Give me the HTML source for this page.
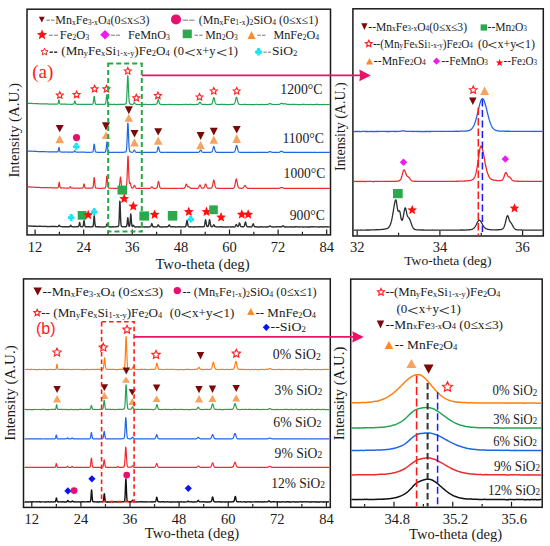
<!DOCTYPE html>
<html><head><meta charset="utf-8"><style>
html,body{margin:0;padding:0;background:#fff;width:550px;height:546px;overflow:hidden}
svg{display:block}
</style></head><body>
<svg width="550" height="546" viewBox="0 0 550 546">
<rect width="550" height="546" fill="#fff"/>
<rect x="27.00" y="9.20" width="303.50" height="225.70" fill="none" stroke="#1a1a1a" stroke-width="1.5"/>
<line x1="35.10" y1="229.50" x2="35.10" y2="234.30" stroke="#1a1a1a" stroke-width="1.2"/>
<line x1="83.70" y1="229.50" x2="83.70" y2="234.30" stroke="#1a1a1a" stroke-width="1.2"/>
<line x1="132.30" y1="229.50" x2="132.30" y2="234.30" stroke="#1a1a1a" stroke-width="1.2"/>
<line x1="180.90" y1="229.50" x2="180.90" y2="234.30" stroke="#1a1a1a" stroke-width="1.2"/>
<line x1="229.50" y1="229.50" x2="229.50" y2="234.30" stroke="#1a1a1a" stroke-width="1.2"/>
<line x1="278.10" y1="229.50" x2="278.10" y2="234.30" stroke="#1a1a1a" stroke-width="1.2"/>
<line x1="326.70" y1="229.50" x2="326.70" y2="234.30" stroke="#1a1a1a" stroke-width="1.2"/>
<line x1="59.40" y1="231.70" x2="59.40" y2="234.30" stroke="#1a1a1a" stroke-width="1.2"/>
<line x1="108.00" y1="231.70" x2="108.00" y2="234.30" stroke="#1a1a1a" stroke-width="1.2"/>
<line x1="156.60" y1="231.70" x2="156.60" y2="234.30" stroke="#1a1a1a" stroke-width="1.2"/>
<line x1="205.20" y1="231.70" x2="205.20" y2="234.30" stroke="#1a1a1a" stroke-width="1.2"/>
<line x1="253.80" y1="231.70" x2="253.80" y2="234.30" stroke="#1a1a1a" stroke-width="1.2"/>
<line x1="302.40" y1="231.70" x2="302.40" y2="234.30" stroke="#1a1a1a" stroke-width="1.2"/>
<text x="35.10" y="251.50" font-size="14.5" fill="#1a1a1a" font-family='"Liberation Serif", serif' text-anchor="middle">12</text>
<text x="83.70" y="251.50" font-size="14.5" fill="#1a1a1a" font-family='"Liberation Serif", serif' text-anchor="middle">24</text>
<text x="132.30" y="251.50" font-size="14.5" fill="#1a1a1a" font-family='"Liberation Serif", serif' text-anchor="middle">36</text>
<text x="180.90" y="251.50" font-size="14.5" fill="#1a1a1a" font-family='"Liberation Serif", serif' text-anchor="middle">48</text>
<text x="229.50" y="251.50" font-size="14.5" fill="#1a1a1a" font-family='"Liberation Serif", serif' text-anchor="middle">60</text>
<text x="278.10" y="251.50" font-size="14.5" fill="#1a1a1a" font-family='"Liberation Serif", serif' text-anchor="middle">72</text>
<text x="326.70" y="251.50" font-size="14.5" fill="#1a1a1a" font-family='"Liberation Serif", serif' text-anchor="middle">84</text>
<text x="155.40" y="269.00" font-size="15" fill="#1a1a1a" font-family='"Liberation Serif", serif' textLength="94.20" lengthAdjust="spacingAndGlyphs">Two-theta (deg)</text>
<text x="18.90" y="177.60" font-size="15" fill="#1a1a1a" font-family='"Liberation Serif", serif' textLength="94.50" lengthAdjust="spacingAndGlyphs" transform="rotate(-90 18.90 177.60)">Intensity (A.U.)</text>
<polygon points="38.90,16.70 44.70,16.70 41.80,22.60" fill="#7a0a0a"/>
<line x1="46.40" y1="20.20" x2="49.85" y2="20.20" stroke="#666" stroke-width="0.9"/>
<line x1="51.05" y1="20.20" x2="54.50" y2="20.20" stroke="#666" stroke-width="0.9"/>
<text x="55.30" y="24.10" font-size="12" fill="#1a1a1a" font-family='"Liberation Serif", serif' textLength="94.20" lengthAdjust="spacingAndGlyphs">Mn<tspan font-size="7.68" dy="0.48">x</tspan><tspan dy="-0.48">Fe</tspan><tspan font-size="7.68" dy="0.48">3-x</tspan><tspan dy="-0.48">O</tspan><tspan font-size="7.68" dy="0.48">4</tspan><tspan dy="-0.48">(0≤x≤3)</tspan></text>
<circle cx="176.00" cy="19.40" r="5.00" fill="#e8106e"/>
<line x1="182.70" y1="20.20" x2="188.00" y2="20.20" stroke="#666" stroke-width="0.9"/>
<line x1="189.20" y1="20.20" x2="194.50" y2="20.20" stroke="#666" stroke-width="0.9"/>
<text x="198.80" y="24.10" font-size="12" fill="#1a1a1a" font-family='"Liberation Serif", serif' textLength="119.40" lengthAdjust="spacingAndGlyphs">(Mn<tspan font-size="7.68" dy="0.48">x</tspan><tspan dy="-0.48">Fe</tspan><tspan font-size="7.68" dy="0.48">1-x</tspan><tspan dy="-0.48">)</tspan><tspan font-size="7.68" dy="0.48">2</tspan><tspan dy="-0.48">SiO</tspan><tspan font-size="7.68" dy="0.48">4</tspan><tspan dy="-0.48"> (0≤x≤1)</tspan></text>
<polygon points="42.00,29.40 43.43,32.83 47.14,33.13 44.31,35.55 45.17,39.17 42.00,37.23 38.83,39.17 39.69,35.55 36.86,33.13 40.57,32.83" fill="#ff1010"/>
<line x1="49.00" y1="35.20" x2="52.90" y2="35.20" stroke="#666" stroke-width="0.9"/>
<line x1="54.10" y1="35.20" x2="58.00" y2="35.20" stroke="#666" stroke-width="0.9"/>
<text x="59.80" y="39.10" font-size="12.5" fill="#1a1a1a" font-family='"Liberation Serif", serif'>Fe<tspan font-size="8.00" dy="0.50">2</tspan><tspan dy="-0.50">O</tspan><tspan font-size="8.00" dy="0.50">3</tspan></text>
<polygon points="105.00,29.90 109.80,34.70 105.00,39.50 100.20,34.70" fill="#f01af0"/>
<line x1="111.00" y1="35.20" x2="114.90" y2="35.20" stroke="#666" stroke-width="0.9"/>
<line x1="116.10" y1="35.20" x2="120.00" y2="35.20" stroke="#666" stroke-width="0.9"/>
<text x="128.00" y="39.10" font-size="12" fill="#1a1a1a" font-family='"Liberation Serif", serif' textLength="42.00" lengthAdjust="spacingAndGlyphs">FeMnO<tspan font-size="7.68" dy="0.48">3</tspan></text>
<rect x="182.70" y="29.60" width="9.10" height="8.60" fill="#2ca84f"/>
<line x1="194.50" y1="35.20" x2="198.00" y2="35.20" stroke="#666" stroke-width="0.9"/>
<line x1="199.20" y1="35.20" x2="202.70" y2="35.20" stroke="#666" stroke-width="0.9"/>
<text x="205.30" y="39.10" font-size="12" fill="#1a1a1a" font-family='"Liberation Serif", serif' textLength="32.50" lengthAdjust="spacingAndGlyphs">Mn<tspan font-size="7.68" dy="0.48">2</tspan><tspan dy="-0.48">O</tspan><tspan font-size="7.68" dy="0.48">3</tspan></text>
<polygon points="251.50,31.00 255.50,39.00 247.50,39.00" fill="#ff8a2a"/>
<line x1="257.30" y1="35.20" x2="260.80" y2="35.20" stroke="#666" stroke-width="0.9"/>
<line x1="262.00" y1="35.20" x2="265.50" y2="35.20" stroke="#666" stroke-width="0.9"/>
<text x="273.40" y="39.10" font-size="12" fill="#1a1a1a" font-family='"Liberation Serif", serif' textLength="45.70" lengthAdjust="spacingAndGlyphs">MnFe<tspan font-size="7.68" dy="0.48">2</tspan><tspan dy="-0.48">O</tspan><tspan font-size="7.68" dy="0.48">4</tspan></text>
<polygon points="44.50,48.20 45.54,50.46 48.02,50.76 46.19,52.45 46.67,54.89 44.50,53.68 42.33,54.89 42.81,52.45 40.98,50.76 43.46,50.46" fill="none" stroke="#ff2020" stroke-width="1.0" stroke-linejoin="miter"/>
<line x1="49.60" y1="52.20" x2="52.85" y2="52.20" stroke="#222" stroke-width="1.4"/>
<line x1="54.05" y1="52.20" x2="57.30" y2="52.20" stroke="#222" stroke-width="1.4"/>
<text x="61.30" y="55.40" font-size="13" fill="#1a1a1a" font-family='"Liberation Serif", serif' textLength="108.30" lengthAdjust="spacingAndGlyphs">(Mn<tspan font-size="8.32" dy="0.52">y</tspan><tspan dy="-0.52">Fe</tspan><tspan font-size="8.32" dy="0.52">x</tspan><tspan dy="-0.52">Si</tspan><tspan font-size="8.32" dy="0.52">1-x-y</tspan><tspan dy="-0.52">)Fe</tspan><tspan font-size="8.32" dy="0.52">2</tspan><tspan dy="-0.52">O</tspan><tspan font-size="8.32" dy="0.52">4</tspan></text>
<text x="173.60" y="55.40" font-size="12.5" fill="#1a1a1a" font-family='"Liberation Serif", serif'>(0</text>
<polyline points="194.79,49.65 185.66,52.77 194.79,55.90" fill="none" stroke="#1a1a1a" stroke-width="0.88" stroke-linejoin="miter"/>
<text x="195.94" y="55.40" font-size="12.5" fill="#1a1a1a" font-family='"Liberation Serif", serif'>x+y</text>
<polyline points="226.44,49.65 217.31,52.77 226.44,55.90" fill="none" stroke="#1a1a1a" stroke-width="0.88" stroke-linejoin="miter"/>
<text x="227.59" y="55.40" font-size="12.5" fill="#1a1a1a" font-family='"Liberation Serif", serif'>1)</text>
<g fill="#19e6f5"><circle cx="258.60" cy="49.53" r="1.85"/><circle cx="256.75" cy="52.08" r="1.85"/><circle cx="260.45" cy="52.08" r="1.85"/><polygon points="258.10,51.20 259.10,51.20 260.14,55.38 257.06,55.38"/></g>
<line x1="263.40" y1="52.20" x2="266.60" y2="52.20" stroke="#666" stroke-width="0.9"/>
<line x1="267.80" y1="52.20" x2="271.00" y2="52.20" stroke="#666" stroke-width="0.9"/>
<text x="272.00" y="55.40" font-size="12.5" fill="#1a1a1a" font-family='"Liberation Serif", serif' textLength="25.30" lengthAdjust="spacingAndGlyphs">SiO<tspan font-size="8.00" dy="0.50">2</tspan></text>
<text x="32.30" y="77.80" font-size="19" fill="#ff1a1a" font-family='"Liberation Serif", serif'>(a)</text>
<polyline points="27.80,103.25 28.05,103.33 28.30,103.37 28.55,103.33 28.80,103.34 29.05,103.35 29.30,103.39 29.55,103.43 29.80,103.36 30.05,103.32 30.30,103.41 30.55,103.41 30.80,103.47 31.05,103.39 31.30,103.42 31.55,103.47 31.80,103.44 32.05,103.53 32.30,103.58 32.55,103.49 32.80,103.44 33.05,103.49 33.30,103.57 33.55,103.55 33.80,103.52 34.05,103.53 34.30,103.49 34.55,103.49 34.80,103.53 35.05,103.56 35.30,103.55 35.55,103.54 35.80,103.54 36.05,103.58 36.30,103.58 36.55,103.55 36.80,103.65 37.05,103.67 37.30,103.70 37.55,103.65 37.80,103.75 38.05,103.78 38.30,103.71 38.55,103.69 38.80,103.74 39.05,103.77 39.30,103.83 39.55,103.79 39.80,103.83 40.05,103.83 40.30,103.78 40.55,103.80 40.80,103.85 41.05,103.88 41.30,103.85 41.55,103.85 41.80,103.77 42.05,103.76 42.30,103.83 42.55,103.82 42.80,103.79 43.05,103.82 43.30,103.87 43.55,103.89 43.80,103.87 44.05,103.86 44.30,103.87 44.55,103.92 44.80,103.92 45.05,103.90 45.30,103.90 45.55,103.84 45.80,103.81 46.05,103.88 46.30,103.97 46.55,103.97 46.80,103.95 47.05,103.90 47.30,103.92 47.55,104.01 47.80,104.03 48.05,104.01 48.30,104.05 48.55,103.98 48.80,103.99 49.05,104.05 49.30,104.04 49.55,104.02 49.80,103.98 50.05,104.00 50.30,104.07 50.55,103.98 50.80,104.04 51.05,104.08 51.30,104.12 51.55,104.12 51.80,104.13 52.05,104.10 52.30,104.09 52.55,104.07 52.80,104.00 53.05,104.08 53.30,104.08 53.55,104.03 53.80,104.05 54.05,104.06 54.30,104.05 54.55,104.04 54.80,104.06 55.05,104.09 55.30,104.11 55.55,104.10 55.80,104.03 56.05,104.01 56.30,104.00 56.55,104.05 56.80,104.11 57.05,104.14 57.30,104.14 57.55,104.12 57.80,103.91 58.05,103.52 58.30,102.59 58.55,101.12 58.80,99.90 59.05,100.03 59.30,101.41 59.55,102.73 59.80,103.52 60.05,103.92 60.30,104.03 60.55,104.03 60.80,104.03 61.05,104.09 61.30,104.07 61.55,104.08 61.80,104.15 62.05,104.16 62.30,104.15 62.55,104.16 62.80,104.11 63.05,104.13 63.30,104.15 63.55,104.13 63.80,104.10 64.05,104.21 64.30,104.21 64.55,104.17 64.80,104.21 65.05,104.26 65.30,104.18 65.55,104.13 65.80,104.12 66.05,104.20 66.30,104.17 66.55,104.23 66.80,104.26 67.05,104.26 67.30,104.22 67.55,104.30 67.80,104.32 68.05,104.30 68.30,104.24 68.55,104.27 68.80,104.25 69.05,104.27 69.30,104.24 69.55,104.27 69.80,104.21 70.05,104.20 70.30,104.30 70.55,104.34 70.80,104.29 71.05,104.33 71.30,104.28 71.55,104.34 71.80,104.35 72.05,104.31 72.30,104.25 72.55,104.19 72.80,104.27 73.05,104.19 73.30,104.23 73.55,104.20 73.80,103.92 74.05,103.28 74.30,102.40 74.55,101.42 74.80,100.90 75.05,101.38 75.30,102.38 75.55,103.29 75.80,103.83 76.05,104.14 76.30,104.23 76.55,104.22 76.80,104.20 77.05,104.27 77.30,104.26 77.55,104.28 77.80,104.27 78.05,104.35 78.30,104.40 78.55,104.30 78.80,104.27 79.05,104.27 79.30,104.37 79.55,104.40 79.80,104.35 80.05,104.31 80.30,104.35 80.55,104.40 80.80,104.44 81.05,104.38 81.30,104.42 81.55,104.42 81.80,104.39 82.05,104.45 82.30,104.37 82.55,104.40 82.80,104.32 83.05,104.29 83.30,104.38 83.55,104.33 83.80,104.38 84.05,104.39 84.30,104.43 84.55,104.39 84.80,104.36 85.05,104.33 85.30,104.40 85.55,104.40 85.80,104.46 86.05,104.48 86.30,104.38 86.55,104.39 86.80,104.33 87.05,104.28 87.30,104.26 87.55,104.36 87.80,104.41 88.05,104.44 88.30,104.39 88.55,104.40 88.80,104.43 89.05,104.39 89.30,104.39 89.55,104.34 89.80,104.29 90.05,104.29 90.30,104.37 90.55,104.38 90.80,104.43 91.05,104.39 91.30,104.34 91.55,104.37 91.80,104.39 92.05,104.28 92.30,104.28 92.55,104.14 92.80,103.90 93.05,103.49 93.30,102.35 93.55,100.57 93.80,98.44 94.05,96.59 94.30,96.33 94.55,97.90 94.80,100.13 95.05,102.11 95.30,103.26 95.55,103.95 95.80,104.17 96.05,104.34 96.30,104.41 96.55,104.36 96.80,104.33 97.05,104.35 97.30,104.30 97.55,104.36 97.80,104.30 98.05,104.27 98.30,104.39 98.55,104.36 98.80,104.39 99.05,104.39 99.30,104.37 99.55,104.32 99.80,104.41 100.05,104.48 100.30,104.52 100.55,104.41 100.80,104.37 101.05,104.40 101.30,104.47 101.55,104.45 101.80,104.46 102.05,104.46 102.30,104.40 102.55,104.40 102.80,104.37 103.05,104.34 103.30,104.29 103.55,104.29 103.80,104.39 104.05,104.36 104.30,104.36 104.55,104.35 104.80,104.36 105.05,104.23 105.30,103.96 105.55,103.41 105.80,102.33 106.05,100.60 106.30,98.29 106.55,95.97 106.80,94.92 107.05,95.95 107.30,98.23 107.55,100.60 107.80,102.35 108.05,103.36 108.30,103.89 108.55,104.08 108.80,104.23 109.05,104.23 109.30,104.23 109.55,104.31 109.80,104.32 110.05,104.39 110.30,104.40 110.55,104.46 110.80,104.39 111.05,104.40 111.30,104.45 111.55,104.38 111.80,104.46 112.05,104.40 112.30,104.45 112.55,104.51 112.80,104.53 113.05,104.46 113.30,104.40 113.55,104.41 113.80,104.48 114.05,104.44 114.30,104.49 114.55,104.42 114.80,104.49 115.05,104.40 115.30,104.39 115.55,104.47 115.80,104.50 116.05,104.53 116.30,104.55 116.55,104.54 116.80,104.53 117.05,104.44 117.30,104.43 117.55,104.38 117.80,104.44 118.05,104.46 118.30,104.41 118.55,104.36 118.80,104.46 119.05,104.49 119.30,104.47 119.55,104.46 119.80,104.50 120.05,104.46 120.30,104.43 120.55,104.40 120.80,104.37 121.05,104.32 121.30,104.38 121.55,104.38 121.80,104.39 122.05,104.33 122.30,104.33 122.55,104.30 122.80,104.27 123.05,104.27 123.30,104.35 123.55,104.32 123.80,104.30 124.05,104.31 124.30,104.25 124.55,104.17 124.80,104.18 125.05,104.15 125.30,104.12 125.55,104.01 125.80,103.84 126.05,103.40 126.30,102.29 126.55,100.15 126.80,96.36 127.05,90.73 127.30,84.03 127.55,78.03 127.80,75.52 128.05,78.14 128.30,84.09 128.55,90.81 128.80,96.32 129.05,100.06 129.30,102.25 129.55,103.37 129.80,103.78 130.05,104.03 130.30,104.18 130.55,104.19 130.80,104.26 131.05,104.33 131.30,104.31 131.55,104.35 131.80,104.38 132.05,104.38 132.30,104.41 132.55,104.42 132.80,104.40 133.05,104.26 133.30,103.98 133.55,103.65 133.80,103.23 134.05,102.88 134.30,102.67 134.55,102.64 134.80,102.98 135.05,103.42 135.30,103.77 135.55,104.06 135.80,104.20 136.05,104.35 136.30,104.33 136.55,104.45 136.80,104.49 137.05,104.49 137.30,104.44 137.55,104.50 137.80,104.55 138.05,104.46 138.30,104.50 138.55,104.53 138.80,104.53 139.05,104.53 139.30,104.49 139.55,104.54 139.80,104.58 140.05,104.52 140.30,104.54 140.55,104.50 140.80,104.44 141.05,104.43 141.30,104.39 141.55,104.48 141.80,104.54 142.05,104.46 142.30,104.48 142.55,104.46 142.80,104.41 143.05,104.41 143.30,104.40 143.55,104.46 143.80,104.40 144.05,104.38 144.30,104.41 144.55,104.37 144.80,104.43 145.05,104.46 145.30,104.52 145.55,104.46 145.80,104.44 146.05,104.46 146.30,104.43 146.55,104.46 146.80,104.43 147.05,104.48 147.30,104.52 147.55,104.55 147.80,104.59 148.05,104.55 148.30,104.52 148.55,104.55 148.80,104.56 149.05,104.54 149.30,104.50 149.55,104.46 149.80,104.41 150.05,104.48 150.30,104.42 150.55,104.48 150.80,104.49 151.05,104.55 151.30,104.56 151.55,104.59 151.80,104.49 152.05,104.48 152.30,104.49 152.55,104.45 152.80,104.46 153.05,104.44 153.30,104.46 153.55,104.39 153.80,104.41 154.05,104.42 154.30,104.40 154.55,104.41 154.80,104.46 155.05,104.48 155.30,104.45 155.55,104.46 155.80,104.41 156.05,104.33 156.30,104.20 156.55,104.06 156.80,103.83 157.05,103.42 157.30,102.73 157.55,101.76 157.80,100.79 158.05,99.89 158.30,99.57 158.55,99.87 158.80,100.75 159.05,101.83 159.30,102.70 159.55,103.36 159.80,103.88 160.05,104.16 160.30,104.28 160.55,104.29 160.80,104.34 161.05,104.38 161.30,104.39 161.55,104.47 161.80,104.48 162.05,104.51 162.30,104.55 162.55,104.55 162.80,104.52 163.05,104.54 163.30,104.53 163.55,104.53 163.80,104.53 164.05,104.50 164.30,104.51 164.55,104.52 164.80,104.57 165.05,104.57 165.30,104.59 165.55,104.58 165.80,104.59 166.05,104.56 166.30,104.51 166.55,104.47 166.80,104.50 167.05,104.55 167.30,104.53 167.55,104.46 167.80,104.52 168.05,104.51 168.30,104.49 168.55,104.43 168.80,104.45 169.05,104.50 169.30,104.49 169.55,104.47 169.80,104.50 170.05,104.43 170.30,104.45 170.55,104.53 170.80,104.54 171.05,104.51 171.30,104.53 171.55,104.53 171.80,104.47 172.05,104.44 172.30,104.51 172.55,104.47 172.80,104.42 173.05,104.50 173.30,104.50 173.55,104.48 173.80,104.48 174.05,104.52 174.30,104.46 174.55,104.50 174.80,104.53 175.05,104.56 175.30,104.50 175.55,104.51 175.80,104.47 176.05,104.48 176.30,104.44 176.55,104.50 176.80,104.55 177.05,104.50 177.30,104.46 177.55,104.54 177.80,104.55 178.05,104.58 178.30,104.48 178.55,104.54 178.80,104.54 179.05,104.49 179.30,104.48 179.55,104.53 179.80,104.55 180.05,104.48 180.30,104.51 180.55,104.45 180.80,104.54 181.05,104.51 181.30,104.56 181.55,104.57 181.80,104.55 182.05,104.50 182.30,104.50 182.55,104.44 182.80,104.41 183.05,104.48 183.30,104.46 183.55,104.51 183.80,104.47 184.05,104.51 184.30,104.53 184.55,104.49 184.80,104.43 185.05,104.44 185.30,104.46 185.55,104.42 185.80,104.40 186.05,104.37 186.30,104.44 186.55,104.51 186.80,104.46 187.05,104.41 187.30,104.47 187.55,104.53 187.80,104.58 188.05,104.56 188.30,104.51 188.55,104.55 188.80,104.47 189.05,104.51 189.30,104.44 189.55,104.45 189.80,104.46 190.05,104.46 190.30,104.42 190.55,104.41 190.80,104.49 191.05,104.48 191.30,104.50 191.55,104.45 191.80,104.50 192.05,104.47 192.30,104.49 192.55,104.55 192.80,104.60 193.05,104.49 193.30,104.53 193.55,104.56 193.80,104.51 194.05,104.48 194.30,104.49 194.55,104.55 194.80,104.51 195.05,104.55 195.30,104.56 195.55,104.48 195.80,104.53 196.05,104.44 196.30,104.40 196.55,104.45 196.80,104.39 197.05,104.39 197.30,104.35 197.55,104.36 197.80,104.39 198.05,104.37 198.30,104.15 198.55,103.90 198.80,103.70 199.05,103.28 199.30,102.86 199.55,102.45 199.80,102.15 200.05,102.06 200.30,102.30 200.55,102.69 200.80,103.12 201.05,103.56 201.30,103.88 201.55,104.09 201.80,104.27 202.05,104.43 202.30,104.47 202.55,104.44 202.80,104.39 203.05,104.48 203.30,104.49 203.55,104.46 203.80,104.48 204.05,104.48 204.30,104.48 204.55,104.41 204.80,104.42 205.05,104.43 205.30,104.40 205.55,104.48 205.80,104.47 206.05,104.49 206.30,104.51 206.55,104.53 206.80,104.54 207.05,104.55 207.30,104.48 207.55,104.54 207.80,104.46 208.05,104.52 208.30,104.54 208.55,104.56 208.80,104.45 209.05,104.39 209.30,104.45 209.55,104.44 209.80,104.41 210.05,104.48 210.30,104.38 210.55,104.38 210.80,104.36 211.05,104.27 211.30,104.21 211.55,104.12 211.80,103.94 212.05,103.47 212.30,102.90 212.55,102.03 212.80,101.07 213.05,99.85 213.30,98.68 213.55,97.85 213.80,97.58 214.05,97.89 214.30,98.71 214.55,99.91 214.80,101.11 215.05,102.17 215.30,102.93 215.55,103.50 215.80,103.85 216.05,104.11 216.30,104.23 216.55,104.29 216.80,104.39 217.05,104.47 217.30,104.47 217.55,104.40 217.80,104.44 218.05,104.44 218.30,104.51 218.55,104.52 218.80,104.55 219.05,104.54 219.30,104.52 219.55,104.55 219.80,104.57 220.05,104.50 220.30,104.44 220.55,104.43 220.80,104.45 221.05,104.40 221.30,104.41 221.55,104.45 221.80,104.39 222.05,104.47 222.30,104.50 222.55,104.46 222.80,104.44 223.05,104.44 223.30,104.43 223.55,104.48 223.80,104.48 224.05,104.49 224.30,104.43 224.55,104.51 224.80,104.47 225.05,104.45 225.30,104.40 225.55,104.50 225.80,104.49 226.05,104.55 226.30,104.58 226.55,104.61 226.80,104.60 227.05,104.61 227.30,104.62 227.55,104.61 227.80,104.50 228.05,104.49 228.30,104.50 228.55,104.56 228.80,104.56 229.05,104.56 229.30,104.56 229.55,104.50 229.80,104.55 230.05,104.54 230.30,104.49 230.55,104.47 230.80,104.53 231.05,104.50 231.30,104.43 231.55,104.39 231.80,104.43 232.05,104.44 232.30,104.49 232.55,104.41 232.80,104.39 233.05,104.41 233.30,104.32 233.55,104.24 233.80,104.21 234.05,104.07 234.30,103.83 234.55,103.50 234.80,103.04 235.05,102.35 235.30,101.38 235.55,100.27 235.80,99.23 236.05,98.22 236.30,97.45 236.55,97.34 236.80,97.67 237.05,98.54 237.30,99.71 237.55,100.86 237.80,101.83 238.05,102.73 238.30,103.35 238.55,103.82 238.80,104.13 239.05,104.25 239.30,104.35 239.55,104.39 239.80,104.47 240.05,104.50 240.30,104.50 240.55,104.52 240.80,104.56 241.05,104.48 241.30,104.43 241.55,104.48 241.80,104.51 242.05,104.49 242.30,104.48 242.55,104.46 242.80,104.52 243.05,104.54 243.30,104.53 243.55,104.44 243.80,104.51 244.05,104.49 244.30,104.44 244.55,104.43 244.80,104.48 245.05,104.41 245.30,104.38 245.55,104.40 245.80,104.49 246.05,104.52 246.30,104.58 246.55,104.55 246.80,104.53 247.05,104.52 247.30,104.51 247.55,104.51 247.80,104.55 248.05,104.59 248.30,104.54 248.55,104.54 248.80,104.49 249.05,104.46 249.30,104.47 249.55,104.49 249.80,104.50 250.05,104.56 250.30,104.49 250.55,104.51 250.80,104.57 251.05,104.57 251.30,104.55 251.55,104.51 251.80,104.49 252.05,104.55 252.30,104.59 252.55,104.57 252.80,104.60 253.05,104.62 253.30,104.62 253.55,104.55 253.80,104.52 254.05,104.55 254.30,104.51 254.55,104.54 254.80,104.52 255.05,104.49 255.30,104.48 255.55,104.43 255.80,104.44 256.05,104.45 256.30,104.40 256.55,104.39 256.80,104.40 257.05,104.49 257.30,104.50 257.55,104.47 257.80,104.55 258.05,104.49 258.30,104.50 258.55,104.53 258.80,104.54 259.05,104.51 259.30,104.55 259.55,104.52 259.80,104.54 260.05,104.52 260.30,104.58 260.55,104.58 260.80,104.48 261.05,104.43 261.30,104.53 261.55,104.47 261.80,104.41 262.05,104.41 262.30,104.44 262.55,104.53 262.80,104.50 263.05,104.53 263.30,104.56 263.55,104.47 263.80,104.50 264.05,104.57 264.30,104.54 264.55,104.53 264.80,104.49 265.05,104.55 265.30,104.59 265.55,104.49 265.80,104.50 266.05,104.48 266.30,104.50 266.55,104.44 266.80,104.42 267.05,104.40 267.30,104.41 267.55,104.44 267.80,104.45 268.05,104.42 268.30,104.34 268.55,104.16 268.80,104.03 269.05,103.94 269.30,103.78 269.55,103.68 269.80,103.67 270.05,103.57 270.30,103.68 270.55,103.70 270.80,103.82 271.05,104.02 271.30,104.08 271.55,104.20 271.80,104.28 272.05,104.41 272.30,104.50 272.55,104.46 272.80,104.47 273.05,104.53 273.30,104.52 273.55,104.46 273.80,104.51 274.05,104.48 274.30,104.48 274.55,104.41 274.80,104.51 275.05,104.52 275.30,104.57 275.55,104.60 275.80,104.52 276.05,104.51 276.30,104.49 276.55,104.52 276.80,104.56 277.05,104.49 277.30,104.45 277.55,104.49 277.80,104.47 278.05,104.41 278.30,104.38 278.55,104.41 278.80,104.42 279.05,104.47 279.30,104.40 279.55,104.33 279.80,104.18 280.05,104.06 280.30,103.89 280.55,103.78 280.80,103.58 281.05,103.40 281.30,103.28 281.55,103.24 281.80,103.25 282.05,103.37 282.30,103.46 282.55,103.68 282.80,103.82 283.05,103.91 283.30,103.90 283.55,103.91 283.80,103.93 284.05,103.89 284.30,103.86 284.55,103.82 284.80,103.71 285.05,103.69 285.30,103.70 285.55,103.73 285.80,103.81 286.05,103.92 286.30,104.01 286.55,104.15 286.80,104.29 287.05,104.36 287.30,104.43 287.55,104.41 287.80,104.39 288.05,104.44 288.30,104.51 288.55,104.49 288.80,104.42 289.05,104.38 289.30,104.39 289.55,104.45 289.80,104.40 290.05,104.40 290.30,104.46 290.55,104.54 290.80,104.50 291.05,104.51 291.30,104.51 291.55,104.43 291.80,104.43 292.05,104.40 292.30,104.40 292.55,104.48 292.80,104.51 293.05,104.44 293.30,104.40 293.55,104.47 293.80,104.42 294.05,104.43 294.30,104.42 294.55,104.39 294.80,104.36 295.05,104.36 295.30,104.40 295.55,104.50 295.80,104.52 296.05,104.47 296.30,104.51 296.55,104.47 296.80,104.48 297.05,104.46 297.30,104.54 297.55,104.50 297.80,104.54 298.05,104.55 298.30,104.58 298.55,104.56 298.80,104.59 299.05,104.54 299.30,104.55 299.55,104.54 299.80,104.53 300.05,104.53 300.30,104.52 300.55,104.50 300.80,104.55 301.05,104.55 301.30,104.54 301.55,104.46 301.80,104.47 302.05,104.44 302.30,104.42 302.55,104.44 302.80,104.47 303.05,104.45 303.30,104.43 303.55,104.46 303.80,104.47 304.05,104.47 304.30,104.42 304.55,104.44 304.80,104.48 305.05,104.50 305.30,104.50 305.55,104.55 305.80,104.56 306.05,104.56 306.30,104.47 306.55,104.45 306.80,104.50 307.05,104.45 307.30,104.53 307.55,104.46 307.80,104.53 308.05,104.48 308.30,104.54 308.55,104.57 308.80,104.52 309.05,104.57 309.30,104.49 309.55,104.54 309.80,104.51 310.05,104.50 310.30,104.44 310.55,104.48 310.80,104.45 311.05,104.50 311.30,104.54 311.55,104.54 311.80,104.45 312.05,104.54 312.30,104.58 312.55,104.57 312.80,104.52 313.05,104.52 313.30,104.57 313.55,104.53 313.80,104.56 314.05,104.55 314.30,104.52 314.55,104.57 314.80,104.53 315.05,104.53 315.30,104.46 315.55,104.47 315.80,104.41 316.05,104.48 316.30,104.41 316.55,104.38 316.80,104.37 317.05,104.37 317.30,104.42 317.55,104.43 317.80,104.43 318.05,104.53 318.30,104.57 318.55,104.57 318.80,104.58 319.05,104.60 319.30,104.52 319.55,104.56 319.80,104.50 320.05,104.51 320.30,104.48 320.55,104.44 320.80,104.50 321.05,104.56 321.30,104.51 321.55,104.56 321.80,104.51 322.05,104.53 322.30,104.59 322.55,104.59 322.80,104.49 323.05,104.49 323.30,104.47 323.55,104.45 323.80,104.52 324.05,104.50 324.30,104.53 324.55,104.54 324.80,104.52 325.05,104.45 325.30,104.49 325.55,104.55 325.80,104.48 326.05,104.51 326.30,104.50 326.55,104.48 326.80,104.52 327.05,104.58 327.30,104.48 327.55,104.54 327.80,104.51 328.05,104.55 328.30,104.48 328.55,104.52 328.80,104.46 329.05,104.45 329.30,104.54 329.55,104.54 329.80,104.57" fill="none" stroke="#23a455" stroke-width="1.2" stroke-linejoin="round"/>
<polyline points="27.80,151.06 28.05,151.12 28.30,151.03 28.55,150.98 28.80,151.07 29.05,151.11 29.30,151.13 29.55,151.10 29.80,151.12 30.05,151.14 30.30,151.16 30.55,151.11 30.80,151.13 31.05,151.14 31.30,151.19 31.55,151.27 31.80,151.32 32.05,151.29 32.30,151.27 32.55,151.23 32.80,151.18 33.05,151.15 33.30,151.20 33.55,151.22 33.80,151.24 34.05,151.33 34.30,151.34 34.55,151.35 34.80,151.31 35.05,151.27 35.30,151.29 35.55,151.27 35.80,151.33 36.05,151.43 36.30,151.45 36.55,151.40 36.80,151.47 37.05,151.50 37.30,151.52 37.55,151.56 37.80,151.56 38.05,151.57 38.30,151.52 38.55,151.58 38.80,151.62 39.05,151.53 39.30,151.57 39.55,151.59 39.80,151.56 40.05,151.56 40.30,151.56 40.55,151.63 40.80,151.61 41.05,151.65 41.30,151.61 41.55,151.66 41.80,151.70 42.05,151.66 42.30,151.66 42.55,151.71 42.80,151.71 43.05,151.69 43.30,151.63 43.55,151.62 43.80,151.67 44.05,151.63 44.30,151.71 44.55,151.67 44.80,151.74 45.05,151.70 45.30,151.77 45.55,151.78 45.80,151.76 46.05,151.75 46.30,151.77 46.55,151.77 46.80,151.74 47.05,151.70 47.30,151.73 47.55,151.81 47.80,151.81 48.05,151.74 48.30,151.81 48.55,151.84 48.80,151.88 49.05,151.81 49.30,151.84 49.55,151.77 49.80,151.81 50.05,151.79 50.30,151.77 50.55,151.85 50.80,151.79 51.05,151.82 51.30,151.89 51.55,151.84 51.80,151.81 52.05,151.89 52.30,151.87 52.55,151.91 52.80,151.83 53.05,151.84 53.30,151.81 53.55,151.87 53.80,151.82 54.05,151.92 54.30,151.85 54.55,151.91 54.80,151.84 55.05,151.84 55.30,151.92 55.55,151.87 55.80,151.85 56.05,151.91 56.30,151.90 56.55,151.85 56.80,151.95 57.05,151.88 57.30,151.82 57.55,151.81 57.80,151.76 58.05,151.51 58.30,150.69 58.55,149.35 58.80,147.83 59.05,147.37 59.30,148.48 59.55,150.04 59.80,151.21 60.05,151.77 60.30,151.99 60.55,152.04 60.80,152.02 61.05,151.98 61.30,152.02 61.55,151.99 61.80,151.95 62.05,151.98 62.30,152.06 62.55,152.00 62.80,152.03 63.05,152.02 63.30,152.04 63.55,152.00 63.80,152.09 64.05,152.05 64.30,152.07 64.55,152.06 64.80,152.00 65.05,152.04 65.30,152.01 65.55,151.98 65.80,151.96 66.05,151.96 66.30,151.96 66.55,152.04 66.80,152.06 67.05,152.15 67.30,152.20 67.55,152.23 67.80,152.15 68.05,152.13 68.30,152.09 68.55,152.12 68.80,152.14 69.05,152.18 69.30,152.19 69.55,152.13 69.80,152.12 70.05,152.13 70.30,152.06 70.55,152.03 70.80,152.06 71.05,152.04 71.30,152.12 71.55,152.09 71.80,152.06 72.05,152.05 72.30,152.05 72.55,152.05 72.80,152.09 73.05,152.11 73.30,152.08 73.55,152.08 73.80,151.94 74.05,151.77 74.30,151.43 74.55,150.98 74.80,150.72 75.05,150.93 75.30,151.38 75.55,151.70 75.80,151.96 76.05,152.09 76.30,152.10 76.55,152.08 76.80,152.17 77.05,152.16 77.30,152.18 77.55,152.25 77.80,152.25 78.05,152.20 78.30,152.27 78.55,152.23 78.80,152.15 79.05,152.20 79.30,152.15 79.55,152.15 79.80,152.23 80.05,152.25 80.30,152.17 80.55,152.19 80.80,152.19 81.05,152.20 81.30,152.17 81.55,152.21 81.80,152.16 82.05,152.16 82.30,152.17 82.55,152.26 82.80,152.19 83.05,152.25 83.30,152.20 83.55,152.23 83.80,152.22 84.05,152.22 84.30,152.27 84.55,152.25 84.80,152.19 85.05,152.16 85.30,152.14 85.55,152.23 85.80,152.26 86.05,152.32 86.30,152.32 86.55,152.23 86.80,152.26 87.05,152.30 87.30,152.32 87.55,152.29 87.80,152.26 88.05,152.25 88.30,152.30 88.55,152.25 88.80,152.26 89.05,152.25 89.30,152.32 89.55,152.34 89.80,152.37 90.05,152.37 90.30,152.29 90.55,152.23 90.80,152.23 91.05,152.20 91.30,152.20 91.55,152.23 91.80,152.27 92.05,152.24 92.30,152.23 92.55,152.07 92.80,151.84 93.05,151.41 93.30,150.26 93.55,148.46 93.80,146.15 94.05,144.27 94.30,144.16 94.55,145.86 94.80,148.11 95.05,149.96 95.30,151.16 95.55,151.75 95.80,152.05 96.05,152.18 96.30,152.20 96.55,152.22 96.80,152.18 97.05,152.22 97.30,152.30 97.55,152.33 97.80,152.25 98.05,152.26 98.30,152.30 98.55,152.26 98.80,152.33 99.05,152.31 99.30,152.33 99.55,152.30 99.80,152.37 100.05,152.38 100.30,152.35 100.55,152.28 100.80,152.28 101.05,152.21 101.30,152.26 101.55,152.33 101.80,152.27 102.05,152.28 102.30,152.28 102.55,152.26 102.80,152.30 103.05,152.35 103.30,152.35 103.55,152.31 103.80,152.35 104.05,152.28 104.30,152.29 104.55,152.27 104.80,152.26 105.05,152.23 105.30,152.04 105.55,151.75 105.80,151.04 106.05,149.71 106.30,147.61 106.55,144.91 106.80,142.45 107.05,141.76 107.30,143.32 107.55,146.00 107.80,148.54 108.05,150.40 108.30,151.36 108.55,151.93 108.80,152.15 109.05,152.23 109.30,152.30 109.55,152.35 109.80,152.26 110.05,152.32 110.30,152.35 110.55,152.28 110.80,152.33 111.05,152.33 111.30,152.28 111.55,152.34 111.80,152.28 112.05,152.31 112.30,152.30 112.55,152.28 112.80,152.30 113.05,152.31 113.30,152.27 113.55,152.36 113.80,152.29 114.05,152.23 114.30,152.27 114.55,152.34 114.80,152.36 115.05,152.39 115.30,152.36 115.55,152.38 115.80,152.33 116.05,152.30 116.30,152.31 116.55,152.25 116.80,152.22 117.05,152.30 117.30,152.27 117.55,152.33 117.80,152.37 118.05,152.34 118.30,152.36 118.55,152.39 118.80,152.42 119.05,152.33 119.30,152.28 119.55,152.28 119.80,152.29 120.05,152.27 120.30,152.22 120.55,152.26 120.80,152.35 121.05,152.31 121.30,152.31 121.55,152.29 121.80,152.28 122.05,152.34 122.30,152.29 122.55,152.30 122.80,152.28 123.05,152.28 123.30,152.32 123.55,152.22 123.80,152.26 124.05,152.20 124.30,152.21 124.55,152.22 124.80,152.19 125.05,152.11 125.30,152.09 125.55,151.93 125.80,151.80 126.05,151.44 126.30,150.66 126.55,149.03 126.80,145.89 127.05,140.85 127.30,134.21 127.55,127.40 127.80,122.99 128.05,123.51 128.30,128.63 128.55,135.62 128.80,141.90 129.05,146.61 129.30,149.41 129.55,150.85 129.80,151.50 130.05,151.75 130.30,151.91 130.55,151.96 130.80,152.04 131.05,152.07 131.30,152.18 131.55,152.25 131.80,152.23 132.05,152.25 132.30,152.30 132.55,152.22 132.80,152.09 133.05,151.94 133.30,151.67 133.55,151.34 133.80,150.84 134.05,150.33 134.30,150.07 134.55,150.07 134.80,150.51 135.05,151.03 135.30,151.49 135.55,151.91 135.80,152.10 136.05,152.27 136.30,152.37 136.55,152.36 136.80,152.38 137.05,152.43 137.30,152.43 137.55,152.43 137.80,152.45 138.05,152.47 138.30,152.46 138.55,152.49 138.80,152.40 139.05,152.40 139.30,152.41 139.55,152.37 139.80,152.35 140.05,152.31 140.30,152.40 140.55,152.36 140.80,152.36 141.05,152.42 141.30,152.35 141.55,152.42 141.80,152.35 142.05,152.29 142.30,152.30 142.55,152.31 142.80,152.39 143.05,152.44 143.30,152.45 143.55,152.41 143.80,152.40 144.05,152.35 144.30,152.41 144.55,152.38 144.80,152.35 145.05,152.38 145.30,152.33 145.55,152.32 145.80,152.40 146.05,152.33 146.30,152.30 146.55,152.29 146.80,152.29 147.05,152.31 147.30,152.30 147.55,152.31 147.80,152.30 148.05,152.29 148.30,152.34 148.55,152.33 148.80,152.33 149.05,152.39 149.30,152.32 149.55,152.29 149.80,152.37 150.05,152.36 150.30,152.41 150.55,152.34 150.80,152.36 151.05,152.41 151.30,152.37 151.55,152.41 151.80,152.41 152.05,152.38 152.30,152.45 152.55,152.40 152.80,152.38 153.05,152.39 153.30,152.35 153.55,152.40 153.80,152.40 154.05,152.39 154.30,152.38 154.55,152.43 154.80,152.46 155.05,152.46 155.30,152.39 155.55,152.34 155.80,152.31 156.05,152.20 156.30,152.09 156.55,152.03 156.80,151.65 157.05,151.20 157.30,150.39 157.55,149.38 157.80,148.13 158.05,147.15 158.30,146.81 158.55,147.12 158.80,148.05 159.05,149.21 159.30,150.25 159.55,151.05 159.80,151.66 160.05,151.93 160.30,152.20 160.55,152.29 160.80,152.25 161.05,152.35 161.30,152.31 161.55,152.32 161.80,152.35 162.05,152.30 162.30,152.32 162.55,152.28 162.80,152.27 163.05,152.37 163.30,152.42 163.55,152.40 163.80,152.42 164.05,152.46 164.30,152.37 164.55,152.37 164.80,152.32 165.05,152.29 165.30,152.27 165.55,152.27 165.80,152.25 166.05,152.26 166.30,152.29 166.55,152.35 166.80,152.41 167.05,152.46 167.30,152.46 167.55,152.43 167.80,152.47 168.05,152.39 168.30,152.33 168.55,152.40 168.80,152.41 169.05,152.36 169.30,152.35 169.55,152.34 169.80,152.35 170.05,152.35 170.30,152.35 170.55,152.41 170.80,152.45 171.05,152.43 171.30,152.41 171.55,152.37 171.80,152.42 172.05,152.48 172.30,152.40 172.55,152.43 172.80,152.44 173.05,152.44 173.30,152.35 173.55,152.38 173.80,152.34 174.05,152.32 174.30,152.36 174.55,152.39 174.80,152.41 175.05,152.44 175.30,152.45 175.55,152.42 175.80,152.34 176.05,152.40 176.30,152.44 176.55,152.47 176.80,152.45 177.05,152.36 177.30,152.33 177.55,152.30 177.80,152.36 178.05,152.38 178.30,152.34 178.55,152.43 178.80,152.48 179.05,152.50 179.30,152.45 179.55,152.40 179.80,152.35 180.05,152.42 180.30,152.44 180.55,152.39 180.80,152.45 181.05,152.44 181.30,152.41 181.55,152.39 181.80,152.42 182.05,152.40 182.30,152.42 182.55,152.36 182.80,152.40 183.05,152.36 183.30,152.43 183.55,152.38 183.80,152.36 184.05,152.38 184.30,152.37 184.55,152.38 184.80,152.45 185.05,152.38 185.30,152.43 185.55,152.44 185.80,152.46 186.05,152.43 186.30,152.41 186.55,152.38 186.80,152.38 187.05,152.35 187.30,152.32 187.55,152.35 187.80,152.32 188.05,152.34 188.30,152.37 188.55,152.35 188.80,152.32 189.05,152.36 189.30,152.43 189.55,152.37 189.80,152.40 190.05,152.42 190.30,152.46 190.55,152.46 190.80,152.40 191.05,152.36 191.30,152.42 191.55,152.38 191.80,152.31 192.05,152.40 192.30,152.35 192.55,152.34 192.80,152.33 193.05,152.32 193.30,152.38 193.55,152.36 193.80,152.36 194.05,152.36 194.30,152.42 194.55,152.34 194.80,152.37 195.05,152.32 195.30,152.29 195.55,152.34 195.80,152.34 196.05,152.29 196.30,152.34 196.55,152.41 196.80,152.41 197.05,152.39 197.30,152.42 197.55,152.45 197.80,152.36 198.05,152.31 198.30,152.35 198.55,152.33 198.80,152.15 199.05,152.01 199.30,151.80 199.55,151.45 199.80,151.06 200.05,150.64 200.30,150.25 200.55,150.05 200.80,150.08 201.05,150.42 201.30,150.76 201.55,151.21 201.80,151.56 202.05,151.85 202.30,152.13 202.55,152.22 202.80,152.28 203.05,152.30 203.30,152.29 203.55,152.28 203.80,152.32 204.05,152.39 204.30,152.32 204.55,152.40 204.80,152.42 205.05,152.33 205.30,152.38 205.55,152.36 205.80,152.37 206.05,152.31 206.30,152.34 206.55,152.35 206.80,152.40 207.05,152.40 207.30,152.42 207.55,152.43 207.80,152.36 208.05,152.29 208.30,152.32 208.55,152.28 208.80,152.26 209.05,152.27 209.30,152.30 209.55,152.33 209.80,152.35 210.05,152.41 210.30,152.31 210.55,152.31 210.80,152.23 211.05,152.25 211.30,152.18 211.55,152.02 211.80,151.81 212.05,151.53 212.30,151.03 212.55,150.40 212.80,149.48 213.05,148.46 213.30,147.56 213.55,146.82 213.80,146.47 214.05,146.80 214.30,147.51 214.55,148.54 214.80,149.52 215.05,150.42 215.30,151.15 215.55,151.61 215.80,151.98 216.05,152.07 216.30,152.17 216.55,152.29 216.80,152.24 217.05,152.31 217.30,152.39 217.55,152.41 217.80,152.44 218.05,152.34 218.30,152.36 218.55,152.37 218.80,152.36 219.05,152.35 219.30,152.40 219.55,152.34 219.80,152.29 220.05,152.34 220.30,152.42 220.55,152.45 220.80,152.45 221.05,152.39 221.30,152.44 221.55,152.35 221.80,152.33 222.05,152.39 222.30,152.44 222.55,152.40 222.80,152.45 223.05,152.37 223.30,152.39 223.55,152.32 223.80,152.31 224.05,152.29 224.30,152.26 224.55,152.29 224.80,152.33 225.05,152.32 225.30,152.37 225.55,152.31 225.80,152.34 226.05,152.36 226.30,152.35 226.55,152.42 226.80,152.35 227.05,152.35 227.30,152.36 227.55,152.35 227.80,152.43 228.05,152.42 228.30,152.40 228.55,152.38 228.80,152.37 229.05,152.44 229.30,152.45 229.55,152.44 229.80,152.36 230.05,152.38 230.30,152.32 230.55,152.31 230.80,152.26 231.05,152.33 231.30,152.41 231.55,152.40 231.80,152.39 232.05,152.33 232.30,152.32 232.55,152.31 232.80,152.30 233.05,152.26 233.30,152.22 233.55,152.25 233.80,152.26 234.05,152.19 234.30,152.01 234.55,151.65 234.80,151.21 235.05,150.67 235.30,149.93 235.55,148.93 235.80,147.83 236.05,146.79 236.30,145.90 236.55,145.54 236.80,145.68 237.05,146.42 237.30,147.38 237.55,148.48 237.80,149.51 238.05,150.38 238.30,151.05 238.55,151.60 238.80,151.93 239.05,152.09 239.30,152.19 239.55,152.31 239.80,152.35 240.05,152.37 240.30,152.42 240.55,152.33 240.80,152.35 241.05,152.37 241.30,152.36 241.55,152.42 241.80,152.47 242.05,152.41 242.30,152.41 242.55,152.43 242.80,152.44 243.05,152.39 243.30,152.43 243.55,152.39 243.80,152.33 244.05,152.37 244.30,152.40 244.55,152.38 244.80,152.38 245.05,152.45 245.30,152.47 245.55,152.42 245.80,152.47 246.05,152.44 246.30,152.41 246.55,152.42 246.80,152.45 247.05,152.48 247.30,152.47 247.55,152.46 247.80,152.42 248.05,152.34 248.30,152.35 248.55,152.31 248.80,152.41 249.05,152.38 249.30,152.40 249.55,152.43 249.80,152.37 250.05,152.43 250.30,152.39 250.55,152.33 250.80,152.37 251.05,152.36 251.30,152.44 251.55,152.41 251.80,152.35 252.05,152.30 252.30,152.27 252.55,152.32 252.80,152.38 253.05,152.32 253.30,152.32 253.55,152.35 253.80,152.42 254.05,152.48 254.30,152.50 254.55,152.48 254.80,152.46 255.05,152.39 255.30,152.41 255.55,152.35 255.80,152.34 256.05,152.41 256.30,152.41 256.55,152.44 256.80,152.42 257.05,152.38 257.30,152.38 257.55,152.40 257.80,152.36 258.05,152.42 258.30,152.48 258.55,152.40 258.80,152.36 259.05,152.42 259.30,152.44 259.55,152.38 259.80,152.40 260.05,152.36 260.30,152.43 260.55,152.43 260.80,152.42 261.05,152.36 261.30,152.36 261.55,152.37 261.80,152.36 262.05,152.33 262.30,152.31 262.55,152.37 262.80,152.44 263.05,152.47 263.30,152.46 263.55,152.47 263.80,152.39 264.05,152.35 264.30,152.39 264.55,152.32 264.80,152.29 265.05,152.37 265.30,152.33 265.55,152.31 265.80,152.33 266.05,152.40 266.30,152.32 266.55,152.40 266.80,152.36 267.05,152.37 267.30,152.35 267.55,152.28 267.80,152.34 268.05,152.23 268.30,152.22 268.55,152.18 268.80,152.04 269.05,151.98 269.30,151.77 269.55,151.62 269.80,151.58 270.05,151.51 270.30,151.63 270.55,151.72 270.80,151.87 271.05,151.93 271.30,151.98 271.55,152.16 271.80,152.19 272.05,152.25 272.30,152.24 272.55,152.31 272.80,152.34 273.05,152.31 273.30,152.28 273.55,152.30 273.80,152.37 274.05,152.33 274.30,152.31 274.55,152.36 274.80,152.39 275.05,152.43 275.30,152.43 275.55,152.47 275.80,152.38 276.05,152.45 276.30,152.35 276.55,152.31 276.80,152.28 277.05,152.36 277.30,152.37 277.55,152.43 277.80,152.48 278.05,152.50 278.30,152.45 278.55,152.38 278.80,152.41 279.05,152.38 279.30,152.25 279.55,152.18 279.80,152.01 280.05,151.83 280.30,151.75 280.55,151.63 280.80,151.52 281.05,151.39 281.30,151.21 281.55,151.23 281.80,151.34 282.05,151.45 282.30,151.57 282.55,151.69 282.80,151.79 283.05,151.97 283.30,152.17 283.55,152.18 283.80,152.30 284.05,152.39 284.30,152.36 284.55,152.42 284.80,152.36 285.05,152.34 285.30,152.37 285.55,152.43 285.80,152.42 286.05,152.35 286.30,152.43 286.55,152.42 286.80,152.45 287.05,152.39 287.30,152.37 287.55,152.32 287.80,152.30 288.05,152.33 288.30,152.34 288.55,152.39 288.80,152.44 289.05,152.40 289.30,152.46 289.55,152.45 289.80,152.41 290.05,152.36 290.30,152.44 290.55,152.44 290.80,152.36 291.05,152.40 291.30,152.38 291.55,152.38 291.80,152.42 292.05,152.37 292.30,152.35 292.55,152.37 292.80,152.44 293.05,152.36 293.30,152.43 293.55,152.45 293.80,152.38 294.05,152.41 294.30,152.42 294.55,152.44 294.80,152.43 295.05,152.39 295.30,152.39 295.55,152.36 295.80,152.37 296.05,152.37 296.30,152.32 296.55,152.31 296.80,152.33 297.05,152.34 297.30,152.37 297.55,152.42 297.80,152.38 298.05,152.39 298.30,152.37 298.55,152.34 298.80,152.31 299.05,152.41 299.30,152.47 299.55,152.49 299.80,152.41 300.05,152.35 300.30,152.31 300.55,152.32 300.80,152.34 301.05,152.29 301.30,152.32 301.55,152.38 301.80,152.44 302.05,152.38 302.30,152.31 302.55,152.39 302.80,152.38 303.05,152.36 303.30,152.32 303.55,152.32 303.80,152.32 304.05,152.32 304.30,152.31 304.55,152.35 304.80,152.41 305.05,152.38 305.30,152.38 305.55,152.38 305.80,152.44 306.05,152.46 306.30,152.51 306.55,152.42 306.80,152.45 307.05,152.40 307.30,152.41 307.55,152.41 307.80,152.42 308.05,152.38 308.30,152.33 308.55,152.29 308.80,152.39 309.05,152.45 309.30,152.42 309.55,152.36 309.80,152.42 310.05,152.41 310.30,152.40 310.55,152.42 310.80,152.36 311.05,152.34 311.30,152.41 311.55,152.44 311.80,152.49 312.05,152.45 312.30,152.49 312.55,152.51 312.80,152.47 313.05,152.50 313.30,152.41 313.55,152.34 313.80,152.41 314.05,152.35 314.30,152.37 314.55,152.42 314.80,152.44 315.05,152.38 315.30,152.43 315.55,152.35 315.80,152.38 316.05,152.44 316.30,152.43 316.55,152.39 316.80,152.47 317.05,152.47 317.30,152.48 317.55,152.51 317.80,152.53 318.05,152.49 318.30,152.50 318.55,152.46 318.80,152.40 319.05,152.37 319.30,152.35 319.55,152.30 319.80,152.36 320.05,152.36 320.30,152.43 320.55,152.36 320.80,152.41 321.05,152.36 321.30,152.35 321.55,152.34 321.80,152.43 322.05,152.44 322.30,152.42 322.55,152.37 322.80,152.31 323.05,152.33 323.30,152.43 323.55,152.41 323.80,152.43 324.05,152.47 324.30,152.38 324.55,152.36 324.80,152.36 325.05,152.34 325.30,152.35 325.55,152.39 325.80,152.34 326.05,152.39 326.30,152.37 326.55,152.40 326.80,152.35 327.05,152.41 327.30,152.40 327.55,152.45 327.80,152.49 328.05,152.47 328.30,152.37 328.55,152.36 328.80,152.45 329.05,152.45 329.30,152.47 329.55,152.44 329.80,152.49" fill="none" stroke="#1f66e0" stroke-width="1.2" stroke-linejoin="round"/>
<polyline points="27.80,186.86 28.05,186.90 28.30,186.90 28.55,186.94 28.80,186.97 29.05,186.92 29.30,186.88 29.55,186.99 29.80,186.97 30.05,186.96 30.30,187.07 30.55,187.07 30.80,187.13 31.05,187.11 31.30,187.13 31.55,187.08 31.80,187.12 32.05,187.19 32.30,187.18 32.55,187.21 32.80,187.23 33.05,187.16 33.30,187.22 33.55,187.23 33.80,187.21 34.05,187.15 34.30,187.25 34.55,187.25 34.80,187.30 35.05,187.35 35.30,187.36 35.55,187.40 35.80,187.36 36.05,187.39 36.30,187.37 36.55,187.43 36.80,187.46 37.05,187.37 37.30,187.32 37.55,187.31 37.80,187.42 38.05,187.41 38.30,187.43 38.55,187.41 38.80,187.42 39.05,187.42 39.30,187.42 39.55,187.45 39.80,187.48 40.05,187.54 40.30,187.55 40.55,187.60 40.80,187.62 41.05,187.65 41.30,187.63 41.55,187.55 41.80,187.60 42.05,187.65 42.30,187.68 42.55,187.65 42.80,187.65 43.05,187.59 43.30,187.64 43.55,187.64 43.80,187.60 44.05,187.55 44.30,187.63 44.55,187.71 44.80,187.62 45.05,187.68 45.30,187.66 45.55,187.61 45.80,187.61 46.05,187.68 46.30,187.74 46.55,187.66 46.80,187.69 47.05,187.64 47.30,187.70 47.55,187.69 47.80,187.76 48.05,187.82 48.30,187.79 48.55,187.85 48.80,187.78 49.05,187.72 49.30,187.75 49.55,187.69 49.80,187.69 50.05,187.71 50.30,187.76 50.55,187.73 50.80,187.69 51.05,187.79 51.30,187.78 51.55,187.86 51.80,187.90 52.05,187.86 52.30,187.84 52.55,187.85 52.80,187.87 53.05,187.88 53.30,187.88 53.55,187.89 53.80,187.94 54.05,187.92 54.30,187.89 54.55,187.92 54.80,187.87 55.05,187.85 55.30,187.93 55.55,187.92 55.80,187.92 56.05,187.84 56.30,187.85 56.55,187.88 56.80,187.81 57.05,187.86 57.30,187.88 57.55,187.80 57.80,187.80 58.05,187.65 58.30,187.21 58.55,186.08 58.80,184.33 59.05,182.61 59.30,182.31 59.55,183.84 59.80,185.77 60.05,187.11 60.30,187.64 60.55,187.84 60.80,187.92 61.05,187.92 61.30,187.92 61.55,187.92 61.80,187.93 62.05,187.97 62.30,187.96 62.55,187.96 62.80,188.02 63.05,187.96 63.30,187.99 63.55,188.04 63.80,188.01 64.05,187.98 64.30,188.05 64.55,188.01 64.80,187.98 65.05,188.00 65.30,188.05 65.55,188.00 65.80,188.00 66.05,188.00 66.30,188.08 66.55,188.07 66.80,188.12 67.05,188.06 67.30,188.04 67.55,188.08 67.80,188.14 68.05,188.11 68.30,188.06 68.55,188.01 68.80,188.04 69.05,187.99 69.30,187.99 69.55,187.87 69.80,187.46 70.05,186.98 70.30,186.68 70.55,186.74 70.80,187.19 71.05,187.59 71.30,187.84 71.55,187.98 71.80,188.10 72.05,188.09 72.30,188.08 72.55,188.09 72.80,188.10 73.05,188.11 73.30,188.18 73.55,188.12 73.80,188.06 74.05,188.16 74.30,188.22 74.55,188.26 74.80,188.21 75.05,188.26 75.30,188.29 75.55,188.20 75.80,188.22 76.05,188.25 76.30,188.25 76.55,188.22 76.80,188.17 77.05,188.15 77.30,188.13 77.55,188.09 77.80,188.14 78.05,188.13 78.30,188.20 78.55,188.13 78.80,188.21 79.05,188.23 79.30,188.28 79.55,188.30 79.80,188.32 80.05,188.28 80.30,188.17 80.55,188.22 80.80,188.16 81.05,188.14 81.30,188.18 81.55,188.18 81.80,188.16 82.05,188.22 82.30,188.19 82.55,188.08 82.80,187.86 83.05,187.49 83.30,186.64 83.55,185.50 83.80,184.32 84.05,183.92 84.30,184.70 84.55,185.98 84.80,186.99 85.05,187.71 85.30,188.08 85.55,188.22 85.80,188.27 86.05,188.18 86.30,188.21 86.55,188.27 86.80,188.19 87.05,188.17 87.30,188.16 87.55,188.19 87.80,188.20 88.05,188.21 88.30,188.26 88.55,188.18 88.80,188.14 89.05,188.12 89.30,188.11 89.55,188.10 89.80,188.22 90.05,188.27 90.30,188.19 90.55,188.20 90.80,188.18 91.05,188.16 91.30,188.15 91.55,188.18 91.80,188.18 92.05,188.13 92.30,188.05 92.55,187.95 92.80,187.65 93.05,187.02 93.30,185.66 93.55,183.31 93.80,180.32 94.05,177.89 94.30,177.64 94.55,179.79 94.80,182.79 95.05,185.27 95.30,186.90 95.55,187.70 95.80,188.00 96.05,188.09 96.30,188.15 96.55,188.21 96.80,188.21 97.05,188.25 97.30,188.24 97.55,188.21 97.80,188.23 98.05,188.27 98.30,188.21 98.55,188.22 98.80,188.23 99.05,188.30 99.30,188.35 99.55,188.30 99.80,188.35 100.05,188.36 100.30,188.29 100.55,188.28 100.80,188.22 101.05,188.29 101.30,188.31 101.55,188.35 101.80,188.36 102.05,188.35 102.30,188.35 102.55,188.32 102.80,188.24 103.05,188.25 103.30,188.18 103.55,188.15 103.80,188.21 104.05,188.14 104.30,188.09 104.55,188.05 104.80,188.12 105.05,187.99 105.30,187.74 105.55,187.33 105.80,186.19 106.05,184.27 106.30,181.40 106.55,178.23 106.80,176.06 107.05,176.31 107.30,178.86 107.55,181.99 107.80,184.77 108.05,186.56 108.30,187.53 108.55,187.88 108.80,188.10 109.05,188.22 109.30,188.17 109.55,188.18 109.80,188.22 110.05,188.28 110.30,188.24 110.55,188.21 110.80,188.20 111.05,188.25 111.30,188.30 111.55,188.28 111.80,188.27 112.05,188.26 112.30,188.26 112.55,188.26 112.80,188.22 113.05,188.25 113.30,188.34 113.55,188.31 113.80,188.34 114.05,188.28 114.30,188.31 114.55,188.34 114.80,188.35 115.05,188.33 115.30,188.31 115.55,188.32 115.80,188.36 116.05,188.28 116.30,188.22 116.55,188.27 116.80,188.32 117.05,188.29 117.30,188.26 117.55,188.27 117.80,188.19 118.05,188.14 118.30,188.08 118.55,188.04 118.80,187.84 119.05,187.40 119.30,186.58 119.55,185.08 119.80,182.72 120.05,180.03 120.30,177.72 120.55,177.11 120.80,178.54 121.05,181.07 121.30,183.65 121.55,185.62 121.80,186.92 122.05,187.59 122.30,187.86 122.55,187.99 122.80,188.04 123.05,188.13 123.30,188.09 123.55,188.18 123.80,188.16 124.05,188.15 124.30,188.13 124.55,188.15 124.80,188.14 125.05,188.08 125.30,188.01 125.55,187.95 125.80,187.86 126.05,187.54 126.30,186.94 126.55,185.62 126.80,182.86 127.05,178.16 127.30,171.55 127.55,164.07 127.80,157.89 128.05,156.16 128.30,160.01 128.55,166.89 128.80,173.92 129.05,179.26 129.30,182.27 129.55,183.37 129.80,183.29 130.05,182.92 130.30,182.96 130.55,183.84 130.80,184.97 131.05,186.10 131.30,187.01 131.55,187.51 131.80,187.78 132.05,188.01 132.30,188.04 132.55,188.03 132.80,188.00 133.05,187.86 133.30,187.47 133.55,186.97 133.80,186.34 134.05,185.71 134.30,185.27 134.55,185.36 134.80,185.94 135.05,186.58 135.30,187.22 135.55,187.64 135.80,187.93 136.05,188.14 136.30,188.17 136.55,188.29 136.80,188.36 137.05,188.28 137.30,188.36 137.55,188.33 137.80,188.37 138.05,188.39 138.30,188.34 138.55,188.36 138.80,188.38 139.05,188.41 139.30,188.35 139.55,188.38 139.80,188.44 140.05,188.43 140.30,188.40 140.55,188.33 140.80,188.34 141.05,188.32 141.30,188.37 141.55,188.39 141.80,188.39 142.05,188.33 142.30,188.36 142.55,188.38 142.80,188.33 143.05,188.40 143.30,188.40 143.55,188.33 143.80,188.41 144.05,188.34 144.30,188.32 144.55,188.37 144.80,188.38 145.05,188.38 145.30,188.40 145.55,188.38 145.80,188.34 146.05,188.31 146.30,188.27 146.55,188.34 146.80,188.38 147.05,188.38 147.30,188.41 147.55,188.37 147.80,188.33 148.05,188.32 148.30,188.39 148.55,188.31 148.80,188.33 149.05,188.30 149.30,188.35 149.55,188.32 149.80,188.28 150.05,188.24 150.30,188.19 150.55,188.09 150.80,187.84 151.05,187.61 151.30,187.22 151.55,186.93 151.80,186.78 152.05,186.87 152.30,187.22 152.55,187.57 152.80,187.80 153.05,187.99 153.30,188.14 153.55,188.27 153.80,188.35 154.05,188.38 154.30,188.37 154.55,188.30 154.80,188.29 155.05,188.25 155.30,188.27 155.55,188.29 155.80,188.23 156.05,188.19 156.30,188.20 156.55,188.01 156.80,187.85 157.05,187.46 157.30,186.76 157.55,185.62 157.80,184.25 158.05,182.83 158.30,181.74 158.55,181.49 158.80,182.15 159.05,183.37 159.30,184.85 159.55,186.09 159.80,187.04 160.05,187.67 160.30,187.93 160.55,188.16 160.80,188.26 161.05,188.29 161.30,188.31 161.55,188.31 161.80,188.28 162.05,188.31 162.30,188.26 162.55,188.30 162.80,188.34 163.05,188.34 163.30,188.36 163.55,188.43 163.80,188.46 164.05,188.37 164.30,188.41 164.55,188.41 164.80,188.33 165.05,188.33 165.30,188.31 165.55,188.27 165.80,188.32 166.05,188.40 166.30,188.37 166.55,188.42 166.80,188.43 167.05,188.36 167.30,188.42 167.55,188.42 167.80,188.46 168.05,188.46 168.30,188.46 168.55,188.41 168.80,188.44 169.05,188.48 169.30,188.49 169.55,188.44 169.80,188.45 170.05,188.42 170.30,188.35 170.55,188.30 170.80,188.27 171.05,188.27 171.30,188.27 171.55,188.31 171.80,188.37 172.05,188.38 172.30,188.37 172.55,188.40 172.80,188.36 173.05,188.37 173.30,188.41 173.55,188.39 173.80,188.34 174.05,188.41 174.30,188.43 174.55,188.39 174.80,188.37 175.05,188.38 175.30,188.39 175.55,188.35 175.80,188.29 176.05,188.29 176.30,188.36 176.55,188.32 176.80,188.34 177.05,188.31 177.30,188.30 177.55,188.28 177.80,188.31 178.05,188.29 178.30,188.26 178.55,188.25 178.80,188.25 179.05,188.30 179.30,188.27 179.55,188.24 179.80,188.29 180.05,188.31 180.30,188.36 180.55,188.30 180.80,188.31 181.05,188.32 181.30,188.27 181.55,188.37 181.80,188.33 182.05,188.28 182.30,188.30 182.55,188.27 182.80,188.31 183.05,188.30 183.30,188.25 183.55,188.20 183.80,188.26 184.05,188.20 184.30,188.18 184.55,188.03 184.80,187.83 185.05,187.37 185.30,186.75 185.55,185.99 185.80,185.26 186.05,184.56 186.30,184.10 186.55,184.08 186.80,184.61 187.05,185.38 187.30,186.09 187.55,186.58 187.80,186.89 188.05,187.01 188.30,186.97 188.55,186.81 188.80,186.68 189.05,186.74 189.30,186.96 189.55,187.15 189.80,187.52 190.05,187.76 190.30,188.01 190.55,188.21 190.80,188.34 191.05,188.28 191.30,188.29 191.55,188.33 191.80,188.40 192.05,188.32 192.30,188.31 192.55,188.38 192.80,188.31 193.05,188.32 193.30,188.31 193.55,188.35 193.80,188.42 194.05,188.35 194.30,188.39 194.55,188.41 194.80,188.44 195.05,188.41 195.30,188.45 195.55,188.39 195.80,188.36 196.05,188.31 196.30,188.36 196.55,188.35 196.80,188.30 197.05,188.26 197.30,188.30 197.55,188.28 197.80,188.25 198.05,188.11 198.30,187.91 198.55,187.57 198.80,187.20 199.05,186.60 199.30,186.02 199.55,185.51 199.80,185.11 200.05,184.93 200.30,185.15 200.55,185.72 200.80,186.33 201.05,186.95 201.30,187.46 201.55,187.78 201.80,188.06 202.05,188.20 202.30,188.22 202.55,188.23 202.80,188.17 203.05,188.16 203.30,188.19 203.55,188.01 203.80,187.83 204.05,187.46 204.30,186.95 204.55,186.40 204.80,185.65 205.05,184.87 205.30,184.26 205.55,184.02 205.80,184.19 206.05,184.63 206.30,185.33 206.55,186.17 206.80,186.79 207.05,187.34 207.30,187.72 207.55,188.01 207.80,188.16 208.05,188.27 208.30,188.29 208.55,188.25 208.80,188.22 209.05,188.19 209.30,188.28 209.55,188.22 209.80,188.18 210.05,188.28 210.30,188.22 210.55,188.28 210.80,188.18 211.05,188.15 211.30,188.03 211.55,187.94 211.80,187.67 212.05,187.22 212.30,186.54 212.55,185.58 212.80,184.29 213.05,182.90 213.30,181.53 213.55,180.43 213.80,180.10 214.05,180.51 214.30,181.58 214.55,182.86 214.80,184.26 215.05,185.49 215.30,186.51 215.55,187.15 215.80,187.61 216.05,187.91 216.30,188.02 216.55,188.15 216.80,188.25 217.05,188.26 217.30,188.31 217.55,188.33 217.80,188.29 218.05,188.28 218.30,188.38 218.55,188.34 218.80,188.33 219.05,188.28 219.30,188.27 219.55,188.25 219.80,188.36 220.05,188.39 220.30,188.43 220.55,188.47 220.80,188.45 221.05,188.48 221.30,188.44 221.55,188.40 221.80,188.45 222.05,188.48 222.30,188.50 222.55,188.44 222.80,188.45 223.05,188.41 223.30,188.46 223.55,188.49 223.80,188.41 224.05,188.46 224.30,188.38 224.55,188.32 224.80,188.37 225.05,188.34 225.30,188.36 225.55,188.38 225.80,188.31 226.05,188.37 226.30,188.34 226.55,188.34 226.80,188.33 227.05,188.38 227.30,188.41 227.55,188.36 227.80,188.31 228.05,188.30 228.30,188.31 228.55,188.27 228.80,188.26 229.05,188.33 229.30,188.37 229.55,188.43 229.80,188.47 230.05,188.47 230.30,188.40 230.55,188.33 230.80,188.30 231.05,188.31 231.30,188.31 231.55,188.32 231.80,188.29 232.05,188.34 232.30,188.28 232.55,188.27 232.80,188.31 233.05,188.30 233.30,188.20 233.55,188.07 233.80,187.98 234.05,187.65 234.30,187.22 234.55,186.63 234.80,185.77 235.05,184.57 235.30,183.15 235.55,181.65 235.80,180.32 236.05,179.27 236.30,178.95 236.55,179.36 236.80,180.45 237.05,181.75 237.30,183.20 237.55,184.54 237.80,185.72 238.05,186.61 238.30,187.19 238.55,187.64 238.80,187.86 239.05,188.01 239.30,188.09 239.55,188.21 239.80,188.23 240.05,188.22 240.30,188.18 240.55,188.22 240.80,188.27 241.05,188.31 241.30,188.36 241.55,188.38 241.80,188.30 242.05,188.23 242.30,188.26 242.55,188.24 242.80,188.13 243.05,188.03 243.30,187.80 243.55,187.46 243.80,187.04 244.05,186.57 244.30,186.18 244.55,185.86 244.80,185.63 245.05,185.52 245.30,185.69 245.55,186.07 245.80,186.51 246.05,186.93 246.30,187.29 246.55,187.62 246.80,187.83 247.05,187.98 247.30,188.16 247.55,188.31 247.80,188.34 248.05,188.33 248.30,188.32 248.55,188.33 248.80,188.39 249.05,188.37 249.30,188.44 249.55,188.36 249.80,188.34 250.05,188.35 250.30,188.35 250.55,188.41 250.80,188.44 251.05,188.48 251.30,188.46 251.55,188.36 251.80,188.38 252.05,188.39 252.30,188.38 252.55,188.35 252.80,188.39 253.05,188.45 253.30,188.37 253.55,188.40 253.80,188.38 254.05,188.38 254.30,188.44 254.55,188.49 254.80,188.47 255.05,188.39 255.30,188.45 255.55,188.38 255.80,188.37 256.05,188.42 256.30,188.38 256.55,188.35 256.80,188.43 257.05,188.48 257.30,188.42 257.55,188.39 257.80,188.36 258.05,188.32 258.30,188.31 258.55,188.41 258.80,188.34 259.05,188.32 259.30,188.31 259.55,188.28 259.80,188.33 260.05,188.39 260.30,188.44 260.55,188.44 260.80,188.47 261.05,188.37 261.30,188.35 261.55,188.43 261.80,188.35 262.05,188.34 262.30,188.36 262.55,188.34 262.80,188.37 263.05,188.31 263.30,188.31 263.55,188.41 263.80,188.35 264.05,188.43 264.30,188.37 264.55,188.45 264.80,188.45 265.05,188.45 265.30,188.38 265.55,188.32 265.80,188.39 266.05,188.34 266.30,188.32 266.55,188.40 266.80,188.45 267.05,188.36 267.30,188.44 267.55,188.43 267.80,188.40 268.05,188.34 268.30,188.35 268.55,188.44 268.80,188.39 269.05,188.34 269.30,188.31 269.55,188.29 269.80,188.31 270.05,188.40 270.30,188.34 270.55,188.32 270.80,188.41 271.05,188.48 271.30,188.51 271.55,188.43 271.80,188.39 272.05,188.46 272.30,188.43 272.55,188.45 272.80,188.40 273.05,188.33 273.30,188.33 273.55,188.39 273.80,188.43 274.05,188.43 274.30,188.41 274.55,188.41 274.80,188.39 275.05,188.40 275.30,188.44 275.55,188.38 275.80,188.40 276.05,188.46 276.30,188.48 276.55,188.40 276.80,188.46 277.05,188.48 277.30,188.39 277.55,188.35 277.80,188.32 278.05,188.28 278.30,188.38 278.55,188.36 278.80,188.40 279.05,188.30 279.30,188.20 279.55,188.24 279.80,188.20 280.05,188.16 280.30,188.03 280.55,187.86 280.80,187.74 281.05,187.53 281.30,187.44 281.55,187.39 281.80,187.36 282.05,187.48 282.30,187.58 282.55,187.73 282.80,187.86 283.05,187.97 283.30,188.08 283.55,188.19 283.80,188.33 284.05,188.41 284.30,188.45 284.55,188.47 284.80,188.41 285.05,188.47 285.30,188.40 285.55,188.34 285.80,188.36 286.05,188.41 286.30,188.38 286.55,188.40 286.80,188.37 287.05,188.44 287.30,188.42 287.55,188.40 287.80,188.40 288.05,188.45 288.30,188.50 288.55,188.46 288.80,188.43 289.05,188.43 289.30,188.35 289.55,188.36 289.80,188.42 290.05,188.45 290.30,188.37 290.55,188.43 290.80,188.40 291.05,188.47 291.30,188.42 291.55,188.37 291.80,188.39 292.05,188.45 292.30,188.42 292.55,188.46 292.80,188.47 293.05,188.42 293.30,188.38 293.55,188.39 293.80,188.38 294.05,188.37 294.30,188.40 294.55,188.45 294.80,188.44 295.05,188.37 295.30,188.34 295.55,188.35 295.80,188.38 296.05,188.34 296.30,188.30 296.55,188.31 296.80,188.32 297.05,188.28 297.30,188.33 297.55,188.42 297.80,188.42 298.05,188.44 298.30,188.47 298.55,188.49 298.80,188.51 299.05,188.46 299.30,188.46 299.55,188.38 299.80,188.44 300.05,188.41 300.30,188.40 300.55,188.46 300.80,188.40 301.05,188.36 301.30,188.42 301.55,188.43 301.80,188.35 302.05,188.30 302.30,188.32 302.55,188.28 302.80,188.38 303.05,188.34 303.30,188.33 303.55,188.34 303.80,188.37 304.05,188.37 304.30,188.40 304.55,188.42 304.80,188.40 305.05,188.34 305.30,188.43 305.55,188.45 305.80,188.37 306.05,188.37 306.30,188.42 306.55,188.48 306.80,188.39 307.05,188.32 307.30,188.35 307.55,188.36 307.80,188.43 308.05,188.47 308.30,188.41 308.55,188.40 308.80,188.41 309.05,188.46 309.30,188.39 309.55,188.38 309.80,188.33 310.05,188.38 310.30,188.32 310.55,188.41 310.80,188.41 311.05,188.42 311.30,188.35 311.55,188.33 311.80,188.35 312.05,188.42 312.30,188.42 312.55,188.38 312.80,188.46 313.05,188.46 313.30,188.44 313.55,188.38 313.80,188.36 314.05,188.43 314.30,188.37 314.55,188.38 314.80,188.41 315.05,188.38 315.30,188.43 315.55,188.48 315.80,188.50 316.05,188.49 316.30,188.41 316.55,188.34 316.80,188.36 317.05,188.35 317.30,188.32 317.55,188.41 317.80,188.36 318.05,188.42 318.30,188.48 318.55,188.39 318.80,188.45 319.05,188.42 319.30,188.37 319.55,188.34 319.80,188.29 320.05,188.34 320.30,188.34 320.55,188.42 320.80,188.46 321.05,188.37 321.30,188.37 321.55,188.36 321.80,188.33 322.05,188.32 322.30,188.32 322.55,188.38 322.80,188.36 323.05,188.32 323.30,188.31 323.55,188.34 323.80,188.37 324.05,188.35 324.30,188.40 324.55,188.36 324.80,188.40 325.05,188.41 325.30,188.36 325.55,188.41 325.80,188.39 326.05,188.40 326.30,188.41 326.55,188.43 326.80,188.41 327.05,188.34 327.30,188.41 327.55,188.45 327.80,188.43 328.05,188.43 328.30,188.38 328.55,188.45 328.80,188.46 329.05,188.39 329.30,188.44 329.55,188.49 329.80,188.43" fill="none" stroke="#ee2b2b" stroke-width="1.2" stroke-linejoin="round"/>
<polyline points="27.80,225.94 28.05,225.88 28.30,225.91 28.55,225.88 28.80,225.84 29.05,225.90 29.30,226.07 29.55,226.14 29.80,226.18 30.05,226.08 30.30,226.09 30.55,226.05 30.80,225.99 31.05,225.95 31.30,225.95 31.55,226.13 31.80,226.21 32.05,226.26 32.30,226.29 32.55,226.17 32.80,226.12 33.05,226.18 33.30,226.24 33.55,226.31 33.80,226.36 34.05,226.20 34.30,226.23 34.55,226.27 34.80,226.25 35.05,226.17 35.30,226.19 35.55,226.12 35.80,226.28 36.05,226.36 36.30,226.33 36.55,226.26 36.80,226.37 37.05,226.35 37.30,226.42 37.55,226.46 37.80,226.40 38.05,226.34 38.30,226.36 38.55,226.33 38.80,226.25 39.05,226.23 39.30,226.35 39.55,226.24 39.80,226.17 40.05,226.28 40.30,226.26 40.55,226.31 40.80,226.33 41.05,226.31 41.30,226.46 41.55,226.36 41.80,226.35 42.05,226.30 42.30,226.37 42.55,226.33 42.80,226.33 43.05,226.42 43.30,226.38 43.55,226.41 43.80,226.52 44.05,226.39 44.30,226.30 44.55,226.30 44.80,226.42 45.05,226.46 45.30,226.40 45.55,226.38 45.80,226.34 46.05,226.38 46.30,226.31 46.55,226.43 46.80,226.54 47.05,226.63 47.30,226.63 47.55,226.69 47.80,226.50 48.05,226.45 48.30,226.58 48.55,226.62 48.80,226.56 49.05,226.65 49.30,226.63 49.55,226.66 49.80,226.56 50.05,226.48 50.30,226.49 50.55,226.42 50.80,226.44 51.05,226.60 51.30,226.54 51.55,226.43 51.80,226.37 52.05,226.37 52.30,226.51 52.55,226.50 52.80,226.48 53.05,226.42 53.30,226.60 53.55,226.57 53.80,226.51 54.05,226.43 54.30,226.39 54.55,226.39 54.80,226.51 55.05,226.46 55.30,226.41 55.55,226.48 55.80,226.47 56.05,226.64 56.30,226.54 56.55,226.57 56.80,226.65 57.05,226.61 57.30,226.73 57.55,226.67 57.80,226.58 58.05,226.54 58.30,226.35 58.55,226.13 58.80,225.63 59.05,225.28 59.30,225.29 59.55,225.71 59.80,226.08 60.05,226.36 60.30,226.46 60.55,226.48 60.80,226.49 61.05,226.64 61.30,226.56 61.55,226.50 61.80,226.67 62.05,226.68 62.30,226.80 62.55,226.72 62.80,226.80 63.05,226.79 63.30,226.81 63.55,226.82 63.80,226.76 64.05,226.64 64.30,226.59 64.55,226.72 64.80,226.80 65.05,226.86 65.30,226.76 65.55,226.77 65.80,226.81 66.05,226.80 66.30,226.84 66.55,226.79 66.80,226.79 67.05,226.80 67.30,226.71 67.55,226.81 67.80,226.88 68.05,226.71 68.30,226.82 68.55,226.89 68.80,226.86 69.05,226.69 69.30,226.78 69.55,226.64 69.80,226.70 70.05,226.51 70.30,225.97 70.55,225.40 70.80,225.20 71.05,225.51 71.30,226.09 71.55,226.57 71.80,226.64 72.05,226.59 72.30,226.75 72.55,226.63 72.80,226.76 73.05,226.66 73.30,226.77 73.55,226.83 73.80,226.88 74.05,226.84 74.30,226.89 74.55,226.76 74.80,226.80 75.05,226.74 75.30,226.84 75.55,226.87 75.80,226.81 76.05,226.79 76.30,226.66 76.55,226.58 76.80,226.67 77.05,226.69 77.30,226.80 77.55,226.79 77.80,226.67 78.05,226.64 78.30,226.68 78.55,226.49 78.80,225.86 79.05,224.92 79.30,223.52 79.55,222.36 79.80,222.88 80.05,224.29 80.30,225.65 80.55,226.30 80.80,226.52 81.05,226.63 81.30,226.79 81.55,226.66 81.80,226.59 82.05,226.66 82.30,226.76 82.55,226.70 82.80,226.54 83.05,226.20 83.30,225.19 83.55,223.21 83.80,221.29 84.05,220.51 84.30,221.91 84.55,224.11 84.80,225.60 85.05,226.42 85.30,226.58 85.55,226.77 85.80,226.69 86.05,226.64 86.30,226.69 86.55,226.69 86.80,226.74 87.05,226.85 87.30,226.88 87.55,226.72 87.80,226.70 88.05,226.75 88.30,226.76 88.55,226.83 88.80,226.81 89.05,226.70 89.30,226.68 89.55,226.81 89.80,226.76 90.05,226.84 90.30,226.93 90.55,226.90 90.80,226.89 91.05,226.87 91.30,226.78 91.55,226.87 91.80,226.80 92.05,226.86 92.30,226.74 92.55,226.77 92.80,226.69 93.05,226.32 93.30,225.26 93.55,222.94 93.80,219.57 94.05,216.24 94.30,215.89 94.55,218.73 94.80,222.24 95.05,224.72 95.30,226.06 95.55,226.43 95.80,226.70 96.05,226.70 96.30,226.75 96.55,226.73 96.80,226.78 97.05,226.69 97.30,226.71 97.55,226.86 97.80,226.76 98.05,226.82 98.30,226.78 98.55,226.75 98.80,226.66 99.05,226.61 99.30,226.81 99.55,226.89 99.80,226.94 100.05,226.97 100.30,227.02 100.55,226.87 100.80,226.87 101.05,226.86 101.30,226.86 101.55,226.96 101.80,226.97 102.05,227.03 102.30,226.86 102.55,226.89 102.80,226.91 103.05,226.94 103.30,226.92 103.55,226.97 103.80,226.87 104.05,226.95 104.30,226.88 104.55,226.88 104.80,226.95 105.05,226.94 105.30,226.83 105.55,226.73 105.80,226.62 106.05,226.44 106.30,226.02 106.55,225.22 106.80,224.23 107.05,223.89 107.30,224.58 107.55,225.43 107.80,226.15 108.05,226.45 108.30,226.58 108.55,226.71 108.80,226.81 109.05,226.85 109.30,226.81 109.55,226.93 109.80,226.92 110.05,226.81 110.30,226.72 110.55,226.88 110.80,226.98 111.05,227.02 111.30,226.98 111.55,226.88 111.80,226.76 112.05,226.73 112.30,226.71 112.55,226.86 112.80,226.95 113.05,226.97 113.30,226.83 113.55,226.77 113.80,226.74 114.05,226.88 114.30,226.78 114.55,226.86 114.80,226.89 115.05,226.86 115.30,226.95 115.55,226.83 115.80,226.82 116.05,226.72 116.30,226.64 116.55,226.56 116.80,226.58 117.05,226.53 117.30,226.47 117.55,226.64 117.80,226.55 118.05,226.58 118.30,226.44 118.55,226.00 118.80,224.66 119.05,221.47 119.30,215.43 119.55,207.42 119.80,201.16 120.05,201.98 120.30,208.99 120.55,216.76 120.80,222.21 121.05,224.89 121.30,226.08 121.55,226.43 121.80,226.45 122.05,226.47 122.30,226.66 122.55,226.63 122.80,226.65 123.05,226.74 123.30,226.84 123.55,226.77 123.80,226.74 124.05,226.74 124.30,226.64 124.55,226.78 124.80,226.66 125.05,226.80 125.30,226.69 125.55,226.62 125.80,226.73 126.05,226.76 126.30,226.57 126.55,226.31 126.80,225.57 127.05,224.06 127.30,221.48 127.55,218.87 127.80,217.64 128.05,218.94 128.30,221.67 128.55,224.16 128.80,225.57 129.05,226.29 129.30,226.45 129.55,226.10 129.80,224.95 130.05,222.82 130.30,219.47 130.55,215.64 130.80,213.86 131.05,215.76 131.30,219.49 131.55,222.79 131.80,225.04 132.05,226.01 132.30,226.46 132.55,226.47 132.80,226.17 133.05,225.88 133.30,225.49 133.55,225.31 133.80,225.67 134.05,226.18 134.30,226.60 134.55,226.85 134.80,226.92 135.05,226.95 135.30,226.93 135.55,226.90 135.80,227.00 136.05,226.90 136.30,226.78 136.55,226.86 136.80,226.86 137.05,226.87 137.30,226.89 137.55,226.82 137.80,226.77 138.05,226.70 138.30,226.84 138.55,226.95 138.80,226.96 139.05,226.83 139.30,226.96 139.55,227.01 139.80,226.95 140.05,226.80 140.30,226.91 140.55,226.93 140.80,226.94 141.05,226.80 141.30,226.88 141.55,226.77 141.80,226.81 142.05,226.75 142.30,226.77 142.55,226.91 142.80,226.95 143.05,227.00 143.30,226.90 143.55,226.87 143.80,226.90 144.05,226.78 144.30,226.80 144.55,226.94 144.80,226.98 145.05,227.03 145.30,226.92 145.55,226.95 145.80,226.99 146.05,226.99 146.30,226.93 146.55,226.83 146.80,226.73 147.05,226.88 147.30,226.98 147.55,226.89 147.80,226.94 148.05,226.89 148.30,226.91 148.55,226.98 148.80,226.89 149.05,226.91 149.30,226.83 149.55,226.84 149.80,226.72 150.05,226.69 150.30,226.65 150.55,226.67 150.80,226.27 151.05,225.78 151.30,224.81 151.55,224.07 151.80,223.54 152.05,223.88 152.30,224.76 152.55,225.78 152.80,226.40 153.05,226.78 153.30,226.85 153.55,226.78 153.80,226.77 154.05,226.80 154.30,226.94 154.55,226.83 154.80,226.78 155.05,226.90 155.30,226.79 155.55,226.93 155.80,226.85 156.05,226.87 156.30,226.90 156.55,226.96 156.80,226.76 157.05,226.74 157.30,226.39 157.55,226.02 157.80,225.35 158.05,224.99 158.30,224.86 158.55,225.22 158.80,225.71 159.05,226.20 159.30,226.51 159.55,226.82 159.80,226.88 160.05,226.85 160.30,226.98 160.55,226.86 160.80,226.80 161.05,226.94 161.30,227.02 161.55,227.01 161.80,227.07 162.05,226.89 162.30,226.99 162.55,226.99 162.80,226.99 163.05,227.03 163.30,226.88 163.55,226.81 163.80,226.75 164.05,226.80 164.30,226.84 164.55,226.87 164.80,226.84 165.05,226.92 165.30,226.98 165.55,227.00 165.80,226.84 166.05,226.77 166.30,226.75 166.55,226.73 166.80,226.80 167.05,226.75 167.30,226.82 167.55,226.78 167.80,226.72 168.05,226.67 168.30,226.51 168.55,225.96 168.80,225.38 169.05,225.07 169.30,224.92 169.55,225.20 169.80,225.71 170.05,226.32 170.30,226.67 170.55,226.91 170.80,226.91 171.05,226.80 171.30,226.78 171.55,226.87 171.80,226.85 172.05,226.78 172.30,226.79 172.55,226.82 172.80,226.81 173.05,226.83 173.30,226.76 173.55,226.70 173.80,226.84 174.05,226.92 174.30,226.89 174.55,226.79 174.80,226.78 175.05,226.84 175.30,226.95 175.55,226.92 175.80,227.02 176.05,226.98 176.30,226.86 176.55,226.90 176.80,226.92 177.05,226.93 177.30,226.97 177.55,226.82 177.80,226.83 178.05,226.93 178.30,226.82 178.55,226.74 178.80,226.72 179.05,226.74 179.30,226.78 179.55,226.78 179.80,226.85 180.05,226.79 180.30,226.79 180.55,226.87 180.80,226.88 181.05,226.99 181.30,227.05 181.55,226.93 181.80,226.87 182.05,226.88 182.30,226.89 182.55,226.85 182.80,226.94 183.05,226.84 183.30,226.84 183.55,226.75 183.80,226.88 184.05,226.89 184.30,226.98 184.55,226.83 184.80,226.86 185.05,226.84 185.30,226.64 185.55,226.58 185.80,226.25 186.05,225.29 186.30,224.07 186.55,222.41 186.80,220.87 187.05,220.39 187.30,221.29 187.55,222.87 187.80,224.51 188.05,225.76 188.30,226.30 188.55,226.60 188.80,226.68 189.05,226.80 189.30,226.93 189.55,226.99 189.80,226.89 190.05,226.86 190.30,226.74 190.55,226.80 190.80,226.91 191.05,226.98 191.30,226.84 191.55,226.84 191.80,226.75 192.05,226.78 192.30,226.92 192.55,226.85 192.80,226.95 193.05,227.03 193.30,227.05 193.55,226.91 193.80,227.00 194.05,227.06 194.30,227.11 194.55,226.90 194.80,226.77 195.05,226.77 195.30,226.82 195.55,226.83 195.80,226.75 196.05,226.84 196.30,226.90 196.55,226.92 196.80,226.91 197.05,226.91 197.30,226.95 197.55,226.82 197.80,226.83 198.05,226.76 198.30,226.71 198.55,226.84 198.80,226.81 199.05,226.80 199.30,226.78 199.55,226.84 199.80,226.76 200.05,226.84 200.30,226.75 200.55,226.90 200.80,226.81 201.05,226.89 201.30,226.89 201.55,226.86 201.80,226.81 202.05,226.79 202.30,226.87 202.55,226.86 202.80,226.85 203.05,226.76 203.30,226.80 203.55,226.69 203.80,226.65 204.05,226.55 204.30,226.19 204.55,225.46 204.80,224.20 205.05,222.39 205.30,220.78 205.55,219.79 205.80,220.26 206.05,221.88 206.30,223.59 206.55,224.97 206.80,225.85 207.05,226.31 207.30,226.49 207.55,226.54 207.80,226.48 208.05,226.39 208.30,226.01 208.55,225.27 208.80,224.08 209.05,222.34 209.30,220.73 209.55,219.80 209.80,220.16 210.05,221.78 210.30,223.45 210.55,224.83 210.80,225.95 211.05,226.32 211.30,226.46 211.55,226.70 211.80,226.62 212.05,226.71 212.30,226.70 212.55,226.52 212.80,226.26 213.05,226.03 213.30,225.51 213.55,225.00 213.80,224.81 214.05,225.09 214.30,225.49 214.55,225.89 214.80,226.39 215.05,226.54 215.30,226.60 215.55,226.60 215.80,226.83 216.05,226.83 216.30,226.90 216.55,226.90 216.80,227.01 217.05,226.92 217.30,226.86 217.55,226.91 217.80,226.78 218.05,226.79 218.30,226.89 218.55,226.90 218.80,226.89 219.05,226.99 219.30,226.93 219.55,226.97 219.80,226.91 220.05,226.80 220.30,226.81 220.55,226.77 220.80,226.70 221.05,226.73 221.30,226.70 221.55,226.77 221.80,226.87 222.05,226.94 222.30,227.01 222.55,226.92 222.80,226.95 223.05,227.02 223.30,226.94 223.55,227.02 223.80,226.87 224.05,226.98 224.30,227.04 224.55,227.09 224.80,227.09 225.05,227.06 225.30,226.98 225.55,226.99 225.80,227.04 226.05,227.00 226.30,226.99 226.55,227.05 226.80,226.93 227.05,226.88 227.30,226.77 227.55,226.91 227.80,226.93 228.05,226.96 228.30,226.87 228.55,226.80 228.80,226.83 229.05,226.94 229.30,226.89 229.55,226.87 229.80,226.86 230.05,226.95 230.30,226.83 230.55,226.94 230.80,226.80 231.05,226.88 231.30,226.94 231.55,226.91 231.80,226.96 232.05,226.87 232.30,226.79 232.55,226.79 232.80,226.76 233.05,226.86 233.30,226.87 233.55,226.90 233.80,227.00 234.05,227.00 234.30,226.99 234.55,227.00 234.80,226.93 235.05,226.72 235.30,226.29 235.55,225.77 235.80,225.22 236.05,224.72 236.30,224.53 236.55,224.75 236.80,225.25 237.05,225.71 237.30,226.20 237.55,226.40 237.80,226.56 238.05,226.40 238.30,226.03 238.55,225.67 238.80,224.97 239.05,223.97 239.30,223.10 239.55,223.00 239.80,223.54 240.05,224.29 240.30,225.28 240.55,226.04 240.80,226.47 241.05,226.62 241.30,226.63 241.55,226.62 241.80,226.69 242.05,226.80 242.30,226.84 242.55,226.77 242.80,226.86 243.05,226.73 243.30,226.77 243.55,226.66 243.80,226.49 244.05,226.29 244.30,226.02 244.55,225.28 244.80,224.23 245.05,223.18 245.30,222.26 245.55,222.06 245.80,222.67 246.05,223.78 246.30,224.95 246.55,225.73 246.80,226.31 247.05,226.51 247.30,226.62 247.55,226.63 247.80,226.81 248.05,226.79 248.30,226.86 248.55,226.95 248.80,226.88 249.05,226.80 249.30,226.76 249.55,226.80 249.80,226.79 250.05,226.71 250.30,226.85 250.55,226.88 250.80,226.95 251.05,226.98 251.30,226.94 251.55,226.89 251.80,226.72 252.05,226.35 252.30,225.93 252.55,225.34 252.80,224.50 253.05,223.91 253.30,223.81 253.55,224.28 253.80,225.07 254.05,225.72 254.30,226.31 254.55,226.56 254.80,226.74 255.05,226.75 255.30,226.84 255.55,226.80 255.80,226.71 256.05,226.75 256.30,226.82 256.55,226.93 256.80,226.86 257.05,226.97 257.30,227.01 257.55,226.88 257.80,226.95 258.05,227.03 258.30,227.08 258.55,227.05 258.80,226.96 259.05,226.94 259.30,226.96 259.55,226.96 259.80,226.86 260.05,226.96 260.30,226.94 260.55,226.82 260.80,226.80 261.05,226.74 261.30,226.79 261.55,226.73 261.80,226.80 262.05,226.79 262.30,226.91 262.55,226.97 262.80,226.86 263.05,226.95 263.30,226.95 263.55,226.87 263.80,226.98 264.05,226.83 264.30,226.83 264.55,226.88 264.80,226.80 265.05,226.84 265.30,226.95 265.55,226.89 265.80,226.94 266.05,226.85 266.30,226.98 266.55,227.05 266.80,226.91 267.05,226.96 267.30,226.89 267.55,226.77 267.80,226.74 268.05,226.84 268.30,226.82 268.55,226.79 268.80,226.61 269.05,226.42 269.30,226.24 269.55,226.06 269.80,225.99 270.05,225.91 270.30,225.98 270.55,226.29 270.80,226.53 271.05,226.74 271.30,226.89 271.55,226.90 271.80,226.85 272.05,226.77 272.30,226.86 272.55,226.93 272.80,227.01 273.05,227.06 273.30,227.00 273.55,226.95 273.80,227.04 274.05,226.88 274.30,226.86 274.55,226.88 274.80,226.91 275.05,226.93 275.30,226.83 275.55,226.86 275.80,226.80 276.05,226.81 276.30,226.77 276.55,226.77 276.80,226.85 277.05,226.84 277.30,226.78 277.55,226.82 277.80,226.89 278.05,226.84 278.30,226.81 278.55,226.83 278.80,226.90 279.05,226.79 279.30,226.87 279.55,226.77 279.80,226.91 280.05,226.83 280.30,226.93 280.55,226.80 280.80,226.82 281.05,226.77 281.30,226.85 281.55,226.86 281.80,226.64 282.05,226.40 282.30,226.31 282.55,226.09 282.80,225.90 283.05,225.83 283.30,225.94 283.55,226.18 283.80,226.38 284.05,226.49 284.30,226.66 284.55,226.88 284.80,226.96 285.05,226.99 285.30,227.05 285.55,226.98 285.80,226.91 286.05,226.97 286.30,226.85 286.55,226.93 286.80,226.83 287.05,226.89 287.30,226.89 287.55,226.96 287.80,226.83 288.05,226.90 288.30,226.97 288.55,226.83 288.80,226.90 289.05,226.85 289.30,226.93 289.55,227.03 289.80,226.86 290.05,226.85 290.30,226.87 290.55,227.00 290.80,227.06 291.05,226.88 291.30,226.80 291.55,226.82 291.80,226.92 292.05,226.98 292.30,226.96 292.55,227.04 292.80,227.06 293.05,227.09 293.30,227.04 293.55,226.93 293.80,226.97 294.05,226.99 294.30,227.06 294.55,226.92 294.80,226.79 295.05,226.80 295.30,226.78 295.55,226.80 295.80,226.73 296.05,226.83 296.30,226.84 296.55,226.81 296.80,226.75 297.05,226.83 297.30,226.76 297.55,226.90 297.80,226.85 298.05,226.96 298.30,226.85 298.55,226.84 298.80,226.93 299.05,226.92 299.30,226.90 299.55,226.99 299.80,226.87 300.05,226.97 300.30,226.94 300.55,226.87 300.80,226.85 301.05,226.82 301.30,226.88 301.55,226.87 301.80,226.89 302.05,226.93 302.30,227.00 302.55,227.01 302.80,226.92 303.05,226.95 303.30,226.98 303.55,227.04 303.80,226.96 304.05,226.94 304.30,226.99 304.55,226.91 304.80,226.87 305.05,226.91 305.30,226.87 305.55,226.97 305.80,226.90 306.05,226.83 306.30,226.89 306.55,226.92 306.80,227.03 307.05,227.08 307.30,226.99 307.55,226.94 307.80,226.96 308.05,226.94 308.30,226.94 308.55,226.90 308.80,226.99 309.05,227.05 309.30,227.06 309.55,227.05 309.80,227.09 310.05,226.95 310.30,227.04 310.55,226.91 310.80,226.81 311.05,226.84 311.30,226.78 311.55,226.77 311.80,226.85 312.05,226.78 312.30,226.81 312.55,226.81 312.80,226.95 313.05,226.83 313.30,226.86 313.55,226.87 313.80,226.80 314.05,226.80 314.30,226.81 314.55,226.81 314.80,226.86 315.05,226.89 315.30,226.89 315.55,226.88 315.80,226.91 316.05,226.90 316.30,226.81 316.55,226.88 316.80,226.87 317.05,226.97 317.30,226.85 317.55,226.88 317.80,226.84 318.05,226.90 318.30,226.97 318.55,226.98 318.80,226.96 319.05,227.04 319.30,226.92 319.55,227.03 319.80,226.96 320.05,226.97 320.30,226.85 320.55,226.76 320.80,226.73 321.05,226.81 321.30,226.78 321.55,226.90 321.80,226.82 322.05,226.89 322.30,226.99 322.55,227.00 322.80,227.06 323.05,227.07 323.30,227.09 323.55,226.90 323.80,226.90 324.05,226.85 324.30,226.86 324.55,226.93 324.80,226.97 325.05,226.87 325.30,226.80 325.55,226.74 325.80,226.86 326.05,226.95 326.30,226.83 326.55,226.77 326.80,226.74 327.05,226.92 327.30,226.81 327.55,226.86 327.80,226.97 328.05,226.86 328.30,226.92 328.55,226.87 328.80,226.92 329.05,226.90 329.30,226.82 329.55,226.95 329.80,226.93" fill="none" stroke="#2e2e2e" stroke-width="1.4" stroke-linejoin="round"/>
<text x="280.30" y="93.80" font-size="14" fill="#1a1a1a" font-family='"Liberation Serif", serif' textLength="42.20" lengthAdjust="spacingAndGlyphs">1200°C</text>
<text x="282.40" y="143.20" font-size="14" fill="#1a1a1a" font-family='"Liberation Serif", serif' textLength="41.60" lengthAdjust="spacingAndGlyphs">1100°C</text>
<text x="283.60" y="177.90" font-size="14" fill="#1a1a1a" font-family='"Liberation Serif", serif' textLength="41.60" lengthAdjust="spacingAndGlyphs">1000°C</text>
<text x="289.80" y="220.00" font-size="14" fill="#1a1a1a" font-family='"Liberation Serif", serif' textLength="35.00" lengthAdjust="spacingAndGlyphs">900°C</text>
<polygon points="59.80,91.70 60.82,93.90 63.22,94.19 61.44,95.83 61.92,98.21 59.80,97.03 57.68,98.21 58.16,95.83 56.38,94.19 58.78,93.90" fill="none" stroke="#ff2020" stroke-width="1.15" stroke-linejoin="miter"/>
<polygon points="76.60,91.20 77.62,93.40 80.02,93.69 78.24,95.33 78.72,97.71 76.60,96.53 74.48,97.71 74.96,95.33 73.18,93.69 75.58,93.40" fill="none" stroke="#ff2020" stroke-width="1.15" stroke-linejoin="miter"/>
<polygon points="94.60,85.40 95.62,87.60 98.02,87.89 96.24,89.53 96.72,91.91 94.60,90.73 92.48,91.91 92.96,89.53 91.18,87.89 93.58,87.60" fill="none" stroke="#ff2020" stroke-width="1.15" stroke-linejoin="miter"/>
<polygon points="106.50,85.40 107.52,87.60 109.92,87.89 108.14,89.53 108.62,91.91 106.50,90.73 104.38,91.91 104.86,89.53 103.08,87.89 105.48,87.60" fill="none" stroke="#ff2020" stroke-width="1.15" stroke-linejoin="miter"/>
<polygon points="127.80,67.50 128.82,69.70 131.22,69.99 129.44,71.63 129.92,74.01 127.80,72.83 125.68,74.01 126.16,71.63 124.38,69.99 126.78,69.70" fill="none" stroke="#ff2020" stroke-width="1.15" stroke-linejoin="miter"/>
<polygon points="136.30,94.40 137.32,96.60 139.72,96.89 137.94,98.53 138.42,100.91 136.30,99.73 134.18,100.91 134.66,98.53 132.88,96.89 135.28,96.60" fill="none" stroke="#ff2020" stroke-width="1.15" stroke-linejoin="miter"/>
<polygon points="157.90,92.10 158.92,94.30 161.32,94.59 159.54,96.23 160.02,98.61 157.90,97.43 155.78,98.61 156.26,96.23 154.48,94.59 156.88,94.30" fill="none" stroke="#ff2020" stroke-width="1.15" stroke-linejoin="miter"/>
<polygon points="199.50,93.50 200.52,95.70 202.92,95.99 201.14,97.63 201.62,100.01 199.50,98.83 197.38,100.01 197.86,97.63 196.08,95.99 198.48,95.70" fill="none" stroke="#ff2020" stroke-width="1.15" stroke-linejoin="miter"/>
<polygon points="213.80,87.50 214.82,89.70 217.22,89.99 215.44,91.63 215.92,94.01 213.80,92.83 211.68,94.01 212.16,91.63 210.38,89.99 212.78,89.70" fill="none" stroke="#ff2020" stroke-width="1.15" stroke-linejoin="miter"/>
<polygon points="236.70,87.50 237.72,89.70 240.12,89.99 238.34,91.63 238.82,94.01 236.70,92.83 234.58,94.01 235.06,91.63 233.28,89.99 235.68,89.70" fill="none" stroke="#ff2020" stroke-width="1.15" stroke-linejoin="miter"/>
<polygon points="55.70,125.00 63.70,125.00 59.70,132.30" fill="#7a0a0a"/>
<polygon points="59.70,135.00 64.00,143.30 55.40,143.30" fill="#f4a460"/>
<polygon points="102.00,122.30 110.00,122.30 106.00,130.50" fill="#7a0a0a"/>
<polygon points="106.00,131.40 110.30,139.00 101.70,139.00" fill="#f4a460"/>
<polygon points="124.80,106.30 132.80,106.30 128.80,114.30" fill="#7a0a0a"/>
<polygon points="128.80,114.00 133.10,121.80 124.50,121.80" fill="#f4a460"/>
<polygon points="130.50,130.00 138.50,130.00 134.50,137.40" fill="#7a0a0a"/>
<polygon points="134.50,138.30 138.80,146.60 130.20,146.60" fill="#f4a460"/>
<polygon points="154.20,128.30 162.20,128.30 158.20,135.60" fill="#7a0a0a"/>
<polygon points="158.20,136.50 162.50,144.70 153.90,144.70" fill="#f4a460"/>
<polygon points="196.60,132.00 204.60,132.00 200.60,140.00" fill="#7a0a0a"/>
<polygon points="200.60,141.00 204.90,149.30 196.30,149.30" fill="#f4a460"/>
<polygon points="209.80,127.70 217.80,127.70 213.80,135.50" fill="#7a0a0a"/>
<polygon points="213.80,135.60 218.10,143.80 209.50,143.80" fill="#f4a460"/>
<polygon points="232.70,126.00 240.70,126.00 236.70,133.40" fill="#7a0a0a"/>
<polygon points="236.70,134.00 241.00,143.00 232.40,143.00" fill="#f4a460"/>
<circle cx="76.50" cy="137.60" r="3.60" fill="#e8106e"/>
<g fill="#19e6f5"><circle cx="76.30" cy="144.20" r="1.76"/><circle cx="74.54" cy="146.64" r="1.76"/><circle cx="78.06" cy="146.64" r="1.76"/><polygon points="75.80,145.80 76.80,145.80 77.77,149.79 74.83,149.79"/></g>
<g fill="#19e6f5"><circle cx="71.20" cy="215.40" r="1.76"/><circle cx="69.44" cy="217.84" r="1.76"/><circle cx="72.96" cy="217.84" r="1.76"/><polygon points="70.70,217.00 71.70,217.00 72.67,220.99 69.73,220.99"/></g>
<rect x="77.70" y="211.00" width="8.70" height="8.70" fill="#2ca84f"/>
<polygon points="88.20,209.80 89.58,213.11 93.15,213.39 90.43,215.72 91.26,219.21 88.20,217.34 85.14,219.21 85.97,215.72 83.25,213.39 86.82,213.11" fill="#ff1010"/>
<g fill="#19e6f5"><circle cx="94.20" cy="209.60" r="1.76"/><circle cx="92.44" cy="212.04" r="1.76"/><circle cx="95.96" cy="212.04" r="1.76"/><polygon points="93.70,211.20 94.70,211.20 95.67,215.19 92.73,215.19"/></g>
<rect x="117.50" y="185.60" width="9.60" height="9.00" fill="#2ca84f"/>
<polygon points="124.20,193.60 125.58,196.91 129.15,197.19 126.43,199.52 127.26,203.01 124.20,201.14 121.14,203.01 121.97,199.52 119.25,197.19 122.82,196.91" fill="#ff1010"/>
<polygon points="133.30,201.10 134.68,204.41 138.25,204.69 135.53,207.02 136.36,210.51 133.30,208.64 130.24,210.51 131.07,207.02 128.35,204.69 131.92,204.41" fill="#ff1010"/>
<rect x="139.40" y="211.40" width="9.70" height="9.20" fill="#2ca84f"/>
<polygon points="154.60,209.50 155.98,212.81 159.55,213.09 156.83,215.42 157.66,218.91 154.60,217.04 151.54,218.91 152.37,215.42 149.65,213.09 153.22,212.81" fill="#ff1010"/>
<rect x="167.80" y="211.00" width="9.50" height="9.60" fill="#2ca84f"/>
<polygon points="188.80,206.60 190.18,209.91 193.75,210.19 191.03,212.52 191.86,216.01 188.80,214.14 185.74,216.01 186.57,212.52 183.85,210.19 187.42,209.91" fill="#ff1010"/>
<g fill="#19e6f5"><circle cx="190.70" cy="217.00" r="1.76"/><circle cx="188.94" cy="219.44" r="1.76"/><circle cx="192.46" cy="219.44" r="1.76"/><polygon points="190.20,218.60 191.20,218.60 192.17,222.59 189.23,222.59"/></g>
<polygon points="206.50,206.60 207.88,209.91 211.45,210.19 208.73,212.52 209.56,216.01 206.50,214.14 203.44,216.01 204.27,212.52 201.55,210.19 205.12,209.91" fill="#ff1010"/>
<rect x="209.20" y="205.40" width="8.60" height="8.80" fill="#2ca84f"/>
<polygon points="221.10,212.10 222.48,215.41 226.05,215.69 223.33,218.02 224.16,221.51 221.10,219.64 218.04,221.51 218.87,218.02 216.15,215.69 219.72,215.41" fill="#ff1010"/>
<polygon points="241.80,209.30 243.18,212.61 246.75,212.89 244.03,215.22 244.86,218.71 241.80,216.84 238.74,218.71 239.57,215.22 236.85,212.89 240.42,212.61" fill="#ff1010"/>
<polygon points="248.20,209.30 249.58,212.61 253.15,212.89 250.43,215.22 251.26,218.71 248.20,216.84 245.14,218.71 245.97,215.22 243.25,212.89 246.82,212.61" fill="#ff1010"/>
<rect x="108.20" y="63.50" width="33.60" height="168.10" fill="none" stroke="#22aa44" stroke-width="2" stroke-dasharray="5 3"/>
<rect x="352.90" y="8.80" width="190.40" height="227.20" fill="none" stroke="#1a1a1a" stroke-width="1.5"/>
<line x1="357.20" y1="230.50" x2="357.20" y2="235.30" stroke="#1a1a1a" stroke-width="1.2"/>
<line x1="439.90" y1="230.50" x2="439.90" y2="235.30" stroke="#1a1a1a" stroke-width="1.2"/>
<line x1="522.60" y1="230.50" x2="522.60" y2="235.30" stroke="#1a1a1a" stroke-width="1.2"/>
<line x1="398.55" y1="232.70" x2="398.55" y2="235.30" stroke="#1a1a1a" stroke-width="1.2"/>
<line x1="481.25" y1="232.70" x2="481.25" y2="235.30" stroke="#1a1a1a" stroke-width="1.2"/>
<text x="357.20" y="251.60" font-size="14.5" fill="#1a1a1a" font-family='"Liberation Serif", serif' text-anchor="middle">32</text>
<text x="439.90" y="251.60" font-size="14.5" fill="#1a1a1a" font-family='"Liberation Serif", serif' text-anchor="middle">34</text>
<text x="522.60" y="251.60" font-size="14.5" fill="#1a1a1a" font-family='"Liberation Serif", serif' text-anchor="middle">36</text>
<text x="404.20" y="264.70" font-size="13.5" fill="#1a1a1a" font-family='"Liberation Serif", serif' textLength="87.30" lengthAdjust="spacingAndGlyphs">Two-theta (deg)</text>
<text x="345.30" y="171.00" font-size="14" fill="#1a1a1a" font-family='"Liberation Serif", serif' textLength="88.60" lengthAdjust="spacingAndGlyphs" transform="rotate(-90 345.30 171.00)">Intensity (A.U.)</text>
<polygon points="361.30,23.30 367.50,23.30 364.40,29.90" fill="#7a0a0a"/>
<text x="368.30" y="30.60" font-size="12" fill="#1a1a1a" font-family='"Liberation Serif", serif' textLength="98.70" lengthAdjust="spacingAndGlyphs">--Mn<tspan font-size="7.68" dy="0.48">x</tspan><tspan dy="-0.48">Fe</tspan><tspan font-size="7.68" dy="0.48">3-x</tspan><tspan dy="-0.48">O</tspan><tspan font-size="7.68" dy="0.48">4</tspan><tspan dy="-0.48">(0≤x≤3)</tspan></text>
<rect x="480.60" y="24.40" width="6.40" height="6.20" fill="#2ca84f"/>
<text x="487.60" y="30.60" font-size="12" fill="#1a1a1a" font-family='"Liberation Serif", serif' textLength="39.40" lengthAdjust="spacingAndGlyphs">--Mn<tspan font-size="7.68" dy="0.48">2</tspan><tspan dy="-0.48">O</tspan><tspan font-size="7.68" dy="0.48">3</tspan></text>
<polygon points="368.80,40.30 369.79,42.44 372.13,42.72 370.40,44.32 370.86,46.63 368.80,45.48 366.74,46.63 367.20,44.32 365.47,42.72 367.81,42.44" fill="none" stroke="#ff2020" stroke-width="1.15" stroke-linejoin="miter"/>
<text x="372.90" y="47.60" font-size="12" fill="#1a1a1a" font-family='"Liberation Serif", serif' textLength="100.00" lengthAdjust="spacingAndGlyphs">--(Mn<tspan font-size="7.68" dy="0.48">y</tspan><tspan dy="-0.48">Fe</tspan><tspan font-size="7.68" dy="0.48">x</tspan><tspan dy="-0.48">Si</tspan><tspan font-size="7.68" dy="0.48">1-x-y</tspan><tspan dy="-0.48">)Fe</tspan><tspan font-size="7.68" dy="0.48">2</tspan><tspan dy="-0.48">O</tspan><tspan font-size="7.68" dy="0.48">4</tspan></text>
<text x="478.00" y="47.60" font-size="12" fill="#1a1a1a" font-family='"Liberation Serif", serif'>(0</text>
<polyline points="496.43,42.08 488.53,45.08 496.43,48.08" fill="none" stroke="#1a1a1a" stroke-width="0.84" stroke-linejoin="miter"/>
<text x="497.43" y="47.60" font-size="12" fill="#1a1a1a" font-family='"Liberation Serif", serif'>x+y</text>
<polyline points="523.97,42.08 516.07,45.08 523.97,48.08" fill="none" stroke="#1a1a1a" stroke-width="0.84" stroke-linejoin="miter"/>
<text x="524.97" y="47.60" font-size="12" fill="#1a1a1a" font-family='"Liberation Serif", serif'>1)</text>
<polygon points="369.50,58.00 373.00,64.50 366.00,64.50" fill="#ff8a2a"/>
<text x="373.80" y="64.60" font-size="12" fill="#1a1a1a" font-family='"Liberation Serif", serif' textLength="52.00" lengthAdjust="spacingAndGlyphs">--MnFe<tspan font-size="7.68" dy="0.48">2</tspan><tspan dy="-0.48">O</tspan><tspan font-size="7.68" dy="0.48">4</tspan></text>
<polygon points="436.50,57.60 440.10,61.20 436.50,64.80 432.90,61.20" fill="#f01af0"/>
<text x="441.60" y="64.60" font-size="12" fill="#1a1a1a" font-family='"Liberation Serif", serif' textLength="46.40" lengthAdjust="spacingAndGlyphs">--FeMnO<tspan font-size="7.68" dy="0.48">3</tspan></text>
<polygon points="499.60,58.90 500.63,61.38 503.31,61.59 501.27,63.34 501.89,65.96 499.60,64.55 497.31,65.96 497.93,63.34 495.89,61.59 498.57,61.38" fill="#ff1010"/>
<text x="503.60" y="64.60" font-size="12" fill="#1a1a1a" font-family='"Liberation Serif", serif' textLength="33.50" lengthAdjust="spacingAndGlyphs">--Fe<tspan font-size="7.68" dy="0.48">2</tspan><tspan dy="-0.48">O</tspan><tspan font-size="7.68" dy="0.48">3</tspan></text>
<polyline points="353.60,131.49 354.00,131.49 354.40,131.53 354.80,131.52 355.20,131.51 355.60,131.51 356.00,131.48 356.40,131.48 356.80,131.50 357.20,131.52 357.60,131.48 358.00,131.46 358.40,131.43 358.80,131.48 359.20,131.50 359.60,131.46 360.00,131.51 360.40,131.55 360.80,131.54 361.20,131.54 361.60,131.49 362.00,131.45 362.40,131.46 362.80,131.43 363.20,131.42 363.60,131.42 364.00,131.40 364.40,131.42 364.80,131.44 365.20,131.48 365.60,131.49 366.00,131.50 366.40,131.50 366.80,131.51 367.20,131.50 367.60,131.48 368.00,131.52 368.40,131.56 368.80,131.57 369.20,131.56 369.60,131.52 370.00,131.49 370.40,131.47 370.80,131.44 371.20,131.48 371.60,131.47 372.00,131.51 372.40,131.49 372.80,131.53 373.20,131.55 373.60,131.49 374.00,131.46 374.40,131.50 374.80,131.50 375.20,131.54 375.60,131.51 376.00,131.47 376.40,131.48 376.80,131.51 377.20,131.48 377.60,131.45 378.00,131.44 378.40,131.50 378.80,131.52 379.20,131.47 379.60,131.45 380.00,131.43 380.40,131.40 380.80,131.46 381.20,131.43 381.60,131.45 382.00,131.46 382.40,131.44 382.80,131.47 383.20,131.44 383.60,131.47 384.00,131.44 384.40,131.44 384.80,131.43 385.20,131.42 385.60,131.48 386.00,131.51 386.40,131.48 386.80,131.52 387.20,131.48 387.60,131.47 388.00,131.51 388.40,131.51 388.80,131.46 389.20,131.51 389.60,131.48 390.00,131.46 390.40,131.49 390.80,131.47 391.20,131.45 391.60,131.42 392.00,131.40 392.40,131.43 392.80,131.42 393.20,131.44 393.60,131.44 394.00,131.45 394.40,131.49 394.80,131.48 395.20,131.49 395.60,131.51 396.00,131.47 396.40,131.43 396.80,131.48 397.20,131.50 397.60,131.46 398.00,131.42 398.40,131.44 398.80,131.46 399.20,131.40 399.60,131.40 400.00,131.38 400.40,131.30 400.80,131.20 401.20,131.07 401.60,130.94 402.00,130.90 402.40,130.81 402.80,130.79 403.20,130.76 403.60,130.84 404.00,130.92 404.40,130.98 404.80,131.05 405.20,131.17 405.60,131.21 406.00,131.25 406.40,131.32 406.80,131.40 407.20,131.43 407.60,131.42 408.00,131.47 408.40,131.44 408.80,131.40 409.20,131.40 409.60,131.41 410.00,131.39 410.40,131.38 410.80,131.39 411.20,131.42 411.60,131.40 412.00,131.41 412.40,131.46 412.80,131.50 413.20,131.51 413.60,131.51 414.00,131.50 414.40,131.46 414.80,131.42 415.20,131.39 415.60,131.45 416.00,131.47 416.40,131.51 416.80,131.45 417.20,131.47 417.60,131.46 418.00,131.48 418.40,131.46 418.80,131.51 419.20,131.45 419.60,131.46 420.00,131.48 420.40,131.51 420.80,131.52 421.20,131.52 421.60,131.53 422.00,131.54 422.40,131.50 422.80,131.51 423.20,131.53 423.60,131.54 424.00,131.51 424.40,131.52 424.80,131.53 425.20,131.51 425.60,131.51 426.00,131.48 426.40,131.48 426.80,131.48 427.20,131.43 427.60,131.45 428.00,131.50 428.40,131.52 428.80,131.52 429.20,131.49 429.60,131.49 430.00,131.49 430.40,131.47 430.80,131.49 431.20,131.44 431.60,131.46 432.00,131.41 432.40,131.43 432.80,131.43 433.20,131.41 433.60,131.44 434.00,131.44 434.40,131.45 434.80,131.48 435.20,131.44 435.60,131.40 436.00,131.39 436.40,131.42 436.80,131.39 437.20,131.37 437.60,131.43 438.00,131.44 438.40,131.43 438.80,131.46 439.20,131.43 439.60,131.45 440.00,131.41 440.40,131.41 440.80,131.44 441.20,131.47 441.60,131.48 442.00,131.45 442.40,131.45 442.80,131.42 443.20,131.38 443.60,131.39 444.00,131.42 444.40,131.45 444.80,131.45 445.20,131.47 445.60,131.43 446.00,131.39 446.40,131.38 446.80,131.36 447.20,131.34 447.60,131.35 448.00,131.37 448.40,131.37 448.80,131.35 449.20,131.39 449.60,131.42 450.00,131.40 450.40,131.35 450.80,131.31 451.20,131.35 451.60,131.31 452.00,131.34 452.40,131.34 452.80,131.32 453.20,131.35 453.60,131.30 454.00,131.27 454.40,131.28 454.80,131.25 455.20,131.29 455.60,131.27 456.00,131.24 456.40,131.22 456.80,131.25 457.20,131.25 457.60,131.26 458.00,131.28 458.40,131.29 458.80,131.32 459.20,131.31 459.60,131.26 460.00,131.24 460.40,131.20 460.80,131.15 461.20,131.16 461.60,131.18 462.00,131.14 462.40,131.12 462.80,131.11 463.20,131.12 463.60,131.11 464.00,131.11 464.40,131.11 464.80,131.07 465.20,131.07 465.60,131.07 466.00,130.98 466.40,130.99 466.80,130.95 467.20,130.85 467.60,130.78 468.00,130.72 468.40,130.67 468.80,130.54 469.20,130.41 469.60,130.28 470.00,130.11 470.40,129.91 470.80,129.61 471.20,129.30 471.60,128.88 472.00,128.47 472.40,127.99 472.80,127.40 473.20,126.74 473.60,125.94 474.00,125.12 474.40,124.20 474.80,123.16 475.20,121.97 475.60,120.72 476.00,119.31 476.40,117.89 476.80,116.37 477.20,114.73 477.60,113.04 478.00,111.36 478.40,109.68 478.80,108.04 479.20,106.41 479.60,104.82 480.00,103.42 480.40,102.08 480.80,101.00 481.20,100.04 481.60,99.33 482.00,98.91 482.40,98.68 482.80,98.72 483.20,99.05 483.60,99.65 484.00,100.47 484.40,101.47 484.80,102.68 485.20,103.99 485.60,105.47 486.00,106.95 486.40,108.53 486.80,110.19 487.20,111.83 487.60,113.50 488.00,115.11 488.40,116.67 488.80,118.18 489.20,119.59 489.60,120.88 490.00,122.09 490.40,123.25 490.80,124.30 491.20,125.19 491.60,126.04 492.00,126.81 492.40,127.44 492.80,128.00 493.20,128.45 493.60,128.88 494.00,129.24 494.40,129.56 494.80,129.78 495.20,130.05 495.60,130.23 496.00,130.37 496.40,130.53 496.80,130.63 497.20,130.72 497.60,130.80 498.00,130.82 498.40,130.88 498.80,130.92 499.20,131.00 499.60,131.06 500.00,131.05 500.40,131.07 500.80,131.05 501.20,131.08 501.60,131.13 502.00,131.18 502.40,131.18 502.80,131.17 503.20,131.15 503.60,131.18 504.00,131.23 504.40,131.20 504.80,131.24 505.20,131.20 505.60,131.19 506.00,131.19 506.40,131.23 506.80,131.23 507.20,131.23 507.60,131.26 508.00,131.24 508.40,131.28 508.80,131.25 509.20,131.27 509.60,131.26 510.00,131.25 510.40,131.28 510.80,131.29 511.20,131.29 511.60,131.30 512.00,131.32 512.40,131.29 512.80,131.29 513.20,131.32 513.60,131.34 514.00,131.35 514.40,131.39 514.80,131.39 515.20,131.42 515.60,131.38 516.00,131.40 516.40,131.42 516.80,131.45 517.20,131.41 517.60,131.39 518.00,131.43 518.40,131.39 518.80,131.44 519.20,131.46 519.60,131.41 520.00,131.38 520.40,131.41 520.80,131.39 521.20,131.36 521.60,131.40 522.00,131.40 522.40,131.43 522.80,131.39 523.20,131.39 523.60,131.41 524.00,131.37 524.40,131.36 524.80,131.39 525.20,131.44 525.60,131.48 526.00,131.43 526.40,131.43 526.80,131.45 527.20,131.45 527.60,131.46 528.00,131.42 528.40,131.39 528.80,131.37 529.20,131.34 529.60,131.38 530.00,131.40 530.40,131.42 530.80,131.39 531.20,131.38 531.60,131.37 532.00,131.42 532.40,131.47 532.80,131.50 533.20,131.45 533.60,131.41 534.00,131.46 534.40,131.45 534.80,131.48 535.20,131.45 535.60,131.45 536.00,131.45 536.40,131.44 536.80,131.46 537.20,131.41 537.60,131.44 538.00,131.48 538.40,131.44 538.80,131.44 539.20,131.47 539.60,131.46 540.00,131.43 540.40,131.41 540.80,131.42 541.20,131.39 541.60,131.45 542.00,131.48 542.40,131.49" fill="none" stroke="#1f66e0" stroke-width="1.3" stroke-linejoin="round"/>
<polyline points="353.60,181.48 354.00,181.50 354.40,181.51 354.80,181.47 355.20,181.43 355.60,181.43 356.00,181.43 356.40,181.47 356.80,181.49 357.20,181.50 357.60,181.50 358.00,181.51 358.40,181.47 358.80,181.47 359.20,181.44 359.60,181.49 360.00,181.45 360.40,181.49 360.80,181.45 361.20,181.47 361.60,181.46 362.00,181.46 362.40,181.49 362.80,181.45 363.20,181.42 363.60,181.47 364.00,181.48 364.40,181.44 364.80,181.49 365.20,181.53 365.60,181.48 366.00,181.47 366.40,181.44 366.80,181.43 367.20,181.46 367.60,181.43 368.00,181.46 368.40,181.43 368.80,181.41 369.20,181.46 369.60,181.45 370.00,181.45 370.40,181.47 370.80,181.47 371.20,181.46 371.60,181.42 372.00,181.45 372.40,181.50 372.80,181.53 373.20,181.53 373.60,181.50 374.00,181.48 374.40,181.49 374.80,181.50 375.20,181.45 375.60,181.43 376.00,181.43 376.40,181.44 376.80,181.48 377.20,181.47 377.60,181.43 378.00,181.46 378.40,181.46 378.80,181.46 379.20,181.43 379.60,181.43 380.00,181.43 380.40,181.46 380.80,181.42 381.20,181.44 381.60,181.41 382.00,181.44 382.40,181.40 382.80,181.39 383.20,181.39 383.60,181.42 384.00,181.39 384.40,181.40 384.80,181.38 385.20,181.38 385.60,181.39 386.00,181.44 386.40,181.44 386.80,181.47 387.20,181.43 387.60,181.46 388.00,181.43 388.40,181.40 388.80,181.42 389.20,181.45 389.60,181.39 390.00,181.37 390.40,181.40 390.80,181.38 391.20,181.35 391.60,181.31 392.00,181.28 392.40,181.31 392.80,181.36 393.20,181.39 393.60,181.37 394.00,181.30 394.40,181.28 394.80,181.30 395.20,181.31 395.60,181.29 396.00,181.24 396.40,181.21 396.80,181.18 397.20,181.16 397.60,181.09 398.00,181.08 398.40,181.03 398.80,180.89 399.20,180.72 399.60,180.54 400.00,180.18 400.40,179.75 400.80,179.08 401.20,178.21 401.60,177.09 402.00,175.70 402.40,174.17 402.80,172.62 403.20,171.26 403.60,170.29 404.00,169.88 404.40,170.15 404.80,170.80 405.20,171.74 405.60,172.83 406.00,173.96 406.40,174.90 406.80,175.63 407.20,176.15 407.60,176.48 408.00,176.70 408.40,176.91 408.80,177.27 409.20,177.78 409.60,178.35 410.00,178.92 410.40,179.45 410.80,179.91 411.20,180.32 411.60,180.61 412.00,180.77 412.40,180.95 412.80,181.08 413.20,181.16 413.60,181.22 414.00,181.27 414.40,181.27 414.80,181.30 415.20,181.29 415.60,181.26 416.00,181.26 416.40,181.26 416.80,181.32 417.20,181.34 417.60,181.34 418.00,181.36 418.40,181.32 418.80,181.34 419.20,181.36 419.60,181.35 420.00,181.34 420.40,181.34 420.80,181.33 421.20,181.37 421.60,181.34 422.00,181.32 422.40,181.32 422.80,181.36 423.20,181.39 423.60,181.41 424.00,181.44 424.40,181.42 424.80,181.37 425.20,181.38 425.60,181.38 426.00,181.36 426.40,181.39 426.80,181.38 427.20,181.36 427.60,181.36 428.00,181.41 428.40,181.37 428.80,181.37 429.20,181.36 429.60,181.35 430.00,181.36 430.40,181.35 430.80,181.41 431.20,181.41 431.60,181.43 432.00,181.39 432.40,181.39 432.80,181.41 433.20,181.44 433.60,181.41 434.00,181.40 434.40,181.44 434.80,181.46 435.20,181.42 435.60,181.42 436.00,181.44 436.40,181.42 436.80,181.43 437.20,181.44 437.60,181.47 438.00,181.45 438.40,181.45 438.80,181.42 439.20,181.44 439.60,181.41 440.00,181.40 440.40,181.39 440.80,181.37 441.20,181.35 441.60,181.33 442.00,181.35 442.40,181.34 442.80,181.31 443.20,181.36 443.60,181.35 444.00,181.40 444.40,181.40 444.80,181.38 445.20,181.41 445.60,181.44 446.00,181.40 446.40,181.36 446.80,181.37 447.20,181.40 447.60,181.40 448.00,181.41 448.40,181.38 448.80,181.38 449.20,181.35 449.60,181.34 450.00,181.33 450.40,181.32 450.80,181.31 451.20,181.34 451.60,181.31 452.00,181.28 452.40,181.27 452.80,181.32 453.20,181.32 453.60,181.27 454.00,181.31 454.40,181.33 454.80,181.35 455.20,181.31 455.60,181.32 456.00,181.28 456.40,181.24 456.80,181.27 457.20,181.29 457.60,181.25 458.00,181.27 458.40,181.21 458.80,181.19 459.20,181.14 459.60,181.12 460.00,181.10 460.40,181.14 460.80,181.12 461.20,181.09 461.60,181.07 462.00,181.06 462.40,181.09 462.80,181.09 463.20,181.04 463.60,181.05 464.00,181.03 464.40,181.01 464.80,180.99 465.20,180.98 465.60,180.98 466.00,180.94 466.40,180.91 466.80,180.87 467.20,180.84 467.60,180.78 468.00,180.73 468.40,180.69 468.80,180.66 469.20,180.57 469.60,180.55 470.00,180.47 470.40,180.42 470.80,180.33 471.20,180.25 471.60,180.11 472.00,179.92 472.40,179.70 472.80,179.46 473.20,179.16 473.60,178.77 474.00,178.21 474.40,177.52 474.80,176.68 475.20,175.65 475.60,174.40 476.00,172.90 476.40,171.16 476.80,169.13 477.20,166.88 477.60,164.37 478.00,161.69 478.40,158.86 478.80,155.98 479.20,153.21 479.60,150.60 480.00,148.43 480.40,146.93 480.80,146.10 481.20,146.03 481.60,146.54 482.00,147.47 482.40,148.81 482.80,150.45 483.20,152.35 483.60,154.41 484.00,156.62 484.40,158.89 484.80,161.12 485.20,163.26 485.60,165.32 486.00,167.19 486.40,168.93 486.80,170.57 487.20,172.01 487.60,173.30 488.00,174.37 488.40,175.33 488.80,176.18 489.20,176.93 489.60,177.56 490.00,178.08 490.40,178.48 490.80,178.82 491.20,179.14 491.60,179.42 492.00,179.59 492.40,179.72 492.80,179.87 493.20,179.99 493.60,180.07 494.00,180.13 494.40,180.20 494.80,180.28 495.20,180.31 495.60,180.38 496.00,180.47 496.40,180.52 496.80,180.52 497.20,180.54 497.60,180.53 498.00,180.58 498.40,180.61 498.80,180.59 499.20,180.61 499.60,180.62 500.00,180.62 500.40,180.58 500.80,180.53 501.20,180.46 501.60,180.39 502.00,180.18 502.40,179.87 502.80,179.41 503.20,178.72 503.60,177.84 504.00,176.74 504.40,175.51 504.80,174.27 505.20,173.21 505.60,172.62 506.00,172.56 506.40,172.99 506.80,173.79 507.20,174.68 507.60,175.52 508.00,176.20 508.40,176.60 508.80,176.86 509.20,176.96 509.60,177.11 510.00,177.44 510.40,177.90 510.80,178.41 511.20,178.91 511.60,179.42 512.00,179.86 512.40,180.27 512.80,180.53 513.20,180.71 513.60,180.87 514.00,180.98 514.40,181.05 514.80,181.08 515.20,181.16 515.60,181.16 516.00,181.21 516.40,181.20 516.80,181.21 517.20,181.20 517.60,181.24 518.00,181.26 518.40,181.24 518.80,181.25 519.20,181.28 519.60,181.28 520.00,181.30 520.40,181.31 520.80,181.33 521.20,181.31 521.60,181.29 522.00,181.26 522.40,181.31 522.80,181.34 523.20,181.33 523.60,181.37 524.00,181.40 524.40,181.35 524.80,181.38 525.20,181.37 525.60,181.35 526.00,181.33 526.40,181.33 526.80,181.30 527.20,181.28 527.60,181.27 528.00,181.28 528.40,181.28 528.80,181.28 529.20,181.34 529.60,181.34 530.00,181.35 530.40,181.37 530.80,181.42 531.20,181.38 531.60,181.36 532.00,181.40 532.40,181.44 532.80,181.46 533.20,181.45 533.60,181.42 534.00,181.39 534.40,181.43 534.80,181.45 535.20,181.44 535.60,181.46 536.00,181.42 536.40,181.42 536.80,181.46 537.20,181.41 537.60,181.42 538.00,181.39 538.40,181.43 538.80,181.46 539.20,181.46 539.60,181.44 540.00,181.39 540.40,181.40 540.80,181.40 541.20,181.40 541.60,181.37 542.00,181.42 542.40,181.43" fill="none" stroke="#ee2b2b" stroke-width="1.3" stroke-linejoin="round"/>
<polyline points="353.60,230.08 354.00,230.10 354.40,230.12 354.80,230.14 355.20,230.10 355.60,230.07 356.00,230.04 356.40,230.03 356.80,230.07 357.20,230.04 357.60,230.05 358.00,230.03 358.40,230.03 358.80,230.03 359.20,230.07 359.60,230.08 360.00,230.03 360.40,230.02 360.80,230.00 361.20,230.05 361.60,230.08 362.00,230.09 362.40,230.11 362.80,230.11 363.20,230.13 363.60,230.12 364.00,230.07 364.40,230.09 364.80,230.07 365.20,230.07 365.60,230.06 366.00,230.04 366.40,230.01 366.80,230.00 367.20,229.98 367.60,229.95 368.00,229.98 368.40,230.01 368.80,230.04 369.20,230.03 369.60,230.01 370.00,230.01 370.40,229.96 370.80,229.96 371.20,229.94 371.60,229.90 372.00,229.88 372.40,229.88 372.80,229.86 373.20,229.86 373.60,229.87 374.00,229.85 374.40,229.81 374.80,229.81 375.20,229.78 375.60,229.76 376.00,229.74 376.40,229.73 376.80,229.69 377.20,229.71 377.60,229.75 378.00,229.72 378.40,229.72 378.80,229.73 379.20,229.65 379.60,229.59 380.00,229.60 380.40,229.61 380.80,229.58 381.20,229.50 381.60,229.46 382.00,229.46 382.40,229.45 382.80,229.41 383.20,229.32 383.60,229.29 384.00,229.21 384.40,229.16 384.80,229.05 385.20,229.01 385.60,228.92 386.00,228.83 386.40,228.67 386.80,228.55 387.20,228.39 387.60,228.19 388.00,227.93 388.40,227.65 388.80,227.25 389.20,226.75 389.60,226.13 390.00,225.41 390.40,224.45 390.80,223.31 391.20,221.94 391.60,220.38 392.00,218.56 392.40,216.50 392.80,214.19 393.20,211.78 393.60,209.27 394.00,206.76 394.40,204.40 394.80,202.45 395.20,200.84 395.60,199.83 396.00,199.84 396.40,201.69 396.80,204.45 397.20,207.28 397.60,209.50 398.00,210.87 398.40,211.25 398.80,211.04 399.20,210.73 399.60,210.95 400.00,212.18 400.40,214.40 400.80,216.82 401.20,218.77 401.60,219.98 402.00,220.39 402.40,220.00 402.80,218.82 403.20,216.98 403.60,214.78 404.00,212.46 404.40,210.26 404.80,208.63 405.20,207.81 405.60,208.16 406.00,209.68 406.40,211.72 406.80,213.71 407.20,215.26 407.60,216.32 408.00,216.91 408.40,217.35 408.80,217.81 409.20,218.38 409.60,219.14 410.00,219.99 410.40,221.02 410.80,222.15 411.20,223.31 411.60,224.44 412.00,225.51 412.40,226.44 412.80,227.31 413.20,227.94 413.60,228.52 414.00,228.90 414.40,229.19 414.80,229.41 415.20,229.53 415.60,229.62 416.00,229.71 416.40,229.77 416.80,229.86 417.20,229.93 417.60,229.90 418.00,229.92 418.40,229.90 418.80,229.95 419.20,229.95 419.60,230.00 420.00,230.00 420.40,229.97 420.80,229.94 421.20,229.94 421.60,230.00 422.00,229.98 422.40,229.99 422.80,230.00 423.20,230.00 423.60,230.04 424.00,230.02 424.40,230.05 424.80,230.07 425.20,230.11 425.60,230.10 426.00,230.13 426.40,230.11 426.80,230.10 427.20,230.11 427.60,230.13 428.00,230.15 428.40,230.10 428.80,230.06 429.20,230.07 429.60,230.11 430.00,230.11 430.40,230.09 430.80,230.13 431.20,230.10 431.60,230.07 432.00,230.04 432.40,230.01 432.80,230.06 433.20,230.04 433.60,230.08 434.00,230.12 434.40,230.16 434.80,230.17 435.20,230.15 435.60,230.15 436.00,230.17 436.40,230.17 436.80,230.13 437.20,230.15 437.60,230.11 438.00,230.09 438.40,230.14 438.80,230.13 439.20,230.11 439.60,230.14 440.00,230.13 440.40,230.08 440.80,230.05 441.20,230.05 441.60,230.05 442.00,230.11 442.40,230.09 442.80,230.13 443.20,230.16 443.60,230.14 444.00,230.18 444.40,230.18 444.80,230.16 445.20,230.13 445.60,230.12 446.00,230.15 446.40,230.15 446.80,230.11 447.20,230.10 447.60,230.10 448.00,230.08 448.40,230.09 448.80,230.06 449.20,230.10 449.60,230.07 450.00,230.05 450.40,230.07 450.80,230.07 451.20,230.11 451.60,230.11 452.00,230.11 452.40,230.14 452.80,230.10 453.20,230.12 453.60,230.13 454.00,230.11 454.40,230.14 454.80,230.08 455.20,230.12 455.60,230.07 456.00,230.11 456.40,230.07 456.80,230.03 457.20,230.04 457.60,230.09 458.00,230.06 458.40,230.06 458.80,230.07 459.20,230.04 459.60,230.04 460.00,230.00 460.40,230.01 460.80,230.04 461.20,230.02 461.60,229.99 462.00,229.96 462.40,229.99 462.80,229.99 463.20,230.02 463.60,230.03 464.00,229.98 464.40,230.01 464.80,230.03 465.20,230.03 465.60,230.03 466.00,230.01 466.40,229.99 466.80,229.97 467.20,229.94 467.60,229.88 468.00,229.83 468.40,229.83 468.80,229.81 469.20,229.74 469.60,229.73 470.00,229.70 470.40,229.65 470.80,229.61 471.20,229.55 471.60,229.43 472.00,229.33 472.40,229.16 472.80,228.96 473.20,228.71 473.60,228.45 474.00,228.07 474.40,227.67 474.80,227.14 475.20,226.56 475.60,225.94 476.00,225.22 476.40,224.42 476.80,223.57 477.20,222.76 477.60,221.99 478.00,221.32 478.40,220.77 478.80,220.41 479.20,220.20 479.60,220.23 480.00,220.47 480.40,220.91 480.80,221.41 481.20,222.04 481.60,222.73 482.00,223.47 482.40,224.20 482.80,224.97 483.20,225.62 483.60,226.28 484.00,226.82 484.40,227.29 484.80,227.77 485.20,228.10 485.60,228.38 486.00,228.62 486.40,228.82 486.80,229.01 487.20,229.15 487.60,229.25 488.00,229.33 488.40,229.45 488.80,229.49 489.20,229.53 489.60,229.60 490.00,229.68 490.40,229.72 490.80,229.76 491.20,229.79 491.60,229.82 492.00,229.85 492.40,229.81 492.80,229.78 493.20,229.80 493.60,229.81 494.00,229.82 494.40,229.85 494.80,229.81 495.20,229.84 495.60,229.82 496.00,229.81 496.40,229.79 496.80,229.77 497.20,229.78 497.60,229.78 498.00,229.80 498.40,229.76 498.80,229.76 499.20,229.69 499.60,229.68 500.00,229.61 500.40,229.61 500.80,229.60 501.20,229.49 501.60,229.42 502.00,229.24 502.40,229.03 502.80,228.72 503.20,228.33 503.60,227.75 504.00,227.04 504.40,226.07 504.80,224.83 505.20,223.40 505.60,221.73 506.00,219.99 506.40,218.32 506.80,216.87 507.20,215.98 507.60,215.64 508.00,216.05 508.40,217.13 508.80,218.48 509.20,219.78 509.60,220.89 510.00,221.69 510.40,222.23 510.80,222.69 511.20,223.14 511.60,223.71 512.00,224.43 512.40,225.11 512.80,225.86 513.20,226.62 513.60,227.32 514.00,227.87 514.40,228.39 514.80,228.79 515.20,229.10 515.60,229.37 516.00,229.54 516.40,229.65 516.80,229.75 517.20,229.79 517.60,229.83 518.00,229.89 518.40,229.91 518.80,229.91 519.20,229.89 519.60,229.94 520.00,229.94 520.40,229.95 520.80,229.95 521.20,229.98 521.60,229.98 522.00,230.03 522.40,230.04 522.80,230.05 523.20,230.08 523.60,230.07 524.00,230.07 524.40,230.10 524.80,230.11 525.20,230.13 525.60,230.15 526.00,230.14 526.40,230.13 526.80,230.09 527.20,230.07 527.60,230.08 528.00,230.09 528.40,230.13 528.80,230.08 529.20,230.08 529.60,230.11 530.00,230.11 530.40,230.15 530.80,230.11 531.20,230.14 531.60,230.13 532.00,230.14 532.40,230.10 532.80,230.10 533.20,230.14 533.60,230.16 534.00,230.16 534.40,230.15 534.80,230.10 535.20,230.13 535.60,230.13 536.00,230.16 536.40,230.16 536.80,230.15 537.20,230.18 537.60,230.14 538.00,230.19 538.40,230.14 538.80,230.19 539.20,230.18 539.60,230.17 540.00,230.21 540.40,230.19 540.80,230.18 541.20,230.14 541.60,230.17 542.00,230.18 542.40,230.15" fill="none" stroke="#2e2e2e" stroke-width="1.3" stroke-linejoin="round"/>
<polygon points="403.50,158.60 407.20,162.30 403.50,166.00 399.80,162.30" fill="#f01af0"/>
<polygon points="505.30,155.30 509.00,159.00 505.30,162.70 501.60,159.00" fill="#f01af0"/>
<rect x="393.00" y="189.00" width="9.70" height="9.20" fill="#2ca84f"/>
<polygon points="412.20,204.90 413.55,208.14 417.05,208.42 414.38,210.71 415.20,214.13 412.20,212.29 409.20,214.13 410.02,210.71 407.35,208.42 410.85,208.14" fill="#ff1010"/>
<polygon points="514.50,203.20 515.85,206.44 519.35,206.72 516.68,209.01 517.50,212.43 514.50,210.59 511.50,212.43 512.32,209.01 509.65,206.72 513.15,206.44" fill="#ff1010"/>
<polygon points="473.20,86.00 474.33,88.45 477.00,88.76 475.03,90.59 475.55,93.24 473.20,91.92 470.85,93.24 471.37,90.59 469.40,88.76 472.07,88.45" fill="none" stroke="#ff2020" stroke-width="1.15" stroke-linejoin="miter"/>
<polygon points="484.60,86.50 489.10,95.00 480.10,95.00" fill="#f4a460"/>
<polygon points="469.05,97.60 476.55,97.60 472.80,105.00" fill="#7a0a0a"/>
<line x1="478.30" y1="107.50" x2="478.30" y2="235.50" stroke="#ff1a1a" stroke-width="1.5" stroke-dasharray="7.5 3"/>
<line x1="482.40" y1="99.50" x2="482.40" y2="232.00" stroke="#1a1aff" stroke-width="1.5" stroke-dasharray="7 3.5"/>
<rect x="23.50" y="278.90" width="306.80" height="228.50" fill="none" stroke="#1a1a1a" stroke-width="1.5"/>
<line x1="31.80" y1="501.90" x2="31.80" y2="506.70" stroke="#1a1a1a" stroke-width="1.2"/>
<line x1="80.90" y1="501.90" x2="80.90" y2="506.70" stroke="#1a1a1a" stroke-width="1.2"/>
<line x1="130.01" y1="501.90" x2="130.01" y2="506.70" stroke="#1a1a1a" stroke-width="1.2"/>
<line x1="179.11" y1="501.90" x2="179.11" y2="506.70" stroke="#1a1a1a" stroke-width="1.2"/>
<line x1="228.22" y1="501.90" x2="228.22" y2="506.70" stroke="#1a1a1a" stroke-width="1.2"/>
<line x1="277.32" y1="501.90" x2="277.32" y2="506.70" stroke="#1a1a1a" stroke-width="1.2"/>
<line x1="326.42" y1="501.90" x2="326.42" y2="506.70" stroke="#1a1a1a" stroke-width="1.2"/>
<line x1="56.35" y1="504.10" x2="56.35" y2="506.70" stroke="#1a1a1a" stroke-width="1.2"/>
<line x1="105.46" y1="504.10" x2="105.46" y2="506.70" stroke="#1a1a1a" stroke-width="1.2"/>
<line x1="154.56" y1="504.10" x2="154.56" y2="506.70" stroke="#1a1a1a" stroke-width="1.2"/>
<line x1="203.66" y1="504.10" x2="203.66" y2="506.70" stroke="#1a1a1a" stroke-width="1.2"/>
<line x1="252.77" y1="504.10" x2="252.77" y2="506.70" stroke="#1a1a1a" stroke-width="1.2"/>
<line x1="301.87" y1="504.10" x2="301.87" y2="506.70" stroke="#1a1a1a" stroke-width="1.2"/>
<text x="31.80" y="524.40" font-size="14.5" fill="#1a1a1a" font-family='"Liberation Serif", serif' text-anchor="middle">12</text>
<text x="80.90" y="524.40" font-size="14.5" fill="#1a1a1a" font-family='"Liberation Serif", serif' text-anchor="middle">24</text>
<text x="130.01" y="524.40" font-size="14.5" fill="#1a1a1a" font-family='"Liberation Serif", serif' text-anchor="middle">36</text>
<text x="179.11" y="524.40" font-size="14.5" fill="#1a1a1a" font-family='"Liberation Serif", serif' text-anchor="middle">48</text>
<text x="228.22" y="524.40" font-size="14.5" fill="#1a1a1a" font-family='"Liberation Serif", serif' text-anchor="middle">60</text>
<text x="277.32" y="524.40" font-size="14.5" fill="#1a1a1a" font-family='"Liberation Serif", serif' text-anchor="middle">72</text>
<text x="326.42" y="524.40" font-size="14.5" fill="#1a1a1a" font-family='"Liberation Serif", serif' text-anchor="middle">84</text>
<text x="144.80" y="538.30" font-size="15" fill="#1a1a1a" font-family='"Liberation Serif", serif' textLength="94.40" lengthAdjust="spacingAndGlyphs">Two-theta (deg)</text>
<text x="15.20" y="440.80" font-size="15" fill="#1a1a1a" font-family='"Liberation Serif", serif' textLength="95.50" lengthAdjust="spacingAndGlyphs" transform="rotate(-90 15.20 440.80)">Intensity (A.U.)</text>
<polygon points="33.45,287.60 41.95,287.60 37.70,295.60" fill="#7a0a0a"/>
<text x="42.50" y="296.00" font-size="13" fill="#1a1a1a" font-family='"Liberation Serif", serif' textLength="120.60" lengthAdjust="spacingAndGlyphs">--Mn<tspan font-size="8.32" dy="0.52">x</tspan><tspan dy="-0.52">Fe</tspan><tspan font-size="8.32" dy="0.52">3-x</tspan><tspan dy="-0.52">O</tspan><tspan font-size="8.32" dy="0.52">4</tspan><tspan dy="-0.52"> (0≤x≤3)</tspan></text>
<circle cx="177.30" cy="290.60" r="3.70" fill="#e8106e"/>
<text x="182.50" y="296.00" font-size="13" fill="#1a1a1a" font-family='"Liberation Serif", serif' textLength="134.20" lengthAdjust="spacingAndGlyphs">-- (Mn<tspan font-size="8.32" dy="0.52">x</tspan><tspan dy="-0.52">Fe</tspan><tspan font-size="8.32" dy="0.52">1-x</tspan><tspan dy="-0.52">)</tspan><tspan font-size="8.32" dy="0.52">2</tspan><tspan dy="-0.52">SiO</tspan><tspan font-size="8.32" dy="0.52">4</tspan><tspan dy="-0.52"> (0≤x≤1)</tspan></text>
<polygon points="37.20,309.30 38.19,311.44 40.53,311.72 38.80,313.32 39.26,315.63 37.20,314.48 35.14,315.63 35.60,313.32 33.87,311.72 36.21,311.44" fill="none" stroke="#ff2020" stroke-width="1.15" stroke-linejoin="miter"/>
<text x="41.20" y="317.20" font-size="13" fill="#1a1a1a" font-family='"Liberation Serif", serif' textLength="121.00" lengthAdjust="spacingAndGlyphs">-- (Mn<tspan font-size="8.32" dy="0.52">y</tspan><tspan dy="-0.52">Fe</tspan><tspan font-size="8.32" dy="0.52">x</tspan><tspan dy="-0.52">Si</tspan><tspan font-size="8.32" dy="0.52">1-x-y</tspan><tspan dy="-0.52">)Fe</tspan><tspan font-size="8.32" dy="0.52">2</tspan><tspan dy="-0.52">O</tspan><tspan font-size="8.32" dy="0.52">4</tspan></text>
<text x="169.80" y="317.20" font-size="13" fill="#1a1a1a" font-family='"Liberation Serif", serif'>(0</text>
<polyline points="190.92,311.22 181.82,314.47 190.92,317.72" fill="none" stroke="#1a1a1a" stroke-width="0.91" stroke-linejoin="miter"/>
<text x="192.07" y="317.20" font-size="13" fill="#1a1a1a" font-family='"Liberation Serif", serif'>x+y</text>
<polyline points="222.48,311.22 213.38,314.47 222.48,317.72" fill="none" stroke="#1a1a1a" stroke-width="0.91" stroke-linejoin="miter"/>
<text x="223.62" y="317.20" font-size="13" fill="#1a1a1a" font-family='"Liberation Serif", serif'>1)</text>
<polygon points="250.80,308.00 254.55,315.00 247.05,315.00" fill="#ff8a2a"/>
<text x="255.50" y="317.20" font-size="13" fill="#1a1a1a" font-family='"Liberation Serif", serif' textLength="60.50" lengthAdjust="spacingAndGlyphs">-- MnFe<tspan font-size="8.32" dy="0.52">2</tspan><tspan dy="-0.52">O</tspan><tspan font-size="8.32" dy="0.52">4</tspan></text>
<polygon points="266.30,323.70 269.90,327.30 266.30,330.90 262.70,327.30" fill="#0a14f0"/>
<text x="270.60" y="331.40" font-size="13" fill="#1a1a1a" font-family='"Liberation Serif", serif' textLength="35.30" lengthAdjust="spacingAndGlyphs">--SiO<tspan font-size="8.32" dy="0.52">2</tspan></text>
<text x="36.00" y="334.00" font-size="16" fill="#ff1a1a" font-family='"Liberation Sans", sans-serif'>(b)</text>
<polyline points="24.50,369.45 24.75,369.50 25.00,369.52 25.25,369.51 25.50,369.46 25.75,369.52 26.00,369.56 26.25,369.54 26.50,369.52 26.75,369.47 27.00,369.41 27.25,369.43 27.50,369.47 27.75,369.42 28.00,369.49 28.25,369.46 28.50,369.44 28.75,369.40 29.00,369.51 29.25,369.54 29.50,369.58 29.75,369.56 30.00,369.47 30.25,369.46 30.50,369.47 30.75,369.43 31.00,369.52 31.25,369.49 31.50,369.45 31.75,369.51 32.00,369.45 32.25,369.53 32.50,369.51 32.75,369.51 33.00,369.49 33.25,369.49 33.50,369.45 33.75,369.40 34.00,369.49 34.25,369.46 34.50,369.51 34.75,369.47 35.00,369.55 35.25,369.58 35.50,369.59 35.75,369.59 36.00,369.56 36.25,369.57 36.50,369.49 36.75,369.49 37.00,369.54 37.25,369.48 37.50,369.55 37.75,369.58 38.00,369.54 38.25,369.50 38.50,369.49 38.75,369.48 39.00,369.56 39.25,369.52 39.50,369.44 39.75,369.41 40.00,369.47 40.25,369.56 40.50,369.53 40.75,369.52 41.00,369.52 41.25,369.55 41.50,369.49 41.75,369.51 42.00,369.51 42.25,369.52 42.50,369.47 42.75,369.43 43.00,369.44 43.25,369.52 43.50,369.49 43.75,369.51 44.00,369.48 44.25,369.43 44.50,369.39 44.75,369.48 45.00,369.53 45.25,369.50 45.50,369.52 45.75,369.54 46.00,369.58 46.25,369.61 46.50,369.55 46.75,369.60 47.00,369.63 47.25,369.59 47.50,369.61 47.75,369.56 48.00,369.52 48.25,369.47 48.50,369.54 48.75,369.47 49.00,369.42 49.25,369.49 49.50,369.53 49.75,369.52 50.00,369.56 50.25,369.47 50.50,369.44 50.75,369.43 51.00,369.45 51.25,369.42 51.50,369.38 51.75,369.40 52.00,369.50 52.25,369.56 52.50,369.57 52.75,369.53 53.00,369.48 53.25,369.55 53.50,369.52 53.75,369.54 54.00,369.44 54.25,369.41 54.50,369.48 54.75,369.51 55.00,369.54 55.25,369.50 55.50,369.44 55.75,369.36 56.00,369.13 56.25,368.34 56.50,366.92 56.75,365.11 57.00,364.22 57.25,365.08 57.50,366.90 57.75,368.39 58.00,369.03 58.25,369.32 58.50,369.43 58.75,369.50 59.00,369.50 59.25,369.46 59.50,369.45 59.75,369.53 60.00,369.57 60.25,369.48 60.50,369.43 60.75,369.39 61.00,369.36 61.25,369.41 61.50,369.39 61.75,369.48 62.00,369.51 62.25,369.45 62.50,369.47 62.75,369.46 63.00,369.47 63.25,369.44 63.50,369.41 63.75,369.40 64.00,369.42 64.25,369.48 64.50,369.49 64.75,369.43 65.00,369.49 65.25,369.54 65.50,369.56 65.75,369.58 66.00,369.48 66.25,369.48 66.50,369.42 66.75,369.49 67.00,369.45 67.25,369.50 67.50,369.46 67.75,369.50 68.00,369.47 68.25,369.42 68.50,369.43 68.75,369.43 69.00,369.52 69.25,369.48 69.50,369.49 69.75,369.50 70.00,369.56 70.25,369.48 70.50,369.50 70.75,369.50 71.00,369.53 71.25,369.59 71.50,369.52 71.75,369.54 72.00,369.53 72.25,369.52 72.50,369.45 72.75,369.51 73.00,369.58 73.25,369.52 73.50,369.49 73.75,369.56 74.00,369.48 74.25,369.43 74.50,369.39 74.75,369.48 75.00,369.52 75.25,369.51 75.50,369.52 75.75,369.44 76.00,369.48 76.25,369.48 76.50,369.49 76.75,369.48 77.00,369.47 77.25,369.44 77.50,369.40 77.75,369.43 78.00,369.42 78.25,369.48 78.50,369.53 78.75,369.55 79.00,369.52 79.25,369.47 79.50,369.47 79.75,369.48 80.00,369.50 80.25,369.57 80.50,369.48 80.75,369.48 81.00,369.49 81.25,369.52 81.50,369.57 81.75,369.58 82.00,369.56 82.25,369.57 82.50,369.57 82.75,369.59 83.00,369.58 83.25,369.57 83.50,369.51 83.75,369.56 84.00,369.52 84.25,369.53 84.50,369.56 84.75,369.60 85.00,369.63 85.25,369.51 85.50,369.47 85.75,369.46 86.00,369.46 86.25,369.42 86.50,369.46 86.75,369.41 87.00,369.42 87.25,369.51 87.50,369.54 87.75,369.52 88.00,369.45 88.25,369.53 88.50,369.55 88.75,369.48 89.00,369.46 89.25,369.50 89.50,369.52 89.75,369.48 90.00,369.55 90.25,369.50 90.50,369.46 90.75,369.52 91.00,369.46 91.25,369.50 91.50,369.45 91.75,369.48 92.00,369.45 92.25,369.45 92.50,369.53 92.75,369.51 93.00,369.49 93.25,369.51 93.50,369.47 93.75,369.43 94.00,369.44 94.25,369.43 94.50,369.41 94.75,369.51 95.00,369.43 95.25,369.50 95.50,369.56 95.75,369.56 96.00,369.46 96.25,369.47 96.50,369.41 96.75,369.45 97.00,369.49 97.25,369.45 97.50,369.39 97.75,369.43 98.00,369.39 98.25,369.40 98.50,369.42 98.75,369.50 99.00,369.47 99.25,369.42 99.50,369.48 99.75,369.52 100.00,369.50 100.25,369.41 100.50,369.38 100.75,369.39 101.00,369.41 101.25,369.38 101.50,369.43 101.75,369.46 102.00,369.48 102.25,369.48 102.50,369.33 102.75,369.27 103.00,369.02 103.25,368.65 103.50,367.68 103.75,365.85 104.00,363.06 104.25,359.96 104.50,357.92 104.75,358.20 105.00,360.64 105.25,363.68 105.50,366.28 105.75,367.89 106.00,368.72 106.25,369.09 106.50,369.22 106.75,369.32 107.00,369.42 107.25,369.36 107.50,369.32 107.75,369.37 108.00,369.43 108.25,369.39 108.50,369.38 108.75,369.35 109.00,369.33 109.25,369.38 109.50,369.44 109.75,369.47 110.00,369.42 110.25,369.38 110.50,369.48 110.75,369.48 111.00,369.46 111.25,369.49 111.50,369.52 111.75,369.50 112.00,369.43 112.25,369.50 112.50,369.45 112.75,369.39 113.00,369.40 113.25,369.44 113.50,369.47 113.75,369.42 114.00,369.47 114.25,369.47 114.50,369.42 114.75,369.49 115.00,369.53 115.25,369.56 115.50,369.55 115.75,369.48 116.00,369.51 116.25,369.55 116.50,369.52 116.75,369.56 117.00,369.59 117.25,369.52 117.50,369.56 117.75,369.58 118.00,369.57 118.25,369.45 118.50,369.43 118.75,369.45 119.00,369.46 119.25,369.49 119.50,369.49 119.75,369.41 120.00,369.48 120.25,369.46 120.50,369.49 120.75,369.41 121.00,369.47 121.25,369.44 121.50,369.45 121.75,369.44 122.00,369.45 122.25,369.37 122.50,369.27 122.75,369.24 123.00,369.17 123.25,369.16 123.50,369.16 123.75,369.03 124.00,368.82 124.25,368.40 124.50,367.59 124.75,365.79 125.00,362.25 125.25,356.70 125.50,349.28 125.75,341.62 126.00,336.71 126.25,337.33 126.50,343.20 126.75,350.95 127.00,357.99 127.25,363.13 127.50,366.25 127.75,367.88 128.00,368.63 128.25,368.97 128.50,369.11 128.75,369.14 129.00,369.18 129.25,369.21 129.50,369.25 129.75,369.25 130.00,369.29 130.25,369.31 130.50,369.26 130.75,369.34 131.00,369.35 131.25,369.37 131.50,369.32 131.75,369.18 132.00,368.95 132.25,368.47 132.50,367.89 132.75,367.27 133.00,366.97 133.25,367.03 133.50,367.46 133.75,368.09 134.00,368.55 134.25,368.90 134.50,369.20 134.75,369.38 135.00,369.42 135.25,369.37 135.50,369.39 135.75,369.46 136.00,369.46 136.25,369.45 136.50,369.44 136.75,369.47 137.00,369.48 137.25,369.50 137.50,369.54 137.75,369.55 138.00,369.50 138.25,369.45 138.50,369.50 138.75,369.53 139.00,369.57 139.25,369.49 139.50,369.54 139.75,369.57 140.00,369.47 140.25,369.45 140.50,369.48 140.75,369.43 141.00,369.50 141.25,369.46 141.50,369.49 141.75,369.46 142.00,369.43 142.25,369.41 142.50,369.44 142.75,369.49 143.00,369.45 143.25,369.49 143.50,369.46 143.75,369.49 144.00,369.47 144.25,369.43 144.50,369.40 144.75,369.37 145.00,369.45 145.25,369.45 145.50,369.41 145.75,369.50 146.00,369.51 146.25,369.43 146.50,369.49 146.75,369.50 147.00,369.49 147.25,369.49 147.50,369.55 147.75,369.51 148.00,369.52 148.25,369.52 148.50,369.49 148.75,369.46 149.00,369.51 149.25,369.52 149.50,369.50 149.75,369.49 150.00,369.45 150.25,369.50 150.50,369.42 150.75,369.46 151.00,369.46 151.25,369.43 151.50,369.46 151.75,369.47 152.00,369.41 152.25,369.43 152.50,369.39 152.75,369.46 153.00,369.43 153.25,369.41 153.50,369.38 153.75,369.33 154.00,369.32 154.25,369.29 154.50,369.33 154.75,369.34 155.00,369.18 155.25,368.90 155.50,368.49 155.75,367.73 156.00,366.71 156.25,365.51 156.50,364.20 156.75,363.37 157.00,363.28 157.25,363.97 157.50,365.18 157.75,366.50 158.00,367.55 158.25,368.32 158.50,368.86 158.75,369.19 159.00,369.32 159.25,369.40 159.50,369.35 159.75,369.36 160.00,369.37 160.25,369.47 160.50,369.44 160.75,369.49 161.00,369.42 161.25,369.44 161.50,369.51 161.75,369.53 162.00,369.52 162.25,369.46 162.50,369.53 162.75,369.45 163.00,369.53 163.25,369.55 163.50,369.56 163.75,369.53 164.00,369.47 164.25,369.45 164.50,369.49 164.75,369.51 165.00,369.49 165.25,369.53 165.50,369.45 165.75,369.44 166.00,369.40 166.25,369.41 166.50,369.48 166.75,369.52 167.00,369.46 167.25,369.45 167.50,369.41 167.75,369.46 168.00,369.47 168.25,369.44 168.50,369.44 168.75,369.52 169.00,369.50 169.25,369.52 169.50,369.53 169.75,369.51 170.00,369.51 170.25,369.49 170.50,369.45 170.75,369.46 171.00,369.45 171.25,369.44 171.50,369.42 171.75,369.51 172.00,369.49 172.25,369.45 172.50,369.40 172.75,369.40 173.00,369.49 173.25,369.47 173.50,369.50 173.75,369.46 174.00,369.50 174.25,369.49 174.50,369.53 174.75,369.52 175.00,369.49 175.25,369.46 175.50,369.49 175.75,369.54 176.00,369.55 176.25,369.52 176.50,369.49 176.75,369.55 177.00,369.58 177.25,369.49 177.50,369.52 177.75,369.55 178.00,369.55 178.25,369.60 178.50,369.61 178.75,369.53 179.00,369.59 179.25,369.53 179.50,369.50 179.75,369.56 180.00,369.49 180.25,369.48 180.50,369.50 180.75,369.47 181.00,369.44 181.25,369.51 181.50,369.52 181.75,369.54 182.00,369.57 182.25,369.59 182.50,369.61 182.75,369.61 183.00,369.63 183.25,369.58 183.50,369.57 183.75,369.54 184.00,369.59 184.25,369.58 184.50,369.53 184.75,369.54 185.00,369.49 185.25,369.44 185.50,369.45 185.75,369.41 186.00,369.37 186.25,369.36 186.50,369.41 186.75,369.48 187.00,369.42 187.25,369.47 187.50,369.42 187.75,369.45 188.00,369.44 188.25,369.45 188.50,369.50 188.75,369.48 189.00,369.47 189.25,369.51 189.50,369.45 189.75,369.45 190.00,369.49 190.25,369.54 190.50,369.59 190.75,369.52 191.00,369.52 191.25,369.48 191.50,369.52 191.75,369.55 192.00,369.48 192.25,369.46 192.50,369.53 192.75,369.49 193.00,369.51 193.25,369.55 193.50,369.49 193.75,369.53 194.00,369.44 194.25,369.43 194.50,369.40 194.75,369.41 195.00,369.39 195.25,369.36 195.50,369.44 195.75,369.40 196.00,369.43 196.25,369.44 196.50,369.47 196.75,369.47 197.00,369.38 197.25,369.19 197.50,369.04 197.75,368.71 198.00,368.47 198.25,368.07 198.50,367.71 198.75,367.47 199.00,367.46 199.25,367.70 199.50,368.06 199.75,368.43 200.00,368.77 200.25,368.97 200.50,369.14 200.75,369.25 201.00,369.34 201.25,369.45 201.50,369.53 201.75,369.45 202.00,369.53 202.25,369.56 202.50,369.52 202.75,369.53 203.00,369.55 203.25,369.47 203.50,369.49 203.75,369.55 204.00,369.58 204.25,369.60 204.50,369.49 204.75,369.51 205.00,369.50 205.25,369.55 205.50,369.47 205.75,369.48 206.00,369.42 206.25,369.48 206.50,369.51 206.75,369.42 207.00,369.41 207.25,369.38 207.50,369.43 207.75,369.46 208.00,369.39 208.25,369.48 208.50,369.53 208.75,369.49 209.00,369.47 209.25,369.43 209.50,369.44 209.75,369.41 210.00,369.39 210.25,369.41 210.50,369.31 210.75,369.23 211.00,369.16 211.25,368.90 211.50,368.48 211.75,368.01 212.00,367.15 212.25,366.12 212.50,364.91 212.75,363.70 213.00,362.73 213.25,362.28 213.50,362.45 213.75,363.29 214.00,364.38 214.25,365.58 214.50,366.69 214.75,367.60 215.00,368.28 215.25,368.72 215.50,369.07 215.75,369.25 216.00,369.33 216.25,369.41 216.50,369.44 216.75,369.41 217.00,369.44 217.25,369.48 217.50,369.47 217.75,369.50 218.00,369.50 218.25,369.54 218.50,369.48 218.75,369.50 219.00,369.55 219.25,369.52 219.50,369.56 219.75,369.47 220.00,369.50 220.25,369.46 220.50,369.50 220.75,369.48 221.00,369.48 221.25,369.44 221.50,369.42 221.75,369.50 222.00,369.51 222.25,369.52 222.50,369.45 222.75,369.43 223.00,369.52 223.25,369.46 223.50,369.47 223.75,369.50 224.00,369.50 224.25,369.50 224.50,369.56 224.75,369.57 225.00,369.49 225.25,369.48 225.50,369.47 225.75,369.50 226.00,369.51 226.25,369.47 226.50,369.50 226.75,369.48 227.00,369.41 227.25,369.40 227.50,369.41 227.75,369.39 228.00,369.45 228.25,369.53 228.50,369.57 228.75,369.54 229.00,369.56 229.25,369.52 229.50,369.51 229.75,369.54 230.00,369.44 230.25,369.43 230.50,369.41 230.75,369.40 231.00,369.40 231.25,369.35 231.50,369.40 231.75,369.47 232.00,369.40 232.25,369.34 232.50,369.32 232.75,369.36 233.00,369.26 233.25,369.23 233.50,369.02 233.75,368.79 234.00,368.41 234.25,367.81 234.50,366.89 234.75,365.89 235.00,364.69 235.25,363.38 235.50,362.30 235.75,361.58 236.00,361.44 236.25,362.02 236.50,363.13 236.75,364.37 237.00,365.55 237.25,366.64 237.50,367.53 237.75,368.24 238.00,368.72 238.25,369.00 238.50,369.17 238.75,369.34 239.00,369.35 239.25,369.40 239.50,369.37 239.75,369.40 240.00,369.36 240.25,369.34 240.50,369.36 240.75,369.34 241.00,369.37 241.25,369.43 241.50,369.45 241.75,369.50 242.00,369.48 242.25,369.42 242.50,369.47 242.75,369.46 243.00,369.50 243.25,369.56 243.50,369.53 243.75,369.47 244.00,369.45 244.25,369.46 244.50,369.45 244.75,369.40 245.00,369.42 245.25,369.47 245.50,369.52 245.75,369.54 246.00,369.58 246.25,369.58 246.50,369.53 246.75,369.53 247.00,369.45 247.25,369.51 247.50,369.53 247.75,369.48 248.00,369.48 248.25,369.45 248.50,369.51 248.75,369.49 249.00,369.53 249.25,369.58 249.50,369.58 249.75,369.53 250.00,369.49 250.25,369.56 250.50,369.59 250.75,369.51 251.00,369.48 251.25,369.53 251.50,369.55 251.75,369.50 252.00,369.49 252.25,369.56 252.50,369.47 252.75,369.45 253.00,369.49 253.25,369.55 253.50,369.59 253.75,369.55 254.00,369.57 254.25,369.61 254.50,369.54 254.75,369.48 255.00,369.45 255.25,369.51 255.50,369.45 255.75,369.48 256.00,369.54 256.25,369.48 256.50,369.51 256.75,369.51 257.00,369.57 257.25,369.54 257.50,369.52 257.75,369.57 258.00,369.58 258.25,369.49 258.50,369.54 258.75,369.51 259.00,369.57 259.25,369.61 259.50,369.56 259.75,369.52 260.00,369.47 260.25,369.45 260.50,369.42 260.75,369.40 261.00,369.47 261.25,369.42 261.50,369.46 261.75,369.49 262.00,369.52 262.25,369.52 262.50,369.57 262.75,369.51 263.00,369.44 263.25,369.47 263.50,369.45 263.75,369.54 264.00,369.58 264.25,369.57 264.50,369.59 264.75,369.51 265.00,369.50 265.25,369.48 265.50,369.46 265.75,369.45 266.00,369.46 266.25,369.49 266.50,369.41 266.75,369.43 267.00,369.38 267.25,369.45 267.50,369.40 267.75,369.35 268.00,369.23 268.25,369.16 268.50,369.06 268.75,368.96 269.00,368.79 269.25,368.61 269.50,368.54 269.75,368.45 270.00,368.55 270.25,368.63 270.50,368.80 270.75,368.89 271.00,369.05 271.25,369.13 271.50,369.18 271.75,369.26 272.00,369.40 272.25,369.42 272.50,369.45 272.75,369.51 273.00,369.57 273.25,369.50 273.50,369.52 273.75,369.55 274.00,369.57 274.25,369.52 274.50,369.50 274.75,369.54 275.00,369.48 275.25,369.49 275.50,369.51 275.75,369.55 276.00,369.49 276.25,369.52 276.50,369.47 276.75,369.43 277.00,369.45 277.25,369.49 277.50,369.51 277.75,369.57 278.00,369.49 278.25,369.50 278.50,369.49 278.75,369.46 279.00,369.54 279.25,369.47 279.50,369.45 279.75,369.40 280.00,369.46 280.25,369.50 280.50,369.46 280.75,369.53 281.00,369.54 281.25,369.48 281.50,369.55 281.75,369.58 282.00,369.52 282.25,369.56 282.50,369.48 282.75,369.47 283.00,369.47 283.25,369.55 283.50,369.50 283.75,369.48 284.00,369.45 284.25,369.51 284.50,369.46 284.75,369.53 285.00,369.49 285.25,369.50 285.50,369.55 285.75,369.50 286.00,369.50 286.25,369.52 286.50,369.52 286.75,369.50 287.00,369.52 287.25,369.48 287.50,369.44 287.75,369.39 288.00,369.45 288.25,369.48 288.50,369.53 288.75,369.47 289.00,369.51 289.25,369.50 289.50,369.50 289.75,369.55 290.00,369.53 290.25,369.51 290.50,369.53 290.75,369.46 291.00,369.53 291.25,369.52 291.50,369.45 291.75,369.46 292.00,369.54 292.25,369.59 292.50,369.55 292.75,369.49 293.00,369.56 293.25,369.50 293.50,369.43 293.75,369.42 294.00,369.45 294.25,369.49 294.50,369.43 294.75,369.44 295.00,369.49 295.25,369.47 295.50,369.44 295.75,369.49 296.00,369.49 296.25,369.52 296.50,369.51 296.75,369.55 297.00,369.53 297.25,369.59 297.50,369.60 297.75,369.59 298.00,369.55 298.25,369.55 298.50,369.51 298.75,369.44 299.00,369.52 299.25,369.56 299.50,369.57 299.75,369.59 300.00,369.56 300.25,369.61 300.50,369.56 300.75,369.61 301.00,369.50 301.25,369.48 301.50,369.50 301.75,369.55 302.00,369.53 302.25,369.56 302.50,369.52 302.75,369.54 303.00,369.56 303.25,369.55 303.50,369.46 303.75,369.50 304.00,369.43 304.25,369.43 304.50,369.40 304.75,369.48 305.00,369.44 305.25,369.49 305.50,369.43 305.75,369.42 306.00,369.48 306.25,369.55 306.50,369.47 306.75,369.50 307.00,369.48 307.25,369.51 307.50,369.44 307.75,369.40 308.00,369.38 308.25,369.48 308.50,369.49 308.75,369.51 309.00,369.45 309.25,369.50 309.50,369.56 309.75,369.49 310.00,369.53 310.25,369.57 310.50,369.61 310.75,369.58 311.00,369.57 311.25,369.52 311.50,369.55 311.75,369.50 312.00,369.52 312.25,369.53 312.50,369.59 312.75,369.59 313.00,369.50 313.25,369.45 313.50,369.45 313.75,369.46 314.00,369.50 314.25,369.47 314.50,369.49 314.75,369.49 315.00,369.46 315.25,369.50 315.50,369.49 315.75,369.56 316.00,369.48 316.25,369.55 316.50,369.55 316.75,369.52 317.00,369.45 317.25,369.49 317.50,369.54 317.75,369.50 318.00,369.53 318.25,369.52 318.50,369.45 318.75,369.52 319.00,369.49 319.25,369.49 319.50,369.53 319.75,369.57 320.00,369.59 320.25,369.54 320.50,369.57 320.75,369.49 321.00,369.50 321.25,369.49 321.50,369.55 321.75,369.56 322.00,369.56 322.25,369.58 322.50,369.53 322.75,369.51 323.00,369.45 323.25,369.45 323.50,369.42 323.75,369.49 324.00,369.44 324.25,369.52 324.50,369.53 324.75,369.51 325.00,369.45 325.25,369.46 325.50,369.49 325.75,369.44 326.00,369.53 326.25,369.50 326.50,369.49 326.75,369.46 327.00,369.46 327.25,369.44 327.50,369.52 327.75,369.45 328.00,369.45 328.25,369.48 328.50,369.49 328.75,369.47 329.00,369.48" fill="none" stroke="#ff7f0e" stroke-width="1.2" stroke-linejoin="round"/>
<polyline points="24.50,409.57 24.75,409.49 25.00,409.42 25.25,409.53 25.50,409.47 25.75,409.43 26.00,409.48 26.25,409.46 26.50,409.53 26.75,409.48 27.00,409.55 27.25,409.51 27.50,409.52 27.75,409.57 28.00,409.57 28.25,409.60 28.50,409.59 28.75,409.49 29.00,409.55 29.25,409.54 29.50,409.50 29.75,409.45 30.00,409.52 30.25,409.52 30.50,409.58 30.75,409.59 31.00,409.62 31.25,409.58 31.50,409.58 31.75,409.56 32.00,409.50 32.25,409.57 32.50,409.51 32.75,409.55 33.00,409.59 33.25,409.58 33.50,409.49 33.75,409.54 34.00,409.55 34.25,409.48 34.50,409.43 34.75,409.46 35.00,409.41 35.25,409.51 35.50,409.50 35.75,409.50 36.00,409.49 36.25,409.52 36.50,409.57 36.75,409.51 37.00,409.49 37.25,409.51 37.50,409.47 37.75,409.50 38.00,409.50 38.25,409.49 38.50,409.52 38.75,409.52 39.00,409.45 39.25,409.54 39.50,409.50 39.75,409.49 40.00,409.48 40.25,409.55 40.50,409.59 40.75,409.56 41.00,409.52 41.25,409.45 41.50,409.53 41.75,409.47 42.00,409.49 42.25,409.47 42.50,409.46 42.75,409.45 43.00,409.43 43.25,409.39 43.50,409.44 43.75,409.50 44.00,409.52 44.25,409.47 44.50,409.51 44.75,409.44 45.00,409.45 45.25,409.52 45.50,409.57 45.75,409.54 46.00,409.57 46.25,409.54 46.50,409.53 46.75,409.53 47.00,409.59 47.25,409.59 47.50,409.55 47.75,409.56 48.00,409.55 48.25,409.51 48.50,409.55 48.75,409.57 49.00,409.56 49.25,409.60 49.50,409.49 49.75,409.49 50.00,409.51 50.25,409.48 50.50,409.44 50.75,409.49 51.00,409.48 51.25,409.45 51.50,409.40 51.75,409.50 52.00,409.48 52.25,409.43 52.50,409.41 52.75,409.40 53.00,409.49 53.25,409.44 53.50,409.42 53.75,409.38 54.00,409.41 54.25,409.39 54.50,409.39 54.75,409.44 55.00,409.49 55.25,409.46 55.50,409.21 55.75,408.72 56.00,407.71 56.25,406.00 56.50,404.59 56.75,404.80 57.00,406.35 57.25,407.96 57.50,408.92 57.75,409.29 58.00,409.37 58.25,409.38 58.50,409.38 58.75,409.36 59.00,409.43 59.25,409.40 59.50,409.49 59.75,409.51 60.00,409.44 60.25,409.46 60.50,409.49 60.75,409.42 61.00,409.45 61.25,409.40 61.50,409.47 61.75,409.41 62.00,409.46 62.25,409.54 62.50,409.57 62.75,409.50 63.00,409.51 63.25,409.45 63.50,409.45 63.75,409.52 64.00,409.55 64.25,409.46 64.50,409.46 64.75,409.49 65.00,409.45 65.25,409.51 65.50,409.56 65.75,409.54 66.00,409.50 66.25,409.55 66.50,409.53 66.75,409.47 67.00,409.45 67.25,409.42 67.50,409.50 67.75,409.50 68.00,409.53 68.25,409.56 68.50,409.60 68.75,409.52 69.00,409.50 69.25,409.55 69.50,409.57 69.75,409.52 70.00,409.53 70.25,409.48 70.50,409.44 70.75,409.40 71.00,409.42 71.25,409.41 71.50,409.45 71.75,409.54 72.00,409.47 72.25,409.49 72.50,409.55 72.75,409.54 73.00,409.53 73.25,409.55 73.50,409.46 73.75,409.54 74.00,409.55 74.25,409.57 74.50,409.59 74.75,409.49 75.00,409.43 75.25,409.41 75.50,409.45 75.75,409.53 76.00,409.58 76.25,409.53 76.50,409.54 76.75,409.55 77.00,409.51 77.25,409.57 77.50,409.60 77.75,409.59 78.00,409.61 78.25,409.61 78.50,409.59 78.75,409.52 79.00,409.48 79.25,409.45 79.50,409.40 79.75,409.50 80.00,409.47 80.25,409.41 80.50,409.42 80.75,409.39 81.00,409.43 81.25,409.43 81.50,409.41 81.75,409.44 82.00,409.45 82.25,409.45 82.50,409.51 82.75,409.48 83.00,409.49 83.25,409.55 83.50,409.59 83.75,409.53 84.00,409.45 84.25,409.53 84.50,409.52 84.75,409.47 85.00,409.42 85.25,409.41 85.50,409.42 85.75,409.39 86.00,409.37 86.25,409.49 86.50,409.53 86.75,409.46 87.00,409.46 87.25,409.51 87.50,409.50 87.75,409.43 88.00,409.42 88.25,409.43 88.50,409.50 88.75,409.50 89.00,409.47 89.25,409.48 89.50,409.39 89.75,409.40 90.00,409.35 90.25,409.12 90.50,408.57 90.75,407.67 91.00,406.51 91.25,405.57 91.50,405.46 91.75,406.30 92.00,407.48 92.25,408.37 92.50,408.96 92.75,409.27 93.00,409.40 93.25,409.37 93.50,409.47 93.75,409.48 94.00,409.45 94.25,409.42 94.50,409.47 94.75,409.53 95.00,409.49 95.25,409.47 95.50,409.48 95.75,409.43 96.00,409.44 96.25,409.51 96.50,409.51 96.75,409.54 97.00,409.48 97.25,409.53 97.50,409.55 97.75,409.48 98.00,409.48 98.25,409.51 98.50,409.50 98.75,409.51 99.00,409.45 99.25,409.47 99.50,409.44 99.75,409.49 100.00,409.46 100.25,409.53 100.50,409.50 100.75,409.44 101.00,409.42 101.25,409.37 101.50,409.41 101.75,409.33 102.00,409.35 102.25,409.29 102.50,409.25 102.75,408.95 103.00,408.41 103.25,407.28 103.50,405.34 103.75,402.91 104.00,400.81 104.25,400.23 104.50,401.56 104.75,403.86 105.00,406.14 105.25,407.81 105.50,408.65 105.75,409.15 106.00,409.31 106.25,409.32 106.50,409.31 106.75,409.34 107.00,409.38 107.25,409.36 107.50,409.34 107.75,409.39 108.00,409.38 108.25,409.41 108.50,409.42 108.75,409.47 109.00,409.48 109.25,409.44 109.50,409.41 109.75,409.49 110.00,409.42 110.25,409.39 110.50,409.36 110.75,409.45 111.00,409.47 111.25,409.53 111.50,409.53 111.75,409.49 112.00,409.47 112.25,409.51 112.50,409.46 112.75,409.51 113.00,409.49 113.25,409.42 113.50,409.42 113.75,409.45 114.00,409.41 114.25,409.50 114.50,409.55 114.75,409.52 115.00,409.56 115.25,409.56 115.50,409.53 115.75,409.46 116.00,409.53 116.25,409.57 116.50,409.52 116.75,409.49 117.00,409.42 117.25,409.46 117.50,409.51 117.75,409.48 118.00,409.44 118.25,409.47 118.50,409.50 118.75,409.44 119.00,409.41 119.25,409.45 119.50,409.38 119.75,409.45 120.00,409.42 120.25,409.47 120.50,409.45 120.75,409.39 121.00,409.33 121.25,409.30 121.50,409.30 121.75,409.37 122.00,409.41 122.25,409.40 122.50,409.34 122.75,409.35 123.00,409.35 123.25,409.28 123.50,409.17 123.75,409.11 124.00,408.96 124.25,408.67 124.50,408.05 124.75,406.64 125.00,404.11 125.25,399.88 125.50,394.40 125.75,388.69 126.00,384.84 126.25,385.38 126.50,389.77 126.75,395.58 127.00,400.96 127.25,404.80 127.50,407.05 127.75,408.21 128.00,408.75 128.25,409.06 128.50,409.21 128.75,409.20 129.00,409.23 129.25,409.21 129.50,409.23 129.75,409.26 130.00,409.28 130.25,409.26 130.50,409.31 130.75,409.24 131.00,409.22 131.25,409.01 131.50,408.64 131.75,408.16 132.00,407.52 132.25,406.94 132.50,406.68 132.75,406.91 133.00,407.45 133.25,408.13 133.50,408.64 133.75,409.05 134.00,409.22 134.25,409.28 134.50,409.33 134.75,409.37 135.00,409.46 135.25,409.42 135.50,409.39 135.75,409.37 136.00,409.37 136.25,409.48 136.50,409.54 136.75,409.47 137.00,409.41 137.25,409.43 137.50,409.46 137.75,409.41 138.00,409.43 138.25,409.49 138.50,409.41 138.75,409.47 139.00,409.50 139.25,409.54 139.50,409.51 139.75,409.50 140.00,409.49 140.25,409.44 140.50,409.46 140.75,409.43 141.00,409.43 141.25,409.39 141.50,409.38 141.75,409.36 142.00,409.41 142.25,409.41 142.50,409.45 142.75,409.46 143.00,409.44 143.25,409.40 143.50,409.45 143.75,409.49 144.00,409.52 144.25,409.51 144.50,409.51 144.75,409.43 145.00,409.43 145.25,409.50 145.50,409.48 145.75,409.42 146.00,409.44 146.25,409.51 146.50,409.44 146.75,409.40 147.00,409.44 147.25,409.51 147.50,409.49 147.75,409.45 148.00,409.50 148.25,409.44 148.50,409.43 148.75,409.47 149.00,409.52 149.25,409.56 149.50,409.51 149.75,409.46 150.00,409.45 150.25,409.41 150.50,409.41 150.75,409.47 151.00,409.55 151.25,409.49 151.50,409.42 151.75,409.48 152.00,409.54 152.25,409.56 152.50,409.51 152.75,409.52 153.00,409.54 153.25,409.54 153.50,409.50 153.75,409.55 154.00,409.54 154.25,409.45 154.50,409.41 154.75,409.30 155.00,409.21 155.25,409.09 155.50,408.74 155.75,408.16 156.00,407.38 156.25,406.30 156.50,405.29 156.75,404.60 157.00,404.54 157.25,405.17 157.50,406.20 157.75,407.23 158.00,408.07 158.25,408.70 158.50,409.07 158.75,409.33 159.00,409.42 159.25,409.45 159.50,409.44 159.75,409.44 160.00,409.49 160.25,409.46 160.50,409.52 160.75,409.53 161.00,409.58 161.25,409.57 161.50,409.54 161.75,409.50 162.00,409.42 162.25,409.47 162.50,409.51 162.75,409.53 163.00,409.55 163.25,409.46 163.50,409.50 163.75,409.46 164.00,409.46 164.25,409.52 164.50,409.50 164.75,409.49 165.00,409.42 165.25,409.41 165.50,409.40 165.75,409.39 166.00,409.44 166.25,409.39 166.50,409.37 166.75,409.36 167.00,409.45 167.25,409.53 167.50,409.55 167.75,409.53 168.00,409.46 168.25,409.52 168.50,409.45 168.75,409.41 169.00,409.44 169.25,409.52 169.50,409.48 169.75,409.54 170.00,409.50 170.25,409.56 170.50,409.57 170.75,409.59 171.00,409.62 171.25,409.62 171.50,409.53 171.75,409.52 172.00,409.51 172.25,409.54 172.50,409.48 172.75,409.50 173.00,409.47 173.25,409.43 173.50,409.45 173.75,409.51 174.00,409.51 174.25,409.49 174.50,409.45 174.75,409.45 175.00,409.45 175.25,409.44 175.50,409.43 175.75,409.42 176.00,409.42 176.25,409.48 176.50,409.50 176.75,409.52 177.00,409.57 177.25,409.56 177.50,409.48 177.75,409.47 178.00,409.49 178.25,409.53 178.50,409.52 178.75,409.45 179.00,409.47 179.25,409.50 179.50,409.54 179.75,409.51 180.00,409.47 180.25,409.41 180.50,409.45 180.75,409.50 181.00,409.44 181.25,409.47 181.50,409.49 181.75,409.50 182.00,409.46 182.25,409.42 182.50,409.38 182.75,409.40 183.00,409.49 183.25,409.48 183.50,409.56 183.75,409.58 184.00,409.56 184.25,409.52 184.50,409.52 184.75,409.56 185.00,409.51 185.25,409.45 185.50,409.53 185.75,409.53 186.00,409.50 186.25,409.48 186.50,409.43 186.75,409.47 187.00,409.52 187.25,409.51 187.50,409.53 187.75,409.55 188.00,409.50 188.25,409.52 188.50,409.58 188.75,409.57 189.00,409.50 189.25,409.52 189.50,409.53 189.75,409.55 190.00,409.56 190.25,409.59 190.50,409.62 190.75,409.53 191.00,409.51 191.25,409.44 191.50,409.53 191.75,409.46 192.00,409.46 192.25,409.49 192.50,409.48 192.75,409.43 193.00,409.45 193.25,409.43 193.50,409.45 193.75,409.49 194.00,409.46 194.25,409.46 194.50,409.48 194.75,409.48 195.00,409.52 195.25,409.55 195.50,409.57 195.75,409.46 196.00,409.42 196.25,409.31 196.50,409.26 196.75,409.08 197.00,408.90 197.25,408.57 197.50,408.23 197.75,407.75 198.00,407.46 198.25,407.28 198.50,407.41 198.75,407.61 199.00,407.93 199.25,408.38 199.50,408.71 199.75,408.98 200.00,409.17 200.25,409.37 200.50,409.44 200.75,409.50 201.00,409.54 201.25,409.57 201.50,409.52 201.75,409.47 202.00,409.47 202.25,409.53 202.50,409.56 202.75,409.53 203.00,409.57 203.25,409.57 203.50,409.47 203.75,409.49 204.00,409.53 204.25,409.44 204.50,409.44 204.75,409.47 205.00,409.48 205.25,409.48 205.50,409.42 205.75,409.41 206.00,409.49 206.25,409.46 206.50,409.46 206.75,409.48 207.00,409.44 207.25,409.44 207.50,409.45 207.75,409.50 208.00,409.53 208.25,409.45 208.50,409.45 208.75,409.48 209.00,409.51 209.25,409.47 209.50,409.46 209.75,409.43 210.00,409.39 210.25,409.34 210.50,409.22 210.75,408.98 211.00,408.45 211.25,407.87 211.50,407.05 211.75,406.09 212.00,405.07 212.25,404.33 212.50,403.91 212.75,403.94 213.00,404.49 213.25,405.31 213.50,406.35 213.75,407.27 214.00,407.95 214.25,408.52 214.50,408.97 214.75,409.14 215.00,409.26 215.25,409.32 215.50,409.35 215.75,409.33 216.00,409.40 216.25,409.38 216.50,409.44 216.75,409.44 217.00,409.50 217.25,409.52 217.50,409.55 217.75,409.47 218.00,409.51 218.25,409.54 218.50,409.48 218.75,409.41 219.00,409.38 219.25,409.46 219.50,409.53 219.75,409.45 220.00,409.42 220.25,409.43 220.50,409.39 220.75,409.45 221.00,409.51 221.25,409.55 221.50,409.48 221.75,409.54 222.00,409.56 222.25,409.48 222.50,409.53 222.75,409.57 223.00,409.59 223.25,409.59 223.50,409.59 223.75,409.55 224.00,409.45 224.25,409.49 224.50,409.49 224.75,409.44 225.00,409.40 225.25,409.49 225.50,409.55 225.75,409.46 226.00,409.40 226.25,409.46 226.50,409.44 226.75,409.51 227.00,409.49 227.25,409.52 227.50,409.43 227.75,409.49 228.00,409.44 228.25,409.44 228.50,409.45 228.75,409.43 229.00,409.41 229.25,409.42 229.50,409.37 229.75,409.36 230.00,409.34 230.25,409.44 230.50,409.41 230.75,409.49 231.00,409.52 231.25,409.43 231.50,409.47 231.75,409.50 232.00,409.42 232.25,409.35 232.50,409.27 232.75,409.10 233.00,408.81 233.25,408.47 233.50,407.87 233.75,407.15 234.00,406.23 234.25,405.31 234.50,404.50 234.75,403.79 235.00,403.52 235.25,403.79 235.50,404.44 235.75,405.27 236.00,406.19 236.25,407.06 236.50,407.87 236.75,408.47 237.00,408.89 237.25,409.14 237.50,409.34 237.75,409.35 238.00,409.42 238.25,409.42 238.50,409.50 238.75,409.47 239.00,409.49 239.25,409.52 239.50,409.56 239.75,409.56 240.00,409.50 240.25,409.51 240.50,409.53 240.75,409.57 241.00,409.50 241.25,409.52 241.50,409.54 241.75,409.46 242.00,409.42 242.25,409.45 242.50,409.48 242.75,409.46 243.00,409.48 243.25,409.43 243.50,409.47 243.75,409.48 244.00,409.53 244.25,409.54 244.50,409.46 244.75,409.48 245.00,409.43 245.25,409.46 245.50,409.50 245.75,409.52 246.00,409.44 246.25,409.46 246.50,409.43 246.75,409.45 247.00,409.47 247.25,409.48 247.50,409.52 247.75,409.48 248.00,409.48 248.25,409.45 248.50,409.42 248.75,409.47 249.00,409.43 249.25,409.50 249.50,409.48 249.75,409.43 250.00,409.50 250.25,409.43 250.50,409.42 250.75,409.47 251.00,409.41 251.25,409.47 251.50,409.49 251.75,409.56 252.00,409.51 252.25,409.55 252.50,409.60 252.75,409.56 253.00,409.47 253.25,409.46 253.50,409.52 253.75,409.44 254.00,409.48 254.25,409.49 254.50,409.53 254.75,409.50 255.00,409.56 255.25,409.48 255.50,409.47 255.75,409.45 256.00,409.48 256.25,409.45 256.50,409.45 256.75,409.46 257.00,409.54 257.25,409.45 257.50,409.44 257.75,409.41 258.00,409.48 258.25,409.52 258.50,409.44 258.75,409.50 259.00,409.56 259.25,409.53 259.50,409.53 259.75,409.56 260.00,409.59 260.25,409.52 260.50,409.54 260.75,409.46 261.00,409.45 261.25,409.53 261.50,409.53 261.75,409.52 262.00,409.50 262.25,409.49 262.50,409.43 262.75,409.46 263.00,409.54 263.25,409.47 263.50,409.41 263.75,409.46 264.00,409.52 264.25,409.50 264.50,409.44 264.75,409.48 265.00,409.51 265.25,409.46 265.50,409.52 265.75,409.51 266.00,409.54 266.25,409.48 266.50,409.46 266.75,409.48 267.00,409.49 267.25,409.51 267.50,409.51 267.75,409.45 268.00,409.28 268.25,409.20 268.50,409.13 268.75,409.05 269.00,408.89 269.25,408.72 269.50,408.69 269.75,408.64 270.00,408.71 270.25,408.76 270.50,408.95 270.75,408.99 271.00,409.13 271.25,409.29 271.50,409.37 271.75,409.36 272.00,409.41 272.25,409.49 272.50,409.51 272.75,409.56 273.00,409.58 273.25,409.53 273.50,409.46 273.75,409.50 274.00,409.49 274.25,409.54 274.50,409.51 274.75,409.54 275.00,409.47 275.25,409.52 275.50,409.56 275.75,409.58 276.00,409.58 276.25,409.57 276.50,409.50 276.75,409.47 277.00,409.45 277.25,409.44 277.50,409.47 277.75,409.46 278.00,409.50 278.25,409.55 278.50,409.60 278.75,409.49 279.00,409.51 279.25,409.52 279.50,409.50 279.75,409.53 280.00,409.57 280.25,409.51 280.50,409.52 280.75,409.46 281.00,409.47 281.25,409.46 281.50,409.52 281.75,409.57 282.00,409.60 282.25,409.56 282.50,409.57 282.75,409.56 283.00,409.54 283.25,409.47 283.50,409.45 283.75,409.53 284.00,409.53 284.25,409.46 284.50,409.46 284.75,409.42 285.00,409.40 285.25,409.42 285.50,409.42 285.75,409.38 286.00,409.43 286.25,409.52 286.50,409.51 286.75,409.49 287.00,409.48 287.25,409.45 287.50,409.45 287.75,409.42 288.00,409.44 288.25,409.53 288.50,409.50 288.75,409.55 289.00,409.53 289.25,409.54 289.50,409.52 289.75,409.50 290.00,409.55 290.25,409.54 290.50,409.48 290.75,409.46 291.00,409.46 291.25,409.49 291.50,409.47 291.75,409.45 292.00,409.44 292.25,409.54 292.50,409.56 292.75,409.59 293.00,409.61 293.25,409.51 293.50,409.51 293.75,409.54 294.00,409.52 294.25,409.52 294.50,409.53 294.75,409.54 295.00,409.47 295.25,409.42 295.50,409.42 295.75,409.38 296.00,409.40 296.25,409.37 296.50,409.37 296.75,409.44 297.00,409.42 297.25,409.48 297.50,409.48 297.75,409.53 298.00,409.53 298.25,409.57 298.50,409.53 298.75,409.51 299.00,409.57 299.25,409.57 299.50,409.53 299.75,409.57 300.00,409.57 300.25,409.57 300.50,409.47 300.75,409.54 301.00,409.47 301.25,409.41 301.50,409.42 301.75,409.41 302.00,409.41 302.25,409.44 302.50,409.47 302.75,409.51 303.00,409.56 303.25,409.56 303.50,409.59 303.75,409.54 304.00,409.48 304.25,409.52 304.50,409.58 304.75,409.50 305.00,409.52 305.25,409.49 305.50,409.57 305.75,409.47 306.00,409.48 306.25,409.47 306.50,409.46 306.75,409.51 307.00,409.43 307.25,409.43 307.50,409.52 307.75,409.51 308.00,409.43 308.25,409.48 308.50,409.51 308.75,409.57 309.00,409.60 309.25,409.62 309.50,409.54 309.75,409.50 310.00,409.53 310.25,409.49 310.50,409.48 310.75,409.42 311.00,409.41 311.25,409.39 311.50,409.42 311.75,409.48 312.00,409.44 312.25,409.44 312.50,409.40 312.75,409.43 313.00,409.47 313.25,409.50 313.50,409.52 313.75,409.52 314.00,409.54 314.25,409.57 314.50,409.59 314.75,409.48 315.00,409.55 315.25,409.53 315.50,409.59 315.75,409.59 316.00,409.55 316.25,409.46 316.50,409.42 316.75,409.49 317.00,409.42 317.25,409.39 317.50,409.46 317.75,409.49 318.00,409.52 318.25,409.45 318.50,409.54 318.75,409.56 319.00,409.46 319.25,409.49 319.50,409.47 319.75,409.44 320.00,409.48 320.25,409.56 320.50,409.47 320.75,409.52 321.00,409.58 321.25,409.49 321.50,409.55 321.75,409.46 322.00,409.45 322.25,409.40 322.50,409.39 322.75,409.39 323.00,409.44 323.25,409.46 323.50,409.54 323.75,409.56 324.00,409.48 324.25,409.42 324.50,409.42 324.75,409.50 325.00,409.54 325.25,409.57 325.50,409.60 325.75,409.59 326.00,409.56 326.25,409.59 326.50,409.60 326.75,409.60 327.00,409.62 327.25,409.57 327.50,409.49 327.75,409.51 328.00,409.53 328.25,409.58 328.50,409.59 328.75,409.61 329.00,409.62" fill="none" stroke="#23a455" stroke-width="1.2" stroke-linejoin="round"/>
<polyline points="24.50,438.96 24.75,439.00 25.00,439.02 25.25,438.91 25.50,438.92 25.75,438.90 26.00,438.90 26.25,438.85 26.50,438.82 26.75,438.85 27.00,438.83 27.25,438.85 27.50,438.80 27.75,438.78 28.00,438.86 28.25,438.86 28.50,438.88 28.75,438.92 29.00,438.89 29.25,438.83 29.50,438.90 29.75,438.91 30.00,438.93 30.25,438.93 30.50,438.99 30.75,438.93 31.00,438.96 31.25,438.91 31.50,438.92 31.75,438.93 32.00,438.89 32.25,438.84 32.50,438.86 32.75,438.91 33.00,438.92 33.25,438.90 33.50,438.92 33.75,438.87 34.00,438.83 34.25,438.83 34.50,438.91 34.75,438.86 35.00,438.82 35.25,438.79 35.50,438.77 35.75,438.79 36.00,438.84 36.25,438.91 36.50,438.88 36.75,438.87 37.00,438.85 37.25,438.84 37.50,438.90 37.75,438.91 38.00,438.87 38.25,438.83 38.50,438.90 38.75,438.93 39.00,438.96 39.25,438.90 39.50,438.91 39.75,438.96 40.00,438.95 40.25,438.99 40.50,438.91 40.75,438.97 41.00,438.88 41.25,438.87 41.50,438.82 41.75,438.89 42.00,438.92 42.25,438.98 42.50,438.99 42.75,439.02 43.00,438.98 43.25,439.02 43.50,439.00 43.75,438.94 44.00,438.99 44.25,438.94 44.50,438.88 44.75,438.82 45.00,438.85 45.25,438.82 45.50,438.92 45.75,438.97 46.00,438.90 46.25,438.84 46.50,438.87 46.75,438.83 47.00,438.87 47.25,438.92 47.50,438.88 47.75,438.87 48.00,438.94 48.25,438.92 48.50,438.89 48.75,438.95 49.00,438.97 49.25,439.00 49.50,438.98 49.75,438.94 50.00,438.95 50.25,438.97 50.50,438.96 50.75,438.90 51.00,438.87 51.25,438.86 51.50,438.91 51.75,438.91 52.00,438.91 52.25,438.95 52.50,438.87 52.75,438.89 53.00,438.87 53.25,438.88 53.50,438.93 53.75,438.87 54.00,438.93 54.25,438.84 54.50,438.85 54.75,438.84 55.00,438.76 55.25,438.63 55.50,438.18 55.75,437.24 56.00,435.97 56.25,434.97 56.50,435.41 56.75,436.76 57.00,437.84 57.25,438.53 57.50,438.73 57.75,438.84 58.00,438.81 58.25,438.83 58.50,438.84 58.75,438.80 59.00,438.86 59.25,438.87 59.50,438.90 59.75,438.90 60.00,438.91 60.25,438.90 60.50,438.87 60.75,438.94 61.00,438.86 61.25,438.93 61.50,438.97 61.75,438.94 62.00,438.96 62.25,438.96 62.50,438.95 62.75,438.90 63.00,438.87 63.25,438.86 63.50,438.84 63.75,438.93 64.00,438.89 64.25,438.88 64.50,438.87 64.75,438.92 65.00,438.91 65.25,438.91 65.50,438.86 65.75,438.84 66.00,438.79 66.25,438.77 66.50,438.73 66.75,438.71 67.00,438.48 67.25,438.12 67.50,437.88 67.75,437.88 68.00,438.20 68.25,438.51 68.50,438.77 68.75,438.82 69.00,438.91 69.25,438.87 69.50,438.94 69.75,438.94 70.00,438.85 70.25,438.91 70.50,438.86 70.75,438.84 71.00,438.77 71.25,438.76 71.50,438.51 71.75,438.29 72.00,437.98 72.25,437.92 72.50,438.08 72.75,438.34 73.00,438.67 73.25,438.83 73.50,438.83 73.75,438.93 74.00,438.97 74.25,438.89 74.50,438.82 74.75,438.87 75.00,438.83 75.25,438.89 75.50,438.88 75.75,438.92 76.00,438.92 76.25,438.95 76.50,438.97 76.75,438.96 77.00,438.94 77.25,438.90 77.50,438.84 77.75,438.81 78.00,438.89 78.25,438.85 78.50,438.86 78.75,438.85 79.00,438.88 79.25,438.89 79.50,438.94 79.75,438.92 80.00,438.89 80.25,438.91 80.50,438.94 80.75,438.98 81.00,438.92 81.25,438.97 81.50,439.01 81.75,439.03 82.00,438.92 82.25,438.89 82.50,438.93 82.75,438.96 83.00,438.87 83.25,438.86 83.50,438.91 83.75,438.94 84.00,438.92 84.25,438.87 84.50,438.86 84.75,438.81 85.00,438.81 85.25,438.83 85.50,438.90 85.75,438.91 86.00,438.89 86.25,438.85 86.50,438.83 86.75,438.88 87.00,438.87 87.25,438.82 87.50,438.89 87.75,438.89 88.00,438.95 88.25,438.92 88.50,438.91 88.75,438.87 89.00,438.87 89.25,438.90 89.50,438.92 89.75,438.84 90.00,438.64 90.25,438.19 90.50,437.45 90.75,436.07 91.00,434.32 91.25,432.82 91.50,432.62 91.75,433.91 92.00,435.75 92.25,437.24 92.50,438.16 92.75,438.61 93.00,438.73 93.25,438.74 93.50,438.81 93.75,438.76 94.00,438.81 94.25,438.84 94.50,438.85 94.75,438.81 95.00,438.77 95.25,438.81 95.50,438.78 95.75,438.84 96.00,438.83 96.25,438.86 96.50,438.91 96.75,438.91 97.00,438.90 97.25,438.85 97.50,438.84 97.75,438.92 98.00,438.87 98.25,438.84 98.50,438.85 98.75,438.87 99.00,438.91 99.25,438.87 99.50,438.93 99.75,438.84 100.00,438.89 100.25,438.89 100.50,438.93 100.75,438.85 101.00,438.87 101.25,438.92 101.50,438.90 101.75,438.80 102.00,438.85 102.25,438.86 102.50,438.69 102.75,438.53 103.00,437.98 103.25,436.98 103.50,435.51 103.75,433.60 104.00,431.92 104.25,431.40 104.50,432.49 104.75,434.36 105.00,436.21 105.25,437.59 105.50,438.31 105.75,438.68 106.00,438.74 106.25,438.82 106.50,438.87 106.75,438.80 107.00,438.86 107.25,438.82 107.50,438.79 107.75,438.76 108.00,438.83 108.25,438.79 108.50,438.89 108.75,438.81 109.00,438.88 109.25,438.92 109.50,438.91 109.75,438.91 110.00,438.94 110.25,438.94 110.50,438.86 110.75,438.91 111.00,438.88 111.25,438.89 111.50,438.89 111.75,438.94 112.00,438.91 112.25,438.95 112.50,438.86 112.75,438.84 113.00,438.88 113.25,438.90 113.50,438.94 113.75,438.87 114.00,438.92 114.25,438.95 114.50,438.87 114.75,438.82 115.00,438.86 115.25,438.93 115.50,438.93 115.75,438.90 116.00,438.89 116.25,438.93 116.50,438.91 116.75,438.90 117.00,438.90 117.25,438.95 117.50,438.96 117.75,438.97 118.00,438.90 118.25,438.90 118.50,438.93 118.75,438.93 119.00,438.97 119.25,438.98 119.50,438.88 119.75,438.87 120.00,438.84 120.25,438.79 120.50,438.81 120.75,438.88 121.00,438.90 121.25,438.80 121.50,438.76 121.75,438.75 122.00,438.81 122.25,438.78 122.50,438.71 122.75,438.71 123.00,438.65 123.25,438.56 123.50,438.55 123.75,438.51 124.00,438.26 124.25,437.63 124.50,436.21 124.75,433.73 125.00,429.90 125.25,425.06 125.50,420.31 125.75,417.63 126.00,418.89 126.25,422.99 126.50,428.03 126.75,432.36 127.00,435.42 127.25,437.13 127.50,437.94 127.75,438.33 128.00,438.52 128.25,438.65 128.50,438.68 128.75,438.73 129.00,438.73 129.25,438.78 129.50,438.74 129.75,438.82 130.00,438.87 130.25,438.77 130.50,438.82 130.75,438.82 131.00,438.76 131.25,438.54 131.50,438.34 131.75,438.03 132.00,437.62 132.25,437.31 132.50,437.18 132.75,437.31 133.00,437.70 133.25,438.01 133.50,438.33 133.75,438.58 134.00,438.73 134.25,438.86 134.50,438.89 134.75,438.90 135.00,438.91 135.25,438.95 135.50,438.91 135.75,438.93 136.00,438.92 136.25,438.89 136.50,438.86 136.75,438.82 137.00,438.77 137.25,438.79 137.50,438.80 137.75,438.77 138.00,438.81 138.25,438.82 138.50,438.91 138.75,438.94 139.00,438.94 139.25,438.97 139.50,438.90 139.75,438.84 140.00,438.88 140.25,438.84 140.50,438.93 140.75,438.90 141.00,438.95 141.25,438.89 141.50,438.83 141.75,438.87 142.00,438.91 142.25,438.87 142.50,438.94 142.75,438.99 143.00,438.97 143.25,439.01 143.50,439.03 143.75,438.92 144.00,438.94 144.25,438.96 144.50,438.96 144.75,438.91 145.00,438.91 145.25,438.91 145.50,438.96 145.75,438.87 146.00,438.86 146.25,438.84 146.50,438.90 146.75,438.84 147.00,438.80 147.25,438.78 147.50,438.77 147.75,438.81 148.00,438.89 148.25,438.87 148.50,438.82 148.75,438.87 149.00,438.85 149.25,438.88 149.50,438.92 149.75,438.90 150.00,438.93 150.25,438.93 150.50,438.96 150.75,438.97 151.00,438.99 151.25,438.98 151.50,438.91 151.75,438.90 152.00,438.93 152.25,438.95 152.50,438.95 152.75,438.96 153.00,438.97 153.25,438.93 153.50,438.92 153.75,438.82 154.00,438.82 154.25,438.84 154.50,438.86 154.75,438.81 155.00,438.63 155.25,438.30 155.50,437.91 155.75,437.25 156.00,436.34 156.25,435.40 156.50,434.81 156.75,434.63 157.00,434.98 157.25,435.86 157.50,436.75 157.75,437.55 158.00,438.15 158.25,438.45 158.50,438.66 158.75,438.71 159.00,438.80 159.25,438.82 159.50,438.88 159.75,438.82 160.00,438.80 160.25,438.81 160.50,438.76 160.75,438.80 161.00,438.90 161.25,438.94 161.50,438.87 161.75,438.92 162.00,438.87 162.25,438.84 162.50,438.88 162.75,438.85 163.00,438.82 163.25,438.79 163.50,438.78 163.75,438.78 164.00,438.88 164.25,438.82 164.50,438.86 164.75,438.83 165.00,438.89 165.25,438.82 165.50,438.83 165.75,438.89 166.00,438.82 166.25,438.84 166.50,438.84 166.75,438.86 167.00,438.89 167.25,438.83 167.50,438.91 167.75,438.87 168.00,438.92 168.25,438.86 168.50,438.81 168.75,438.80 169.00,438.78 169.25,438.79 169.50,438.78 169.75,438.77 170.00,438.87 170.25,438.88 170.50,438.89 170.75,438.89 171.00,438.94 171.25,438.86 171.50,438.81 171.75,438.87 172.00,438.81 172.25,438.84 172.50,438.88 172.75,438.94 173.00,438.85 173.25,438.85 173.50,438.84 173.75,438.88 174.00,438.82 174.25,438.89 174.50,438.96 174.75,438.94 175.00,438.95 175.25,438.97 175.50,438.99 175.75,439.00 176.00,438.96 176.25,438.87 176.50,438.93 176.75,438.96 177.00,438.97 177.25,438.91 177.50,438.97 177.75,438.96 178.00,438.91 178.25,438.94 178.50,438.89 178.75,438.85 179.00,438.93 179.25,438.85 179.50,438.92 179.75,438.90 180.00,438.91 180.25,438.93 180.50,438.98 180.75,438.90 181.00,438.84 181.25,438.87 181.50,438.84 181.75,438.85 182.00,438.81 182.25,438.79 182.50,438.84 182.75,438.80 183.00,438.80 183.25,438.83 183.50,438.80 183.75,438.88 184.00,438.94 184.25,438.86 184.50,438.92 184.75,438.86 185.00,438.91 185.25,438.84 185.50,438.90 185.75,438.96 186.00,438.90 186.25,438.85 186.50,438.85 186.75,438.92 187.00,438.95 187.25,438.88 187.50,438.94 187.75,438.96 188.00,439.00 188.25,439.03 188.50,438.92 188.75,438.95 189.00,438.86 189.25,438.83 189.50,438.86 189.75,438.84 190.00,438.82 190.25,438.83 190.50,438.85 190.75,438.93 191.00,438.92 191.25,438.92 191.50,438.94 191.75,438.88 192.00,438.93 192.25,438.95 192.50,438.97 192.75,438.93 193.00,438.92 193.25,438.85 193.50,438.86 193.75,438.89 194.00,438.95 194.25,438.98 194.50,438.92 194.75,438.94 195.00,438.96 195.25,438.99 195.50,438.97 195.75,438.89 196.00,438.91 196.25,438.78 196.50,438.73 196.75,438.62 197.00,438.51 197.25,438.30 197.50,437.98 197.75,437.67 198.00,437.41 198.25,437.37 198.50,437.47 198.75,437.63 199.00,437.84 199.25,438.13 199.50,438.33 199.75,438.54 200.00,438.66 200.25,438.73 200.50,438.82 200.75,438.81 201.00,438.82 201.25,438.85 201.50,438.93 201.75,438.86 202.00,438.84 202.25,438.82 202.50,438.82 202.75,438.84 203.00,438.91 203.25,438.85 203.50,438.90 203.75,438.88 204.00,438.89 204.25,438.89 204.50,438.90 204.75,438.85 205.00,438.88 205.25,438.87 205.50,438.91 205.75,438.91 206.00,438.89 206.25,438.95 206.50,438.88 206.75,438.81 207.00,438.78 207.25,438.84 207.50,438.79 207.75,438.86 208.00,438.80 208.25,438.79 208.50,438.84 208.75,438.77 209.00,438.79 209.25,438.88 209.50,438.88 209.75,438.83 210.00,438.84 210.25,438.76 210.50,438.67 210.75,438.42 211.00,438.08 211.25,437.66 211.50,437.09 211.75,436.40 212.00,435.60 212.25,434.97 212.50,434.59 212.75,434.61 213.00,435.01 213.25,435.74 213.50,436.42 213.75,437.11 214.00,437.63 214.25,438.12 214.50,438.44 214.75,438.56 215.00,438.75 215.25,438.87 215.50,438.90 215.75,438.93 216.00,438.93 216.25,438.83 216.50,438.81 216.75,438.80 217.00,438.76 217.25,438.82 217.50,438.86 217.75,438.84 218.00,438.89 218.25,438.85 218.50,438.83 218.75,438.79 219.00,438.79 219.25,438.88 219.50,438.88 219.75,438.92 220.00,438.96 220.25,438.95 220.50,438.91 220.75,438.96 221.00,438.87 221.25,438.87 221.50,438.93 221.75,438.94 222.00,438.90 222.25,438.94 222.50,438.96 222.75,438.96 223.00,438.90 223.25,438.92 223.50,438.93 223.75,438.96 224.00,438.93 224.25,438.98 224.50,438.97 224.75,438.90 225.00,438.90 225.25,438.85 225.50,438.88 225.75,438.86 226.00,438.94 226.25,438.89 226.50,438.93 226.75,438.96 227.00,438.91 227.25,438.91 227.50,438.86 227.75,438.85 228.00,438.85 228.25,438.89 228.50,438.89 228.75,438.83 229.00,438.87 229.25,438.87 229.50,438.87 229.75,438.86 230.00,438.91 230.25,438.91 230.50,438.91 230.75,438.88 231.00,438.85 231.25,438.83 231.50,438.84 231.75,438.81 232.00,438.72 232.25,438.66 232.50,438.54 232.75,438.38 233.00,438.19 233.25,437.86 233.50,437.38 233.75,436.70 234.00,435.91 234.25,435.08 234.50,434.26 234.75,433.65 235.00,433.45 235.25,433.74 235.50,434.27 235.75,435.03 236.00,435.92 236.25,436.79 236.50,437.46 236.75,437.94 237.00,438.35 237.25,438.58 237.50,438.74 237.75,438.84 238.00,438.78 238.25,438.76 238.50,438.84 238.75,438.83 239.00,438.90 239.25,438.82 239.50,438.90 239.75,438.90 240.00,438.88 240.25,438.92 240.50,438.91 240.75,438.89 241.00,438.84 241.25,438.90 241.50,438.84 241.75,438.83 242.00,438.79 242.25,438.76 242.50,438.78 242.75,438.76 243.00,438.80 243.25,438.81 243.50,438.77 243.75,438.81 244.00,438.81 244.25,438.80 244.50,438.84 244.75,438.84 245.00,438.80 245.25,438.90 245.50,438.96 245.75,438.90 246.00,438.92 246.25,438.92 246.50,438.87 246.75,438.89 247.00,438.85 247.25,438.84 247.50,438.85 247.75,438.80 248.00,438.80 248.25,438.91 248.50,438.94 248.75,438.90 249.00,438.97 249.25,438.91 249.50,438.96 249.75,438.91 250.00,438.96 250.25,438.93 250.50,438.97 250.75,438.89 251.00,438.87 251.25,438.86 251.50,438.92 251.75,438.96 252.00,438.88 252.25,438.87 252.50,438.84 252.75,438.80 253.00,438.78 253.25,438.77 253.50,438.79 253.75,438.82 254.00,438.91 254.25,438.93 254.50,438.95 254.75,438.91 255.00,438.88 255.25,438.87 255.50,438.84 255.75,438.80 256.00,438.80 256.25,438.90 256.50,438.84 256.75,438.86 257.00,438.84 257.25,438.90 257.50,438.83 257.75,438.86 258.00,438.91 258.25,438.90 258.50,438.85 258.75,438.92 259.00,438.84 259.25,438.93 259.50,438.96 259.75,438.99 260.00,439.00 260.25,438.94 260.50,438.94 260.75,438.92 261.00,438.92 261.25,438.89 261.50,438.95 261.75,438.90 262.00,438.91 262.25,438.84 262.50,438.80 262.75,438.89 263.00,438.87 263.25,438.86 263.50,438.95 263.75,438.96 264.00,438.88 264.25,438.89 264.50,438.89 264.75,438.91 265.00,438.87 265.25,438.84 265.50,438.93 265.75,438.92 266.00,438.91 266.25,438.93 266.50,438.94 266.75,438.86 267.00,438.89 267.25,438.86 267.50,438.77 267.75,438.71 268.00,438.74 268.25,438.69 268.50,438.61 268.75,438.46 269.00,438.34 269.25,438.20 269.50,438.16 269.75,438.13 270.00,438.14 270.25,438.29 270.50,438.37 270.75,438.40 271.00,438.57 271.25,438.60 271.50,438.66 271.75,438.74 272.00,438.75 272.25,438.80 272.50,438.83 272.75,438.86 273.00,438.89 273.25,438.92 273.50,438.84 273.75,438.82 274.00,438.80 274.25,438.81 274.50,438.84 274.75,438.91 275.00,438.83 275.25,438.90 275.50,438.85 275.75,438.90 276.00,438.95 276.25,439.00 276.50,438.97 276.75,438.88 277.00,438.85 277.25,438.86 277.50,438.90 277.75,438.97 278.00,438.99 278.25,438.89 278.50,438.84 278.75,438.89 279.00,438.85 279.25,438.88 279.50,438.89 279.75,438.90 280.00,438.88 280.25,438.94 280.50,438.90 280.75,438.88 281.00,438.84 281.25,438.83 281.50,438.80 281.75,438.86 282.00,438.81 282.25,438.81 282.50,438.89 282.75,438.94 283.00,438.90 283.25,438.93 283.50,438.96 283.75,438.96 284.00,438.95 284.25,438.97 284.50,438.91 284.75,438.88 285.00,438.85 285.25,438.83 285.50,438.86 285.75,438.88 286.00,438.84 286.25,438.81 286.50,438.77 286.75,438.78 287.00,438.78 287.25,438.84 287.50,438.91 287.75,438.91 288.00,438.93 288.25,438.90 288.50,438.84 288.75,438.90 289.00,438.94 289.25,438.87 289.50,438.86 289.75,438.90 290.00,438.93 290.25,438.87 290.50,438.86 290.75,438.86 291.00,438.88 291.25,438.94 291.50,438.87 291.75,438.86 292.00,438.94 292.25,438.88 292.50,438.84 292.75,438.90 293.00,438.92 293.25,438.91 293.50,438.90 293.75,438.84 294.00,438.88 294.25,438.85 294.50,438.86 294.75,438.94 295.00,438.92 295.25,438.90 295.50,438.88 295.75,438.86 296.00,438.89 296.25,438.92 296.50,438.86 296.75,438.80 297.00,438.83 297.25,438.81 297.50,438.86 297.75,438.83 298.00,438.86 298.25,438.87 298.50,438.95 298.75,438.90 299.00,438.87 299.25,438.86 299.50,438.90 299.75,438.86 300.00,438.84 300.25,438.89 300.50,438.90 300.75,438.84 301.00,438.91 301.25,438.85 301.50,438.84 301.75,438.87 302.00,438.88 302.25,438.92 302.50,438.86 302.75,438.90 303.00,438.85 303.25,438.82 303.50,438.88 303.75,438.93 304.00,438.86 304.25,438.81 304.50,438.80 304.75,438.85 305.00,438.80 305.25,438.91 305.50,438.83 305.75,438.90 306.00,438.94 306.25,438.91 306.50,438.95 306.75,438.88 307.00,438.93 307.25,438.93 307.50,438.97 307.75,438.98 308.00,438.99 308.25,439.01 308.50,438.93 308.75,438.85 309.00,438.82 309.25,438.89 309.50,438.90 309.75,438.90 310.00,438.89 310.25,438.83 310.50,438.92 310.75,438.92 311.00,438.92 311.25,438.91 311.50,438.96 311.75,438.93 312.00,438.93 312.25,438.96 312.50,438.88 312.75,438.94 313.00,438.94 313.25,438.90 313.50,438.85 313.75,438.87 314.00,438.85 314.25,438.80 314.50,438.89 314.75,438.93 315.00,438.97 315.25,438.98 315.50,438.94 315.75,438.98 316.00,438.91 316.25,438.87 316.50,438.88 316.75,438.91 317.00,438.85 317.25,438.81 317.50,438.91 317.75,438.83 318.00,438.89 318.25,438.89 318.50,438.96 318.75,438.99 319.00,438.95 319.25,438.94 319.50,438.95 319.75,438.90 320.00,438.83 320.25,438.93 320.50,438.92 320.75,438.96 321.00,438.94 321.25,438.86 321.50,438.82 321.75,438.81 322.00,438.92 322.25,438.95 322.50,438.90 322.75,438.89 323.00,438.96 323.25,438.94 323.50,438.90 323.75,438.90 324.00,438.85 324.25,438.88 324.50,438.83 324.75,438.86 325.00,438.82 325.25,438.79 325.50,438.87 325.75,438.88 326.00,438.84 326.25,438.85 326.50,438.93 326.75,438.89 327.00,438.86 327.25,438.88 327.50,438.94 327.75,438.94 328.00,438.92 328.25,438.93 328.50,438.90 328.75,438.96 329.00,438.90" fill="none" stroke="#1f66e0" stroke-width="1.2" stroke-linejoin="round"/>
<polyline points="24.50,467.43 24.75,467.47 25.00,467.39 25.25,467.47 25.50,467.40 25.75,467.42 26.00,467.35 26.25,467.41 26.50,467.36 26.75,467.40 27.00,467.43 27.25,467.46 27.50,467.43 27.75,467.47 28.00,467.51 28.25,467.41 28.50,467.41 28.75,467.47 29.00,467.48 29.25,467.44 29.50,467.39 29.75,467.46 30.00,467.38 30.25,467.42 30.50,467.46 30.75,467.39 31.00,467.37 31.25,467.35 31.50,467.38 31.75,467.37 32.00,467.44 32.25,467.48 32.50,467.42 32.75,467.47 33.00,467.38 33.25,467.33 33.50,467.38 33.75,467.43 34.00,467.46 34.25,467.51 34.50,467.52 34.75,467.44 35.00,467.46 35.25,467.49 35.50,467.40 35.75,467.40 36.00,467.35 36.25,467.32 36.50,467.35 36.75,467.39 37.00,467.46 37.25,467.38 37.50,467.39 37.75,467.47 38.00,467.48 38.25,467.45 38.50,467.39 38.75,467.41 39.00,467.37 39.25,467.40 39.50,467.42 39.75,467.40 40.00,467.44 40.25,467.41 40.50,467.40 40.75,467.45 41.00,467.39 41.25,467.35 41.50,467.38 41.75,467.38 42.00,467.44 42.25,467.39 42.50,467.37 42.75,467.32 43.00,467.34 43.25,467.34 43.50,467.36 43.75,467.41 44.00,467.34 44.25,467.43 44.50,467.45 44.75,467.47 45.00,467.45 45.25,467.44 45.50,467.41 45.75,467.39 46.00,467.35 46.25,467.34 46.50,467.33 46.75,467.34 47.00,467.42 47.25,467.45 47.50,467.45 47.75,467.36 48.00,467.34 48.25,467.37 48.50,467.41 48.75,467.39 49.00,467.41 49.25,467.46 49.50,467.40 49.75,467.38 50.00,467.43 50.25,467.39 50.50,467.42 50.75,467.40 51.00,467.33 51.25,467.35 51.50,467.30 51.75,467.38 52.00,467.43 52.25,467.42 52.50,467.46 52.75,467.39 53.00,467.38 53.25,467.33 53.50,467.29 53.75,467.37 54.00,467.30 54.25,467.39 54.50,467.38 54.75,467.38 55.00,467.25 55.25,467.17 55.50,466.76 55.75,465.73 56.00,464.39 56.25,463.44 56.50,463.91 56.75,465.15 57.00,466.37 57.25,467.00 57.50,467.28 57.75,467.31 58.00,467.36 58.25,467.36 58.50,467.39 58.75,467.37 59.00,467.45 59.25,467.47 59.50,467.49 59.75,467.42 60.00,467.37 60.25,467.33 60.50,467.30 60.75,467.40 61.00,467.37 61.25,467.43 61.50,467.38 61.75,467.40 62.00,467.36 62.25,467.35 62.50,467.40 62.75,467.41 63.00,467.47 63.25,467.40 63.50,467.36 63.75,467.31 64.00,467.30 64.25,467.41 64.50,467.41 64.75,467.40 65.00,467.37 65.25,467.41 65.50,467.43 65.75,467.36 66.00,467.30 66.25,467.26 66.50,467.30 66.75,467.20 67.00,466.88 67.25,466.48 67.50,466.17 67.75,466.26 68.00,466.63 68.25,466.95 68.50,467.17 68.75,467.26 69.00,467.39 69.25,467.40 69.50,467.46 69.75,467.39 70.00,467.40 70.25,467.40 70.50,467.45 70.75,467.39 71.00,467.31 71.25,467.28 71.50,467.15 71.75,466.84 72.00,466.50 72.25,466.35 72.50,466.56 72.75,466.94 73.00,467.16 73.25,467.29 73.50,467.36 73.75,467.34 74.00,467.30 74.25,467.34 74.50,467.43 74.75,467.47 75.00,467.41 75.25,467.44 75.50,467.47 75.75,467.45 76.00,467.41 76.25,467.36 76.50,467.40 76.75,467.43 77.00,467.37 77.25,467.33 77.50,467.30 77.75,467.38 78.00,467.44 78.25,467.43 78.50,467.43 78.75,467.44 79.00,467.37 79.25,467.38 79.50,467.38 79.75,467.44 80.00,467.37 80.25,467.43 80.50,467.36 80.75,467.39 81.00,467.45 81.25,467.36 81.50,467.37 81.75,467.31 82.00,467.34 82.25,467.36 82.50,467.44 82.75,467.42 83.00,467.46 83.25,467.47 83.50,467.48 83.75,467.42 84.00,467.35 84.25,467.38 84.50,467.33 84.75,467.37 85.00,467.33 85.25,467.36 85.50,467.41 85.75,467.46 86.00,467.39 86.25,467.33 86.50,467.34 86.75,467.42 87.00,467.36 87.25,467.36 87.50,467.34 87.75,467.28 88.00,467.31 88.25,467.29 88.50,467.30 88.75,467.34 89.00,467.34 89.25,467.27 89.50,467.26 89.75,467.18 90.00,467.00 90.25,466.35 90.50,465.14 90.75,463.16 91.00,460.59 91.25,458.44 91.50,458.20 91.75,460.10 92.00,462.72 92.25,464.94 92.50,466.30 92.75,466.99 93.00,467.22 93.25,467.24 93.50,467.26 93.75,467.34 94.00,467.38 94.25,467.39 94.50,467.32 94.75,467.29 95.00,467.34 95.25,467.34 95.50,467.30 95.75,467.40 96.00,467.35 96.25,467.42 96.50,467.42 96.75,467.47 97.00,467.47 97.25,467.39 97.50,467.34 97.75,467.41 98.00,467.38 98.25,467.38 98.50,467.41 98.75,467.41 99.00,467.43 99.25,467.41 99.50,467.36 99.75,467.39 100.00,467.32 100.25,467.37 100.50,467.40 100.75,467.33 101.00,467.26 101.25,467.35 101.50,467.29 101.75,467.30 102.00,467.25 102.25,467.18 102.50,467.10 102.75,466.87 103.00,466.49 103.25,465.59 103.50,464.08 103.75,462.05 104.00,460.31 104.25,459.75 104.50,460.95 104.75,462.94 105.00,464.81 105.25,466.12 105.50,466.83 105.75,467.14 106.00,467.20 106.25,467.20 106.50,467.27 106.75,467.37 107.00,467.43 107.25,467.39 107.50,467.38 107.75,467.43 108.00,467.37 108.25,467.40 108.50,467.41 108.75,467.38 109.00,467.36 109.25,467.32 109.50,467.29 109.75,467.30 110.00,467.40 110.25,467.44 110.50,467.34 110.75,467.39 111.00,467.34 111.25,467.37 111.50,467.43 111.75,467.47 112.00,467.49 112.25,467.52 112.50,467.48 112.75,467.37 113.00,467.34 113.25,467.38 113.50,467.39 113.75,467.45 114.00,467.37 114.25,467.43 114.50,467.42 114.75,467.41 115.00,467.34 115.25,467.33 115.50,467.35 115.75,467.39 116.00,467.40 116.25,467.38 116.50,467.35 116.75,467.22 117.00,467.04 117.25,466.90 117.50,466.66 117.75,466.45 118.00,466.48 118.25,466.65 118.50,466.88 118.75,467.13 119.00,467.23 119.25,467.36 119.50,467.38 119.75,467.36 120.00,467.34 120.25,467.27 120.50,467.35 120.75,467.41 121.00,467.35 121.25,467.40 121.50,467.30 121.75,467.29 122.00,467.35 122.25,467.33 122.50,467.24 122.75,467.24 123.00,467.14 123.25,467.16 123.50,467.11 123.75,467.01 124.00,466.76 124.25,466.08 124.50,464.86 124.75,462.50 125.00,458.85 125.25,454.11 125.50,449.54 125.75,447.09 126.00,448.27 126.25,452.23 126.50,456.96 126.75,461.11 127.00,463.98 127.25,465.67 127.50,466.58 127.75,466.96 128.00,467.05 128.25,467.19 128.50,467.27 128.75,467.25 129.00,467.19 129.25,467.25 129.50,467.24 129.75,467.21 130.00,467.31 130.25,467.29 130.50,467.24 130.75,467.21 131.00,467.25 131.25,467.11 131.50,466.91 131.75,466.59 132.00,466.20 132.25,465.89 132.50,465.74 132.75,465.91 133.00,466.24 133.25,466.63 133.50,466.98 133.75,467.21 134.00,467.25 134.25,467.32 134.50,467.29 134.75,467.30 135.00,467.31 135.25,467.32 135.50,467.39 135.75,467.37 136.00,467.33 136.25,467.36 136.50,467.33 136.75,467.41 137.00,467.34 137.25,467.31 137.50,467.28 137.75,467.29 138.00,467.37 138.25,467.31 138.50,467.36 138.75,467.43 139.00,467.37 139.25,467.41 139.50,467.44 139.75,467.48 140.00,467.50 140.25,467.47 140.50,467.43 140.75,467.39 141.00,467.34 141.25,467.29 141.50,467.35 141.75,467.34 142.00,467.31 142.25,467.34 142.50,467.31 142.75,467.36 143.00,467.44 143.25,467.40 143.50,467.33 143.75,467.31 144.00,467.31 144.25,467.40 144.50,467.46 144.75,467.45 145.00,467.41 145.25,467.34 145.50,467.41 145.75,467.34 146.00,467.32 146.25,467.38 146.50,467.41 146.75,467.36 147.00,467.44 147.25,467.44 147.50,467.45 147.75,467.39 148.00,467.43 148.25,467.35 148.50,467.38 148.75,467.31 149.00,467.38 149.25,467.40 149.50,467.40 149.75,467.38 150.00,467.42 150.25,467.34 150.50,467.31 150.75,467.27 151.00,467.33 151.25,467.29 151.50,467.26 151.75,467.36 152.00,467.34 152.25,467.33 152.50,467.40 152.75,467.37 153.00,467.41 153.25,467.46 153.50,467.36 153.75,467.32 154.00,467.25 154.25,467.24 154.50,467.26 154.75,467.28 155.00,467.18 155.25,466.94 155.50,466.45 155.75,465.91 156.00,465.12 156.25,464.35 156.50,463.67 156.75,463.57 157.00,463.91 157.25,464.59 157.50,465.45 157.75,466.17 158.00,466.66 158.25,466.98 158.50,467.21 158.75,467.27 159.00,467.32 159.25,467.34 159.50,467.34 159.75,467.33 160.00,467.31 160.25,467.38 160.50,467.40 160.75,467.35 161.00,467.31 161.25,467.32 161.50,467.36 161.75,467.37 162.00,467.40 162.25,467.42 162.50,467.38 162.75,467.32 163.00,467.37 163.25,467.38 163.50,467.36 163.75,467.43 164.00,467.36 164.25,467.32 164.50,467.37 164.75,467.36 165.00,467.40 165.25,467.34 165.50,467.36 165.75,467.39 166.00,467.38 166.25,467.33 166.50,467.30 166.75,467.31 167.00,467.31 167.25,467.40 167.50,467.34 167.75,467.40 168.00,467.46 168.25,467.44 168.50,467.37 168.75,467.40 169.00,467.46 169.25,467.42 169.50,467.44 169.75,467.38 170.00,467.35 170.25,467.35 170.50,467.38 170.75,467.45 171.00,467.38 171.25,467.32 171.50,467.32 171.75,467.37 172.00,467.41 172.25,467.41 172.50,467.44 172.75,467.42 173.00,467.36 173.25,467.44 173.50,467.40 173.75,467.33 174.00,467.31 174.25,467.31 174.50,467.38 174.75,467.36 175.00,467.32 175.25,467.38 175.50,467.41 175.75,467.43 176.00,467.38 176.25,467.45 176.50,467.45 176.75,467.42 177.00,467.47 177.25,467.40 177.50,467.37 177.75,467.39 178.00,467.41 178.25,467.41 178.50,467.35 178.75,467.40 179.00,467.47 179.25,467.42 179.50,467.46 179.75,467.38 180.00,467.33 180.25,467.37 180.50,467.44 180.75,467.43 181.00,467.38 181.25,467.34 181.50,467.42 181.75,467.44 182.00,467.49 182.25,467.42 182.50,467.45 182.75,467.38 183.00,467.33 183.25,467.34 183.50,467.34 183.75,467.40 184.00,467.39 184.25,467.37 184.50,467.43 184.75,467.47 185.00,467.43 185.25,467.46 185.50,467.37 185.75,467.36 186.00,467.43 186.25,467.41 186.50,467.35 186.75,467.33 187.00,467.41 187.25,467.39 187.50,467.46 187.75,467.50 188.00,467.47 188.25,467.49 188.50,467.43 188.75,467.46 189.00,467.37 189.25,467.38 189.50,467.32 189.75,467.31 190.00,467.41 190.25,467.42 190.50,467.35 190.75,467.41 191.00,467.46 191.25,467.50 191.50,467.45 191.75,467.37 192.00,467.42 192.25,467.42 192.50,467.34 192.75,467.36 193.00,467.39 193.25,467.43 193.50,467.43 193.75,467.39 194.00,467.33 194.25,467.28 194.50,467.27 194.75,467.30 195.00,467.32 195.25,467.40 195.50,467.39 195.75,467.42 196.00,467.40 196.25,467.38 196.50,467.34 196.75,467.27 197.00,467.11 197.25,466.89 197.50,466.70 197.75,466.40 198.00,466.17 198.25,466.03 198.50,466.05 198.75,466.19 199.00,466.41 199.25,466.66 199.50,466.93 199.75,467.17 200.00,467.27 200.25,467.35 200.50,467.38 200.75,467.33 201.00,467.38 201.25,467.40 201.50,467.38 201.75,467.43 202.00,467.48 202.25,467.39 202.50,467.32 202.75,467.33 203.00,467.36 203.25,467.37 203.50,467.35 203.75,467.33 204.00,467.34 204.25,467.30 204.50,467.33 204.75,467.41 205.00,467.45 205.25,467.46 205.50,467.39 205.75,467.37 206.00,467.32 206.25,467.30 206.50,467.26 206.75,467.24 207.00,467.33 207.25,467.31 207.50,467.36 207.75,467.36 208.00,467.33 208.25,467.36 208.50,467.36 208.75,467.31 209.00,467.29 209.25,467.30 209.50,467.27 209.75,467.27 210.00,467.23 210.25,467.24 210.50,467.05 210.75,466.90 211.00,466.51 211.25,465.99 211.50,465.45 211.75,464.76 212.00,463.97 212.25,463.37 212.50,462.94 212.75,462.96 213.00,463.47 213.25,464.18 213.50,464.98 213.75,465.63 214.00,466.24 214.25,466.72 214.50,467.01 214.75,467.14 215.00,467.30 215.25,467.37 215.50,467.30 215.75,467.32 216.00,467.40 216.25,467.43 216.50,467.43 216.75,467.34 217.00,467.40 217.25,467.36 217.50,467.32 217.75,467.38 218.00,467.37 218.25,467.45 218.50,467.47 218.75,467.37 219.00,467.31 219.25,467.29 219.50,467.27 219.75,467.28 220.00,467.30 220.25,467.27 220.50,467.35 220.75,467.41 221.00,467.38 221.25,467.38 221.50,467.40 221.75,467.46 222.00,467.47 222.25,467.39 222.50,467.40 222.75,467.37 223.00,467.43 223.25,467.47 223.50,467.43 223.75,467.48 224.00,467.48 224.25,467.49 224.50,467.43 224.75,467.46 225.00,467.38 225.25,467.43 225.50,467.40 225.75,467.45 226.00,467.42 226.25,467.37 226.50,467.34 226.75,467.34 227.00,467.41 227.25,467.39 227.50,467.36 227.75,467.44 228.00,467.45 228.25,467.36 228.50,467.37 228.75,467.43 229.00,467.39 229.25,467.31 229.50,467.34 229.75,467.38 230.00,467.41 230.25,467.41 230.50,467.37 230.75,467.35 231.00,467.29 231.25,467.37 231.50,467.41 231.75,467.31 232.00,467.23 232.25,467.14 232.50,467.08 232.75,467.02 233.00,466.79 233.25,466.42 233.50,465.95 233.75,465.35 234.00,464.60 234.25,463.78 234.50,462.99 234.75,462.40 235.00,462.21 235.25,462.40 235.50,463.06 235.75,463.83 236.00,464.68 236.25,465.43 236.50,466.11 236.75,466.47 237.00,466.78 237.25,467.02 237.50,467.22 237.75,467.27 238.00,467.26 238.25,467.31 238.50,467.40 238.75,467.31 239.00,467.27 239.25,467.32 239.50,467.29 239.75,467.38 240.00,467.31 240.25,467.37 240.50,467.34 240.75,467.37 241.00,467.40 241.25,467.39 241.50,467.36 241.75,467.44 242.00,467.41 242.25,467.36 242.50,467.30 242.75,467.35 243.00,467.32 243.25,467.35 243.50,467.33 243.75,467.30 244.00,467.33 244.25,467.38 244.50,467.37 244.75,467.44 245.00,467.48 245.25,467.47 245.50,467.46 245.75,467.49 246.00,467.44 246.25,467.48 246.50,467.41 246.75,467.47 247.00,467.49 247.25,467.39 247.50,467.32 247.75,467.37 248.00,467.36 248.25,467.37 248.50,467.31 248.75,467.34 249.00,467.38 249.25,467.42 249.50,467.42 249.75,467.44 250.00,467.41 250.25,467.47 250.50,467.40 250.75,467.40 251.00,467.38 251.25,467.44 251.50,467.40 251.75,467.34 252.00,467.40 252.25,467.42 252.50,467.38 252.75,467.45 253.00,467.36 253.25,467.34 253.50,467.42 253.75,467.46 254.00,467.44 254.25,467.39 254.50,467.33 254.75,467.39 255.00,467.34 255.25,467.43 255.50,467.37 255.75,467.34 256.00,467.30 256.25,467.32 256.50,467.35 256.75,467.41 257.00,467.36 257.25,467.31 257.50,467.32 257.75,467.41 258.00,467.38 258.25,467.36 258.50,467.44 258.75,467.47 259.00,467.43 259.25,467.45 259.50,467.41 259.75,467.42 260.00,467.44 260.25,467.39 260.50,467.33 260.75,467.39 261.00,467.42 261.25,467.46 261.50,467.38 261.75,467.39 262.00,467.39 262.25,467.35 262.50,467.36 262.75,467.39 263.00,467.45 263.25,467.37 263.50,467.33 263.75,467.42 264.00,467.41 264.25,467.39 264.50,467.44 264.75,467.49 265.00,467.43 265.25,467.48 265.50,467.45 265.75,467.41 266.00,467.43 266.25,467.41 266.50,467.42 266.75,467.33 267.00,467.37 267.25,467.30 267.50,467.24 267.75,467.22 268.00,467.15 268.25,467.05 268.50,466.88 268.75,466.72 269.00,466.62 269.25,466.49 269.50,466.35 269.75,466.33 270.00,466.41 270.25,466.54 270.50,466.75 270.75,466.88 271.00,467.05 271.25,467.19 271.50,467.19 271.75,467.19 272.00,467.32 272.25,467.34 272.50,467.38 272.75,467.45 273.00,467.36 273.25,467.36 273.50,467.41 273.75,467.38 274.00,467.42 274.25,467.37 274.50,467.43 274.75,467.44 275.00,467.36 275.25,467.39 275.50,467.36 275.75,467.33 276.00,467.42 276.25,467.36 276.50,467.38 276.75,467.37 277.00,467.39 277.25,467.39 277.50,467.38 277.75,467.41 278.00,467.36 278.25,467.39 278.50,467.40 278.75,467.37 279.00,467.32 279.25,467.39 279.50,467.41 279.75,467.46 280.00,467.49 280.25,467.40 280.50,467.47 280.75,467.42 281.00,467.41 281.25,467.38 281.50,467.40 281.75,467.43 282.00,467.38 282.25,467.35 282.50,467.39 282.75,467.39 283.00,467.41 283.25,467.35 283.50,467.43 283.75,467.47 284.00,467.39 284.25,467.36 284.50,467.31 284.75,467.28 285.00,467.26 285.25,467.27 285.50,467.34 285.75,467.42 286.00,467.42 286.25,467.36 286.50,467.42 286.75,467.36 287.00,467.39 287.25,467.38 287.50,467.38 287.75,467.34 288.00,467.31 288.25,467.37 288.50,467.40 288.75,467.40 289.00,467.37 289.25,467.42 289.50,467.40 289.75,467.45 290.00,467.45 290.25,467.36 290.50,467.33 290.75,467.33 291.00,467.29 291.25,467.36 291.50,467.43 291.75,467.46 292.00,467.45 292.25,467.44 292.50,467.48 292.75,467.43 293.00,467.48 293.25,467.39 293.50,467.33 293.75,467.39 294.00,467.44 294.25,467.37 294.50,467.36 294.75,467.43 295.00,467.48 295.25,467.51 295.50,467.47 295.75,467.45 296.00,467.49 296.25,467.52 296.50,467.43 296.75,467.47 297.00,467.50 297.25,467.47 297.50,467.41 297.75,467.39 298.00,467.43 298.25,467.46 298.50,467.43 298.75,467.35 299.00,467.32 299.25,467.31 299.50,467.32 299.75,467.33 300.00,467.35 300.25,467.36 300.50,467.35 300.75,467.37 301.00,467.31 301.25,467.32 301.50,467.39 301.75,467.44 302.00,467.36 302.25,467.38 302.50,467.41 302.75,467.35 303.00,467.36 303.25,467.39 303.50,467.35 303.75,467.34 304.00,467.29 304.25,467.33 304.50,467.37 304.75,467.34 305.00,467.37 305.25,467.37 305.50,467.32 305.75,467.37 306.00,467.44 306.25,467.44 306.50,467.49 306.75,467.47 307.00,467.39 307.25,467.46 307.50,467.40 307.75,467.36 308.00,467.33 308.25,467.37 308.50,467.37 308.75,467.35 309.00,467.31 309.25,467.29 309.50,467.31 309.75,467.30 310.00,467.27 310.25,467.31 310.50,467.36 310.75,467.39 311.00,467.45 311.25,467.38 311.50,467.42 311.75,467.40 312.00,467.38 312.25,467.33 312.50,467.30 312.75,467.28 313.00,467.28 313.25,467.38 313.50,467.41 313.75,467.35 314.00,467.39 314.25,467.43 314.50,467.43 314.75,467.39 315.00,467.45 315.25,467.44 315.50,467.41 315.75,467.47 316.00,467.48 316.25,467.48 316.50,467.45 316.75,467.50 317.00,467.44 317.25,467.39 317.50,467.33 317.75,467.40 318.00,467.45 318.25,467.41 318.50,467.47 318.75,467.43 319.00,467.35 319.25,467.43 319.50,467.35 319.75,467.44 320.00,467.43 320.25,467.43 320.50,467.41 320.75,467.41 321.00,467.48 321.25,467.48 321.50,467.48 321.75,467.41 322.00,467.37 322.25,467.44 322.50,467.42 322.75,467.35 323.00,467.36 323.25,467.44 323.50,467.36 323.75,467.43 324.00,467.38 324.25,467.38 324.50,467.40 324.75,467.40 325.00,467.40 325.25,467.41 325.50,467.36 325.75,467.33 326.00,467.42 326.25,467.35 326.50,467.43 326.75,467.38 327.00,467.36 327.25,467.40 327.50,467.41 327.75,467.46 328.00,467.41 328.25,467.43 328.50,467.35 328.75,467.37 329.00,467.37" fill="none" stroke="#ee2b2b" stroke-width="1.2" stroke-linejoin="round"/>
<polyline points="24.50,501.87 24.75,501.97 25.00,502.01 25.25,501.91 25.50,501.98 25.75,501.97 26.00,501.85 26.25,501.96 26.50,501.89 26.75,501.85 27.00,501.86 27.25,501.89 27.50,501.82 27.75,501.89 28.00,501.96 28.25,501.94 28.50,501.98 28.75,501.97 29.00,502.01 29.25,501.90 29.50,501.87 29.75,501.88 30.00,501.81 30.25,501.94 30.50,501.95 30.75,501.85 31.00,501.89 31.25,501.87 31.50,501.82 31.75,501.79 32.00,501.82 32.25,501.77 32.50,501.83 32.75,501.86 33.00,501.80 33.25,501.92 33.50,501.82 33.75,501.78 34.00,501.89 34.25,501.84 34.50,501.85 34.75,501.88 35.00,501.88 35.25,501.88 35.50,501.89 35.75,501.89 36.00,501.81 36.25,501.91 36.50,501.86 36.75,501.79 37.00,501.81 37.25,501.91 37.50,501.93 37.75,501.91 38.00,501.90 38.25,501.84 38.50,501.89 38.75,501.86 39.00,501.79 39.25,501.76 39.50,501.73 39.75,501.84 40.00,501.94 40.25,501.97 40.50,501.89 40.75,501.82 41.00,501.94 41.25,501.90 41.50,501.83 41.75,501.87 42.00,501.91 42.25,501.91 42.50,501.90 42.75,501.86 43.00,501.87 43.25,501.87 43.50,501.92 43.75,501.90 44.00,501.87 44.25,501.98 44.50,501.87 44.75,501.93 45.00,501.90 45.25,501.96 45.50,501.98 45.75,501.96 46.00,501.96 46.25,501.88 46.50,501.79 46.75,501.88 47.00,501.84 47.25,501.79 47.50,501.89 47.75,501.91 48.00,501.81 48.25,501.85 48.50,501.80 48.75,501.91 49.00,501.86 49.25,501.96 49.50,501.96 49.75,501.85 50.00,501.85 50.25,501.96 50.50,501.97 50.75,501.87 51.00,501.86 51.25,501.83 51.50,501.77 51.75,501.84 52.00,501.90 52.25,501.84 52.50,501.87 52.75,501.95 53.00,502.00 53.25,501.89 53.50,501.80 53.75,501.91 54.00,501.86 54.25,501.80 54.50,501.88 54.75,501.82 55.00,501.85 55.25,501.81 55.50,501.50 55.75,500.81 56.00,499.51 56.25,498.25 56.50,498.02 56.75,499.20 57.00,500.65 57.25,501.40 57.50,501.71 57.75,501.81 58.00,501.74 58.25,501.76 58.50,501.85 58.75,501.96 59.00,501.90 59.25,501.89 59.50,501.80 59.75,501.83 60.00,501.83 60.25,501.85 60.50,501.83 60.75,501.82 61.00,501.93 61.25,501.97 61.50,501.91 61.75,501.82 62.00,501.76 62.25,501.73 62.50,501.72 62.75,501.81 63.00,501.85 63.25,501.79 63.50,501.91 63.75,501.94 64.00,501.96 64.25,502.01 64.50,501.93 64.75,501.99 65.00,502.05 65.25,502.06 65.50,501.90 65.75,501.96 66.00,502.03 66.25,501.88 66.50,501.94 66.75,501.92 67.00,501.62 67.25,501.32 67.50,500.84 67.75,500.50 68.00,500.55 68.25,501.17 68.50,501.49 68.75,501.65 69.00,501.87 69.25,501.88 69.50,501.82 69.75,501.82 70.00,501.87 70.25,501.83 70.50,501.93 70.75,501.95 71.00,501.89 71.25,501.83 71.50,501.69 71.75,501.64 72.00,501.27 72.25,501.05 72.50,500.98 72.75,501.25 73.00,501.50 73.25,501.73 73.50,501.75 73.75,501.81 74.00,501.86 74.25,501.96 74.50,501.88 74.75,501.82 75.00,501.91 75.25,501.83 75.50,501.79 75.75,501.83 76.00,501.84 76.25,501.96 76.50,501.85 76.75,501.94 77.00,501.91 77.25,501.83 77.50,501.81 77.75,501.92 78.00,501.85 78.25,501.85 78.50,501.78 78.75,501.82 79.00,501.89 79.25,501.94 79.50,501.89 79.75,501.88 80.00,501.95 80.25,502.00 80.50,501.95 80.75,501.84 81.00,501.95 81.25,501.89 81.50,501.89 81.75,501.80 82.00,501.74 82.25,501.72 82.50,501.80 82.75,501.79 83.00,501.89 83.25,501.82 83.50,501.88 83.75,501.79 84.00,501.80 84.25,501.92 84.50,501.86 84.75,501.83 85.00,501.76 85.25,501.88 85.50,501.88 85.75,501.83 86.00,501.86 86.25,501.82 86.50,501.92 86.75,501.89 87.00,501.79 87.25,501.77 87.50,501.72 87.75,501.83 88.00,501.76 88.25,501.79 88.50,501.83 88.75,501.75 89.00,501.80 89.25,501.82 89.50,501.88 89.75,501.90 90.00,501.89 90.25,501.68 90.50,501.17 90.75,499.83 91.00,497.02 91.25,493.11 91.50,489.96 91.75,490.36 92.00,494.05 92.25,497.76 92.50,500.15 92.75,501.22 93.00,501.68 93.25,501.74 93.50,501.83 93.75,501.76 94.00,501.85 94.25,501.84 94.50,501.95 94.75,501.81 95.00,501.79 95.25,501.90 95.50,501.87 95.75,501.83 96.00,501.92 96.25,501.89 96.50,501.96 96.75,501.93 97.00,501.82 97.25,501.77 97.50,501.88 97.75,501.96 98.00,501.86 98.25,501.97 98.50,502.00 98.75,501.96 99.00,501.98 99.25,501.94 99.50,501.82 99.75,501.80 100.00,501.80 100.25,501.90 100.50,501.84 100.75,501.89 101.00,501.90 101.25,501.80 101.50,501.81 101.75,501.83 102.00,501.87 102.25,501.81 102.50,501.88 102.75,501.85 103.00,501.57 103.25,501.21 103.50,500.09 103.75,498.07 104.00,495.32 104.25,493.62 104.50,494.46 104.75,496.93 105.00,499.30 105.25,500.82 105.50,501.57 105.75,501.80 106.00,501.86 106.25,501.90 106.50,501.95 106.75,501.93 107.00,501.94 107.25,501.82 107.50,501.91 107.75,501.99 108.00,501.96 108.25,501.94 108.50,502.00 108.75,501.97 109.00,502.01 109.25,501.97 109.50,501.95 109.75,502.01 110.00,502.04 110.25,502.00 110.50,501.96 110.75,501.94 111.00,501.91 111.25,501.88 111.50,501.83 111.75,501.81 112.00,501.78 112.25,501.91 112.50,501.88 112.75,501.96 113.00,501.93 113.25,502.01 113.50,501.98 113.75,501.91 114.00,501.89 114.25,501.84 114.50,501.82 114.75,501.81 115.00,501.79 115.25,501.81 115.50,501.74 115.75,501.89 116.00,501.95 116.25,501.89 116.50,501.96 116.75,501.84 117.00,501.88 117.25,501.90 117.50,501.97 117.75,502.03 118.00,501.99 118.25,502.01 118.50,502.00 118.75,501.87 119.00,501.79 119.25,501.74 119.50,501.84 119.75,501.85 120.00,501.82 120.25,501.84 120.50,501.93 120.75,501.90 121.00,501.94 121.25,501.87 121.50,501.89 121.75,501.92 122.00,501.81 122.25,501.89 122.50,501.79 122.75,501.71 123.00,501.82 123.25,501.72 123.50,501.68 123.75,501.74 124.00,501.59 124.25,501.49 124.50,501.17 124.75,500.03 125.00,497.41 125.25,492.61 125.50,485.78 125.75,479.68 126.00,478.97 126.25,484.32 126.50,491.42 126.75,496.70 127.00,499.66 127.25,500.90 127.50,501.40 127.75,501.66 128.00,501.65 128.25,501.62 128.50,501.64 128.75,501.77 129.00,501.81 129.25,501.74 129.50,501.82 129.75,501.80 130.00,501.73 130.25,501.73 130.50,501.84 130.75,501.93 131.00,501.85 131.25,501.85 131.50,501.79 131.75,501.40 132.00,500.95 132.25,500.51 132.50,500.30 132.75,500.57 133.00,501.10 133.25,501.41 133.50,501.62 133.75,501.77 134.00,501.87 134.25,501.81 134.50,501.85 134.75,501.88 135.00,501.94 135.25,501.88 135.50,501.85 135.75,501.88 136.00,501.86 136.25,501.86 136.50,501.92 136.75,502.00 137.00,502.06 137.25,501.92 137.50,501.92 137.75,501.91 138.00,501.92 138.25,501.84 138.50,501.83 138.75,501.83 139.00,501.79 139.25,501.83 139.50,501.94 139.75,501.95 140.00,501.86 140.25,501.82 140.50,501.82 140.75,501.92 141.00,501.81 141.25,501.76 141.50,501.88 141.75,501.86 142.00,501.81 142.25,501.85 142.50,501.78 142.75,501.87 143.00,501.95 143.25,501.84 143.50,501.87 143.75,501.96 144.00,501.90 144.25,501.86 144.50,501.95 144.75,501.83 145.00,501.76 145.25,501.83 145.50,501.92 145.75,501.93 146.00,501.95 146.25,501.91 146.50,502.00 146.75,501.92 147.00,501.92 147.25,501.85 147.50,501.83 147.75,501.88 148.00,501.80 148.25,501.89 148.50,501.84 148.75,501.92 149.00,501.83 149.25,501.88 149.50,501.89 149.75,501.84 150.00,501.92 150.25,501.94 150.50,501.90 150.75,501.91 151.00,501.89 151.25,501.94 151.50,501.83 151.75,501.76 152.00,501.83 152.25,501.76 152.50,501.89 152.75,501.96 153.00,501.88 153.25,501.81 153.50,501.91 153.75,501.81 154.00,501.83 154.25,501.76 154.50,501.89 154.75,501.85 155.00,501.86 155.25,501.75 155.50,501.68 155.75,501.34 156.00,500.48 156.25,499.30 156.50,498.07 156.75,497.32 157.00,497.62 157.25,498.84 157.50,499.99 157.75,500.94 158.00,501.51 158.25,501.68 158.50,501.74 158.75,501.87 159.00,501.92 159.25,501.96 159.50,501.84 159.75,501.81 160.00,501.81 160.25,501.84 160.50,501.91 160.75,501.98 161.00,501.96 161.25,501.84 161.50,501.77 161.75,501.80 162.00,501.92 162.25,501.83 162.50,501.95 162.75,501.83 163.00,501.76 163.25,501.81 163.50,501.76 163.75,501.78 164.00,501.92 164.25,502.01 164.50,502.02 164.75,502.01 165.00,501.93 165.25,501.90 165.50,501.90 165.75,501.87 166.00,501.91 166.25,501.84 166.50,501.87 166.75,501.86 167.00,501.80 167.25,501.77 167.50,501.81 167.75,501.82 168.00,501.83 168.25,501.94 168.50,501.88 168.75,501.86 169.00,501.85 169.25,501.96 169.50,502.03 169.75,502.03 170.00,501.88 170.25,501.89 170.50,501.98 170.75,501.90 171.00,501.95 171.25,501.97 171.50,501.95 171.75,502.02 172.00,501.92 172.25,502.01 172.50,501.92 172.75,501.98 173.00,501.99 173.25,501.97 173.50,501.93 173.75,501.85 174.00,501.84 174.25,501.94 174.50,501.93 174.75,501.84 175.00,501.88 175.25,501.89 175.50,501.97 175.75,502.02 176.00,502.05 176.25,501.92 176.50,501.91 176.75,501.91 177.00,501.89 177.25,501.97 177.50,502.03 177.75,501.90 178.00,501.96 178.25,501.92 178.50,501.89 178.75,501.80 179.00,501.84 179.25,501.89 179.50,501.93 179.75,501.85 180.00,501.82 180.25,501.86 180.50,501.83 180.75,501.93 181.00,501.91 181.25,501.81 181.50,501.85 181.75,501.80 182.00,501.89 182.25,501.87 182.50,501.97 182.75,501.87 183.00,501.92 183.25,501.95 183.50,501.90 183.75,501.97 184.00,502.00 184.25,502.05 184.50,502.01 184.75,501.90 185.00,501.97 185.25,501.87 185.50,501.92 185.75,501.87 186.00,501.85 186.25,501.83 186.50,501.87 186.75,501.92 187.00,501.91 187.25,501.67 187.50,501.59 187.75,501.41 188.00,501.17 188.25,501.19 188.50,501.23 188.75,501.50 189.00,501.75 189.25,501.87 189.50,501.87 189.75,501.86 190.00,501.84 190.25,501.85 190.50,501.79 190.75,501.91 191.00,501.87 191.25,501.82 191.50,501.79 191.75,501.85 192.00,501.78 192.25,501.88 192.50,501.96 192.75,501.89 193.00,501.83 193.25,501.95 193.50,501.91 193.75,502.00 194.00,501.99 194.25,501.98 194.50,501.96 194.75,501.85 195.00,501.79 195.25,501.88 195.50,501.85 195.75,501.82 196.00,501.93 196.25,501.85 196.50,501.85 196.75,501.82 197.00,501.82 197.25,501.58 197.50,501.30 197.75,500.93 198.00,500.51 198.25,500.33 198.50,500.51 198.75,500.89 199.00,501.21 199.25,501.55 199.50,501.73 199.75,501.79 200.00,501.89 200.25,501.91 200.50,501.83 200.75,501.82 201.00,501.88 201.25,501.84 201.50,501.88 201.75,501.82 202.00,501.80 202.25,501.78 202.50,501.89 202.75,501.88 203.00,501.81 203.25,501.86 203.50,501.81 203.75,501.75 204.00,501.90 204.25,501.81 204.50,501.93 204.75,501.90 205.00,501.82 205.25,501.92 205.50,501.94 205.75,501.94 206.00,501.85 206.25,501.95 206.50,502.00 206.75,501.96 207.00,501.91 207.25,502.00 207.50,502.04 207.75,501.94 208.00,501.90 208.25,501.90 208.50,501.93 208.75,502.00 209.00,502.00 209.25,501.89 209.50,501.80 209.75,501.73 210.00,501.69 210.25,501.66 210.50,501.69 210.75,501.71 211.00,501.64 211.25,501.45 211.50,501.03 211.75,500.10 212.00,499.04 212.25,497.74 212.50,496.99 212.75,497.16 213.00,498.01 213.25,499.29 213.50,500.30 213.75,501.07 214.00,501.44 214.25,501.70 214.50,501.76 214.75,501.90 215.00,501.89 215.25,501.95 215.50,501.88 215.75,501.95 216.00,501.84 216.25,501.91 216.50,501.97 216.75,501.85 217.00,501.87 217.25,501.81 217.50,501.78 217.75,501.89 218.00,501.81 218.25,501.90 218.50,501.89 218.75,501.82 219.00,501.80 219.25,501.86 219.50,501.81 219.75,501.88 220.00,501.98 220.25,502.04 220.50,501.90 220.75,501.81 221.00,501.82 221.25,501.91 221.50,501.99 221.75,501.95 222.00,501.90 222.25,501.85 222.50,501.93 222.75,501.94 223.00,501.90 223.25,501.91 223.50,501.90 223.75,501.96 224.00,502.01 224.25,502.05 224.50,502.05 224.75,502.00 225.00,502.02 225.25,501.91 225.50,501.97 225.75,501.87 226.00,501.95 226.25,501.98 226.50,501.88 226.75,501.94 227.00,501.90 227.25,501.90 227.50,501.83 227.75,501.84 228.00,501.85 228.25,501.87 228.50,501.86 228.75,501.77 229.00,501.87 229.25,501.96 229.50,501.91 229.75,501.93 230.00,501.96 230.25,501.87 230.50,501.89 230.75,501.91 231.00,501.96 231.25,501.97 231.50,501.94 231.75,501.85 232.00,501.76 232.25,501.71 232.50,501.83 232.75,501.91 233.00,501.81 233.25,501.84 233.50,501.69 233.75,501.54 234.00,501.15 234.25,500.54 234.50,499.49 234.75,498.33 235.00,497.10 235.25,496.37 235.50,496.78 235.75,497.79 236.00,499.06 236.25,500.22 236.50,500.94 236.75,501.51 237.00,501.68 237.25,501.70 237.50,501.71 237.75,501.73 238.00,501.88 238.25,501.80 238.50,501.79 238.75,501.73 239.00,501.88 239.25,501.92 239.50,501.81 239.75,501.89 240.00,501.85 240.25,501.86 240.50,501.79 240.75,501.74 241.00,501.85 241.25,501.90 241.50,501.92 241.75,501.94 242.00,501.96 242.25,501.86 242.50,501.87 242.75,501.87 243.00,501.86 243.25,501.93 243.50,501.88 243.75,501.91 244.00,501.80 244.25,501.75 244.50,501.81 244.75,501.90 245.00,501.97 245.25,502.03 245.50,501.95 245.75,501.99 246.00,502.03 246.25,502.03 246.50,501.95 246.75,501.93 247.00,501.95 247.25,501.88 247.50,501.83 247.75,501.77 248.00,501.89 248.25,501.86 248.50,501.80 248.75,501.83 249.00,501.83 249.25,501.77 249.50,501.87 249.75,501.89 250.00,501.92 250.25,502.00 250.50,502.00 250.75,501.91 251.00,501.96 251.25,502.03 251.50,502.01 251.75,501.96 252.00,501.92 252.25,501.83 252.50,501.91 252.75,501.95 253.00,501.87 253.25,501.83 253.50,501.84 253.75,501.91 254.00,501.85 254.25,501.93 254.50,502.00 254.75,501.89 255.00,501.84 255.25,501.78 255.50,501.82 255.75,501.90 256.00,501.82 256.25,501.82 256.50,501.82 256.75,501.83 257.00,501.84 257.25,501.77 257.50,501.89 257.75,501.95 258.00,501.84 258.25,501.78 258.50,501.76 258.75,501.87 259.00,501.79 259.25,501.89 259.50,501.86 259.75,501.95 260.00,501.90 260.25,501.95 260.50,501.84 260.75,501.84 261.00,501.80 261.25,501.84 261.50,501.95 261.75,501.99 262.00,501.93 262.25,501.86 262.50,501.79 262.75,501.86 263.00,501.94 263.25,501.91 263.50,501.98 263.75,501.88 264.00,501.82 264.25,501.77 264.50,501.82 264.75,501.77 265.00,501.86 265.25,501.93 265.50,501.87 265.75,501.97 266.00,501.84 266.25,501.90 266.50,501.90 266.75,501.88 267.00,501.84 267.25,501.91 267.50,501.76 267.75,501.74 268.00,501.60 268.25,501.42 268.50,501.11 268.75,500.99 269.00,500.89 269.25,500.92 269.50,501.13 269.75,501.41 270.00,501.63 270.25,501.85 270.50,501.91 270.75,502.01 271.00,501.87 271.25,501.91 271.50,501.98 271.75,501.92 272.00,501.84 272.25,501.77 272.50,501.78 272.75,501.88 273.00,501.82 273.25,501.81 273.50,501.84 273.75,501.77 274.00,501.75 274.25,501.77 274.50,501.88 274.75,501.94 275.00,501.89 275.25,501.86 275.50,501.82 275.75,501.85 276.00,501.90 276.25,501.97 276.50,502.03 276.75,501.95 277.00,501.90 277.25,501.85 277.50,501.87 277.75,501.79 278.00,501.80 278.25,501.75 278.50,501.78 278.75,501.90 279.00,501.88 279.25,501.99 279.50,502.02 279.75,502.00 280.00,502.04 280.25,502.00 280.50,502.03 280.75,501.93 281.00,501.87 281.25,501.96 281.50,501.97 281.75,501.96 282.00,501.89 282.25,501.90 282.50,501.86 282.75,501.78 283.00,501.87 283.25,501.92 283.50,501.91 283.75,501.99 284.00,501.87 284.25,501.92 284.50,501.83 284.75,501.91 285.00,501.99 285.25,501.85 285.50,501.95 285.75,501.97 286.00,501.94 286.25,501.94 286.50,501.83 286.75,501.76 287.00,501.84 287.25,501.79 287.50,501.77 287.75,501.79 288.00,501.84 288.25,501.91 288.50,501.94 288.75,501.94 289.00,501.82 289.25,501.93 289.50,501.82 289.75,501.95 290.00,501.92 290.25,501.96 290.50,501.95 290.75,501.90 291.00,501.93 291.25,501.97 291.50,501.89 291.75,501.96 292.00,501.92 292.25,501.86 292.50,501.84 292.75,501.90 293.00,501.85 293.25,501.84 293.50,501.76 293.75,501.72 294.00,501.88 294.25,501.87 294.50,501.96 294.75,501.98 295.00,502.02 295.25,501.92 295.50,501.91 295.75,501.98 296.00,501.93 296.25,501.87 296.50,501.96 296.75,501.94 297.00,501.97 297.25,501.89 297.50,501.95 297.75,501.91 298.00,501.98 298.25,501.95 298.50,501.91 298.75,501.84 299.00,501.93 299.25,501.88 299.50,501.92 299.75,501.92 300.00,501.91 300.25,501.90 300.50,501.85 300.75,501.78 301.00,501.78 301.25,501.78 301.50,501.77 301.75,501.91 302.00,501.99 302.25,501.94 302.50,502.02 302.75,501.88 303.00,501.80 303.25,501.84 303.50,501.81 303.75,501.87 304.00,501.87 304.25,501.83 304.50,501.77 304.75,501.91 305.00,501.87 305.25,501.93 305.50,501.92 305.75,501.82 306.00,501.92 306.25,501.85 306.50,501.83 306.75,501.77 307.00,501.81 307.25,501.92 307.50,501.83 307.75,501.79 308.00,501.81 308.25,501.88 308.50,501.85 308.75,501.87 309.00,501.84 309.25,501.96 309.50,501.90 309.75,501.98 310.00,501.90 310.25,501.99 310.50,501.98 310.75,502.05 311.00,501.90 311.25,501.81 311.50,501.95 311.75,501.84 312.00,501.82 312.25,501.94 312.50,501.85 312.75,501.90 313.00,501.85 313.25,501.85 313.50,501.80 313.75,501.90 314.00,501.83 314.25,501.84 314.50,501.79 314.75,501.89 315.00,501.97 315.25,501.94 315.50,501.98 315.75,502.00 316.00,501.99 316.25,502.03 316.50,502.08 316.75,501.98 317.00,501.94 317.25,502.01 317.50,501.96 317.75,501.87 318.00,501.94 318.25,501.83 318.50,501.95 318.75,501.98 319.00,502.04 319.25,502.04 319.50,501.96 319.75,502.00 320.00,501.97 320.25,501.86 320.50,501.82 320.75,501.83 321.00,501.88 321.25,501.86 321.50,501.92 321.75,501.82 322.00,501.83 322.25,501.93 322.50,501.99 322.75,502.04 323.00,502.00 323.25,502.04 323.50,502.02 323.75,502.01 324.00,501.90 324.25,501.88 324.50,501.94 324.75,501.99 325.00,501.96 325.25,501.88 325.50,501.92 325.75,501.88 326.00,501.84 326.25,501.87 326.50,501.94 326.75,501.88 327.00,501.79 327.25,501.92 327.50,502.01 327.75,501.98 328.00,501.93 328.25,501.85 328.50,501.92 328.75,501.82 329.00,501.81" fill="none" stroke="#111" stroke-width="1.4" stroke-linejoin="round"/>
<text x="272.80" y="359.40" font-size="14" fill="#1a1a1a" font-family='"Liberation Serif", serif' textLength="48.00" lengthAdjust="spacingAndGlyphs">0% SiO<tspan font-size="9.80" dy="0.28">2</tspan></text>
<text x="274.60" y="395.00" font-size="14" fill="#1a1a1a" font-family='"Liberation Serif", serif' textLength="47.60" lengthAdjust="spacingAndGlyphs">3% SiO<tspan font-size="9.80" dy="0.28">2</tspan></text>
<text x="273.30" y="426.60" font-size="14" fill="#1a1a1a" font-family='"Liberation Serif", serif' textLength="48.00" lengthAdjust="spacingAndGlyphs">6% SiO<tspan font-size="9.80" dy="0.28">2</tspan></text>
<text x="274.60" y="457.70" font-size="14" fill="#1a1a1a" font-family='"Liberation Serif", serif' textLength="47.60" lengthAdjust="spacingAndGlyphs">9% SiO<tspan font-size="9.80" dy="0.28">2</tspan></text>
<text x="271.30" y="488.00" font-size="14" fill="#1a1a1a" font-family='"Liberation Serif", serif' textLength="53.70" lengthAdjust="spacingAndGlyphs">12% SiO<tspan font-size="9.80" dy="0.28">2</tspan></text>
<polygon points="57.00,348.20 58.21,350.83 61.09,351.17 58.96,353.14 59.53,355.98 57.00,354.56 54.47,355.98 55.04,353.14 52.91,351.17 55.79,350.83" fill="none" stroke="#ff2020" stroke-width="1.15" stroke-linejoin="miter"/>
<polygon points="103.30,343.20 104.51,345.83 107.39,346.17 105.26,348.14 105.83,350.98 103.30,349.56 100.77,350.98 101.34,348.14 99.21,346.17 102.09,345.83" fill="none" stroke="#ff2020" stroke-width="1.15" stroke-linejoin="miter"/>
<polygon points="127.00,325.30 128.21,327.93 131.09,328.27 128.96,330.24 129.53,333.08 127.00,331.66 124.47,333.08 125.04,330.24 122.91,328.27 125.79,327.93" fill="none" stroke="#ff2020" stroke-width="1.15" stroke-linejoin="miter"/>
<polygon points="156.00,350.50 157.21,353.13 160.09,353.47 157.96,355.44 158.53,358.28 156.00,356.86 153.47,358.28 154.04,355.44 151.91,353.47 154.79,353.13" fill="none" stroke="#ff2020" stroke-width="1.15" stroke-linejoin="miter"/>
<polygon points="236.30,349.30 237.51,351.93 240.39,352.27 238.26,354.24 238.83,357.08 236.30,355.66 233.77,357.08 234.34,354.24 232.21,352.27 235.09,351.93" fill="none" stroke="#ff2020" stroke-width="1.15" stroke-linejoin="miter"/>
<polygon points="122.55,367.60 130.05,367.60 126.30,374.50" fill="#7a0a0a"/>
<polygon points="126.00,376.40 130.00,382.80 122.00,382.80" fill="#f4a460"/>
<polygon points="196.75,352.00 204.25,352.00 200.50,359.40" fill="#7a0a0a"/>
<polygon points="53.40,386.00 60.80,386.00 57.10,393.00" fill="#7a0a0a"/>
<polygon points="57.10,395.00 61.10,402.40 53.10,402.40" fill="#f4a460"/>
<polygon points="100.70,384.20 108.10,384.20 104.40,391.00" fill="#7a0a0a"/>
<polygon points="104.40,392.00 108.40,398.90 100.40,398.90" fill="#f4a460"/>
<polygon points="128.60,389.20 136.00,389.20 132.30,395.60" fill="#7a0a0a"/>
<polygon points="132.30,398.30 136.30,405.10 128.30,405.10" fill="#f4a460"/>
<polygon points="152.90,384.60 160.30,384.60 156.60,391.60" fill="#7a0a0a"/>
<polygon points="156.60,395.60 160.60,402.00 152.60,402.00" fill="#f4a460"/>
<polygon points="195.30,386.00 202.70,386.00 199.00,393.30" fill="#7a0a0a"/>
<polygon points="199.00,395.00 203.00,402.40 195.00,402.40" fill="#f4a460"/>
<polygon points="208.80,385.60 216.20,385.60 212.50,392.90" fill="#7a0a0a"/>
<polygon points="212.50,394.70 216.50,402.00 208.50,402.00" fill="#f4a460"/>
<polygon points="232.50,385.00 239.90,385.00 236.20,392.00" fill="#7a0a0a"/>
<polygon points="236.20,394.20 240.20,401.50 232.20,401.50" fill="#f4a460"/>
<polygon points="91.90,475.20 95.50,478.80 91.90,482.40 88.30,478.80" fill="#0a14f0"/>
<polygon points="67.90,487.30 71.50,490.90 67.90,494.50 64.30,490.90" fill="#0a14f0"/>
<circle cx="74.10" cy="490.60" r="3.40" fill="#e8106e"/>
<circle cx="126.70" cy="475.10" r="3.40" fill="#e8106e"/>
<polygon points="188.30,484.70 191.90,488.30 188.30,491.90 184.70,488.30" fill="#0a14f0"/>
<rect x="101.60" y="321.80" width="32.50" height="179.80" fill="none" stroke="#ff1a1a" stroke-width="1.6" stroke-dasharray="4.5 3"/>
<rect x="350.70" y="279.10" width="191.50" height="228.20" fill="none" stroke="#1a1a1a" stroke-width="1.5"/>
<line x1="394.00" y1="501.80" x2="394.00" y2="506.60" stroke="#1a1a1a" stroke-width="1.2"/>
<line x1="452.76" y1="501.80" x2="452.76" y2="506.60" stroke="#1a1a1a" stroke-width="1.2"/>
<line x1="511.52" y1="501.80" x2="511.52" y2="506.60" stroke="#1a1a1a" stroke-width="1.2"/>
<line x1="364.62" y1="504.00" x2="364.62" y2="506.60" stroke="#1a1a1a" stroke-width="1.2"/>
<line x1="423.38" y1="504.00" x2="423.38" y2="506.60" stroke="#1a1a1a" stroke-width="1.2"/>
<line x1="482.14" y1="504.00" x2="482.14" y2="506.60" stroke="#1a1a1a" stroke-width="1.2"/>
<text x="397.30" y="524.40" font-size="14.5" fill="#1a1a1a" font-family='"Liberation Serif", serif' text-anchor="middle">34.8</text>
<text x="455.50" y="524.40" font-size="14.5" fill="#1a1a1a" font-family='"Liberation Serif", serif' text-anchor="middle">35.2</text>
<text x="514.20" y="524.40" font-size="14.5" fill="#1a1a1a" font-family='"Liberation Serif", serif' text-anchor="middle">35.6</text>
<text x="409.00" y="539.40" font-size="15" fill="#1a1a1a" font-family='"Liberation Serif", serif' textLength="93.20" lengthAdjust="spacingAndGlyphs">Two-theta (deg)</text>
<text x="343.90" y="440.30" font-size="14.6" fill="#1a1a1a" font-family='"Liberation Serif", serif' textLength="93.60" lengthAdjust="spacingAndGlyphs" transform="rotate(-90 343.90 440.30)">Intensity (A.U.)</text>
<polygon points="381.00,288.40 382.04,290.66 384.52,290.96 382.69,292.65 383.17,295.09 381.00,293.88 378.83,295.09 379.31,292.65 377.48,290.96 379.96,290.66" fill="none" stroke="#ff2020" stroke-width="1.15" stroke-linejoin="miter"/>
<text x="385.40" y="296.00" font-size="13" fill="#1a1a1a" font-family='"Liberation Serif", serif' textLength="115.00" lengthAdjust="spacingAndGlyphs">--(Mn<tspan font-size="8.32" dy="0.52">y</tspan><tspan dy="-0.52">Fe</tspan><tspan font-size="8.32" dy="0.52">x</tspan><tspan dy="-0.52">Si</tspan><tspan font-size="8.32" dy="0.52">1-x-y</tspan><tspan dy="-0.52">)Fe</tspan><tspan font-size="8.32" dy="0.52">2</tspan><tspan dy="-0.52">O</tspan><tspan font-size="8.32" dy="0.52">4</tspan></text>
<text x="396.50" y="313.40" font-size="13" fill="#1a1a1a" font-family='"Liberation Serif", serif'>(0</text>
<polyline points="417.49,307.42 408.45,310.67 417.49,313.92" fill="none" stroke="#1a1a1a" stroke-width="0.91" stroke-linejoin="miter"/>
<text x="418.63" y="313.40" font-size="13" fill="#1a1a1a" font-family='"Liberation Serif", serif'>x+y</text>
<polyline points="448.85,307.42 439.81,310.67 448.85,313.92" fill="none" stroke="#1a1a1a" stroke-width="0.91" stroke-linejoin="miter"/>
<text x="449.98" y="313.40" font-size="13" fill="#1a1a1a" font-family='"Liberation Serif", serif'>1)</text>
<polygon points="376.80,320.60 384.20,320.60 380.50,328.50" fill="#7a0a0a"/>
<text x="385.40" y="328.70" font-size="13" fill="#1a1a1a" font-family='"Liberation Serif", serif' textLength="117.70" lengthAdjust="spacingAndGlyphs">--Mn<tspan font-size="8.32" dy="0.52">x</tspan><tspan dy="-0.52">Fe</tspan><tspan font-size="8.32" dy="0.52">3-x</tspan><tspan dy="-0.52">O</tspan><tspan font-size="8.32" dy="0.52">4</tspan><tspan dy="-0.52"> (0≤x≤3)</tspan></text>
<polygon points="388.90,341.00 393.15,349.00 384.65,349.00" fill="#ff8a2a"/>
<text x="394.80" y="349.00" font-size="13" fill="#1a1a1a" font-family='"Liberation Serif", serif' textLength="62.50" lengthAdjust="spacingAndGlyphs">-- MnFe<tspan font-size="8.32" dy="0.52">2</tspan><tspan dy="-0.52">O</tspan><tspan font-size="8.32" dy="0.52">4</tspan></text>
<polyline points="351.50,402.75 352.00,402.72 352.50,402.72 353.00,402.76 353.50,402.72 354.00,402.69 354.50,402.67 355.00,402.72 355.50,402.68 356.00,402.72 356.50,402.74 357.00,402.68 357.50,402.69 358.00,402.68 358.50,402.66 359.00,402.72 359.50,402.64 360.00,402.58 360.50,402.64 361.00,402.61 361.50,402.56 362.00,402.53 362.50,402.51 363.00,402.56 363.50,402.50 364.00,402.45 364.50,402.45 365.00,402.44 365.50,402.47 366.00,402.47 366.50,402.40 367.00,402.32 367.50,402.33 368.00,402.35 368.50,402.23 369.00,402.21 369.50,402.20 370.00,402.16 370.50,402.05 371.00,402.03 371.50,401.99 372.00,401.88 372.50,401.83 373.00,401.72 373.50,401.60 374.00,401.53 374.50,401.45 375.00,401.37 375.50,401.32 376.00,401.27 376.50,401.22 377.00,401.15 377.50,401.06 378.00,400.94 378.50,400.75 379.00,400.56 379.50,400.43 380.00,400.29 380.50,400.15 381.00,399.93 381.50,399.73 382.00,399.62 382.50,399.44 383.00,399.27 383.50,399.00 384.00,398.79 384.50,398.62 385.00,398.40 385.50,398.21 386.00,397.90 386.50,397.62 387.00,397.39 387.50,397.09 388.00,396.82 388.50,396.51 389.00,396.14 389.50,395.78 390.00,395.52 390.50,395.13 391.00,394.75 391.50,394.39 392.00,394.06 392.50,393.72 393.00,393.32 393.50,392.91 394.00,392.53 394.50,392.07 395.00,391.62 395.50,391.20 396.00,390.77 396.50,390.26 397.00,389.76 397.50,389.28 398.00,388.86 398.50,388.42 399.00,387.99 399.50,387.52 400.00,386.98 400.50,386.51 401.00,386.06 401.50,385.52 402.00,384.95 402.50,384.44 403.00,383.93 403.50,383.41 404.00,382.89 404.50,382.39 405.00,381.98 405.50,381.47 406.00,381.04 406.50,380.55 407.00,380.08 407.50,379.71 408.00,379.26 408.50,378.81 409.00,378.42 409.50,378.07 410.00,377.70 410.50,377.39 411.00,377.03 411.50,376.70 412.00,376.43 412.50,376.13 413.00,375.89 413.50,375.64 414.00,375.37 414.50,375.15 415.00,375.04 415.50,374.93 416.00,374.86 416.50,374.78 417.00,374.70 417.50,374.61 418.00,374.64 418.50,374.61 419.00,374.68 419.50,374.74 420.00,374.89 420.50,375.07 421.00,375.29 421.50,375.59 422.00,375.89 422.50,376.18 423.00,376.57 423.50,376.98 424.00,377.42 424.50,377.78 425.00,378.26 425.50,378.78 426.00,379.24 426.50,379.73 427.00,380.31 427.50,380.84 428.00,381.40 428.50,382.02 429.00,382.58 429.50,383.13 430.00,383.71 430.50,384.31 431.00,384.95 431.50,385.55 432.00,386.19 432.50,386.73 433.00,387.31 433.50,387.94 434.00,388.53 434.50,389.12 435.00,389.74 435.50,390.26 436.00,390.77 436.50,391.27 437.00,391.82 437.50,392.32 438.00,392.84 438.50,393.28 439.00,393.72 439.50,394.21 440.00,394.71 440.50,395.13 441.00,395.61 441.50,396.01 442.00,396.38 442.50,396.78 443.00,397.09 443.50,397.44 444.00,397.80 444.50,398.10 445.00,398.36 445.50,398.59 446.00,398.87 446.50,399.10 447.00,399.33 447.50,399.58 448.00,399.86 448.50,400.07 449.00,400.25 449.50,400.46 450.00,400.59 450.50,400.73 451.00,400.89 451.50,401.03 452.00,401.12 452.50,401.24 453.00,401.40 453.50,401.47 454.00,401.60 454.50,401.63 455.00,401.78 455.50,401.88 456.00,401.92 456.50,402.05 457.00,402.13 457.50,402.11 458.00,402.14 458.50,402.19 459.00,402.31 459.50,402.30 460.00,402.29 460.50,402.32 461.00,402.32 461.50,402.37 462.00,402.43 462.50,402.47 463.00,402.46 463.50,402.45 464.00,402.55 464.50,402.57 465.00,402.60 465.50,402.62 466.00,402.67 466.50,402.73 467.00,402.77 467.50,402.79 468.00,402.76 468.50,402.72 469.00,402.69 469.50,402.76 470.00,402.71 470.50,402.75 471.00,402.81 471.50,402.79 472.00,402.79 472.50,402.79 473.00,402.86 473.50,402.88 474.00,402.91 474.50,402.84 475.00,402.87 475.50,402.86 476.00,402.86 476.50,402.90 477.00,402.92 477.50,402.96 478.00,402.97 478.50,403.00 479.00,402.96 479.50,402.95 480.00,402.97 480.50,402.95 481.00,402.90 481.50,402.92 482.00,402.96 482.50,403.00 483.00,402.94 483.50,402.92 484.00,402.90 484.50,402.89 485.00,402.96 485.50,402.95 486.00,402.93 486.50,402.91 487.00,402.92 487.50,402.96 488.00,402.94 488.50,402.91 489.00,402.90 489.50,402.89 490.00,402.97 490.50,402.93 491.00,402.98 491.50,402.94 492.00,402.99 492.50,402.96 493.00,403.01 493.50,403.00 494.00,402.95 494.50,402.92 495.00,402.98 495.50,402.99 496.00,403.00 496.50,402.99 497.00,403.02 497.50,403.02 498.00,402.96 498.50,402.99 499.00,402.98 499.50,403.04 500.00,403.04 500.50,403.07 501.00,403.01 501.50,403.04 502.00,403.06 502.50,403.09 503.00,403.12 503.50,403.11 504.00,403.10 504.50,403.11 505.00,403.07 505.50,403.07 506.00,403.10 506.50,403.09 507.00,403.09 507.50,403.12 508.00,403.16 508.50,403.10 509.00,403.04 509.50,403.06 510.00,403.02 510.50,403.09 511.00,403.08 511.50,403.08 512.00,403.11 512.50,403.14 513.00,403.08 513.50,403.07 514.00,403.03 514.50,403.04 515.00,403.01 515.50,403.07 516.00,403.06 516.50,403.05 517.00,403.11 517.50,403.14 518.00,403.10 518.50,403.10 519.00,403.11 519.50,403.07 520.00,403.03 520.50,403.09 521.00,403.05 521.50,403.09 522.00,403.12 522.50,403.12 523.00,403.09 523.50,403.14 524.00,403.16 524.50,403.09 525.00,403.14 525.50,403.14 526.00,403.10 526.50,403.06 527.00,403.03 527.50,403.09 528.00,403.13 528.50,403.11 529.00,403.07 529.50,403.03 530.00,403.04 530.50,403.04 531.00,403.00 531.50,403.01 532.00,403.08 532.50,403.04 533.00,403.05 533.50,403.07 534.00,403.04 534.50,403.01 535.00,402.99 535.50,402.98 536.00,403.08 536.50,403.13 537.00,403.15 537.50,403.19 538.00,403.15 538.50,403.11 539.00,403.16 539.50,403.16 540.00,403.20 540.50,403.16 541.00,403.14 541.50,403.16" fill="none" stroke="#ff7f0e" stroke-width="1.5" stroke-linejoin="round"/>
<polyline points="351.50,427.94 352.00,427.92 352.50,427.91 353.00,427.98 353.50,427.98 354.00,428.00 354.50,427.94 355.00,427.95 355.50,427.99 356.00,427.98 356.50,428.03 357.00,428.05 357.50,428.00 358.00,427.92 358.50,427.96 359.00,427.91 359.50,427.85 360.00,427.90 360.50,427.95 361.00,427.98 361.50,428.01 362.00,427.94 362.50,427.88 363.00,427.84 363.50,427.91 364.00,427.85 364.50,427.82 365.00,427.78 365.50,427.75 366.00,427.72 366.50,427.74 367.00,427.73 367.50,427.74 368.00,427.81 368.50,427.77 369.00,427.82 369.50,427.84 370.00,427.83 370.50,427.82 371.00,427.83 371.50,427.81 372.00,427.75 372.50,427.72 373.00,427.68 373.50,427.67 374.00,427.72 374.50,427.69 375.00,427.61 375.50,427.61 376.00,427.63 376.50,427.60 377.00,427.60 377.50,427.52 378.00,427.45 378.50,427.46 379.00,427.39 379.50,427.35 380.00,427.33 380.50,427.28 381.00,427.21 381.50,427.14 382.00,427.19 382.50,427.18 383.00,427.19 383.50,427.13 384.00,427.11 384.50,427.08 385.00,427.00 385.50,426.91 386.00,426.83 386.50,426.71 387.00,426.62 387.50,426.57 388.00,426.44 388.50,426.40 389.00,426.30 389.50,426.21 390.00,426.13 390.50,426.02 391.00,425.85 391.50,425.69 392.00,425.52 392.50,425.35 393.00,425.30 393.50,425.17 394.00,425.07 394.50,424.93 395.00,424.71 395.50,424.58 396.00,424.42 396.50,424.19 397.00,423.91 397.50,423.67 398.00,423.41 398.50,423.18 399.00,422.89 399.50,422.68 400.00,422.47 400.50,422.13 401.00,421.87 401.50,421.55 402.00,421.20 402.50,420.89 403.00,420.49 403.50,420.13 404.00,419.66 404.50,419.30 405.00,418.82 405.50,418.31 406.00,417.92 406.50,417.48 407.00,417.01 407.50,416.54 408.00,416.02 408.50,415.48 409.00,414.97 409.50,414.55 410.00,414.12 410.50,413.59 411.00,413.12 411.50,412.67 412.00,412.29 412.50,411.81 413.00,411.47 413.50,411.07 414.00,410.74 414.50,410.38 415.00,410.06 415.50,409.86 416.00,409.62 416.50,409.45 417.00,409.28 417.50,409.10 418.00,408.85 418.50,408.71 419.00,408.62 419.50,408.48 420.00,408.29 420.50,408.15 421.00,408.13 421.50,408.09 422.00,407.95 422.50,407.85 423.00,407.81 423.50,407.74 424.00,407.64 424.50,407.66 425.00,407.62 425.50,407.56 426.00,407.47 426.50,407.48 427.00,407.52 427.50,407.49 428.00,407.47 428.50,407.56 429.00,407.68 429.50,407.72 430.00,407.81 430.50,407.93 431.00,408.05 431.50,408.14 432.00,408.29 432.50,408.44 433.00,408.62 433.50,408.81 434.00,409.05 434.50,409.28 435.00,409.61 435.50,409.86 436.00,410.21 436.50,410.53 437.00,410.79 437.50,411.06 438.00,411.40 438.50,411.74 439.00,412.09 439.50,412.39 440.00,412.76 440.50,413.16 441.00,413.52 441.50,413.86 442.00,414.29 442.50,414.62 443.00,415.06 443.50,415.44 444.00,415.73 444.50,416.10 445.00,416.44 445.50,416.86 446.00,417.22 446.50,417.53 447.00,417.96 447.50,418.35 448.00,418.70 448.50,419.04 449.00,419.32 449.50,419.71 450.00,420.01 450.50,420.33 451.00,420.64 451.50,420.94 452.00,421.18 452.50,421.54 453.00,421.82 453.50,422.08 454.00,422.39 454.50,422.68 455.00,422.94 455.50,423.21 456.00,423.40 456.50,423.56 457.00,423.76 457.50,423.99 458.00,424.23 458.50,424.45 459.00,424.63 459.50,424.81 460.00,424.99 460.50,425.14 461.00,425.23 461.50,425.39 462.00,425.51 462.50,425.61 463.00,425.77 463.50,425.95 464.00,426.04 464.50,426.18 465.00,426.29 465.50,426.41 466.00,426.54 466.50,426.63 467.00,426.64 467.50,426.74 468.00,426.79 468.50,426.85 469.00,426.95 469.50,426.97 470.00,427.05 470.50,427.16 471.00,427.15 471.50,427.25 472.00,427.31 472.50,427.33 473.00,427.40 473.50,427.37 474.00,427.37 474.50,427.48 475.00,427.52 475.50,427.50 476.00,427.49 476.50,427.53 477.00,427.57 477.50,427.66 478.00,427.63 478.50,427.67 479.00,427.68 479.50,427.71 480.00,427.78 480.50,427.73 481.00,427.78 481.50,427.82 482.00,427.78 482.50,427.75 483.00,427.80 483.50,427.85 484.00,427.83 484.50,427.79 485.00,427.82 485.50,427.86 486.00,427.84 486.50,427.84 487.00,427.81 487.50,427.79 488.00,427.79 488.50,427.86 489.00,427.83 489.50,427.82 490.00,427.84 490.50,427.83 491.00,427.83 491.50,427.89 492.00,427.87 492.50,427.90 493.00,427.87 493.50,427.89 494.00,427.94 494.50,427.94 495.00,427.91 495.50,427.87 496.00,427.87 496.50,427.89 497.00,427.87 497.50,427.89 498.00,427.92 498.50,427.89 499.00,427.94 499.50,428.01 500.00,428.03 500.50,428.01 501.00,428.05 501.50,428.09 502.00,428.12 502.50,428.14 503.00,428.13 503.50,428.15 504.00,428.14 504.50,428.08 505.00,428.02 505.50,428.02 506.00,428.04 506.50,428.01 507.00,428.00 507.50,427.96 508.00,427.92 508.50,427.93 509.00,428.00 509.50,427.96 510.00,427.94 510.50,427.96 511.00,428.04 511.50,428.01 512.00,427.96 512.50,427.93 513.00,427.95 513.50,427.92 514.00,427.98 514.50,427.95 515.00,427.94 515.50,427.93 516.00,427.94 516.50,427.93 517.00,427.93 517.50,427.93 518.00,427.94 518.50,427.99 519.00,428.00 519.50,427.98 520.00,427.95 520.50,428.03 521.00,428.09 521.50,428.14 522.00,428.14 522.50,428.11 523.00,428.08 523.50,428.04 524.00,428.05 524.50,428.05 525.00,428.11 525.50,428.07 526.00,428.10 526.50,428.12 527.00,428.13 527.50,428.13 528.00,428.06 528.50,428.03 529.00,428.05 529.50,428.07 530.00,428.14 530.50,428.16 531.00,428.10 531.50,428.06 532.00,428.10 532.50,428.04 533.00,428.11 533.50,428.06 534.00,428.08 534.50,428.13 535.00,428.07 535.50,428.03 536.00,428.07 536.50,428.11 537.00,428.05 537.50,428.06 538.00,428.11 538.50,428.14 539.00,428.12 539.50,428.06 540.00,428.09 540.50,428.10 541.00,428.09 541.50,428.11" fill="none" stroke="#23a455" stroke-width="1.5" stroke-linejoin="round"/>
<polyline points="351.50,450.45 352.00,450.46 352.50,450.49 353.00,450.44 353.50,450.45 354.00,450.49 354.50,450.52 355.00,450.45 355.50,450.46 356.00,450.46 356.50,450.44 357.00,450.49 357.50,450.47 358.00,450.44 358.50,450.48 359.00,450.47 359.50,450.42 360.00,450.39 360.50,450.39 361.00,450.33 361.50,450.36 362.00,450.39 362.50,450.38 363.00,450.42 363.50,450.45 364.00,450.43 364.50,450.43 365.00,450.36 365.50,450.30 366.00,450.37 366.50,450.33 367.00,450.30 367.50,450.35 368.00,450.37 368.50,450.31 369.00,450.29 369.50,450.26 370.00,450.24 370.50,450.19 371.00,450.22 371.50,450.21 372.00,450.21 372.50,450.18 373.00,450.15 373.50,450.12 374.00,450.19 374.50,450.22 375.00,450.22 375.50,450.16 376.00,450.12 376.50,450.08 377.00,450.07 377.50,450.03 378.00,450.02 378.50,450.00 379.00,449.97 379.50,450.01 380.00,450.00 380.50,449.98 381.00,449.95 381.50,449.94 382.00,449.96 382.50,449.90 383.00,449.82 383.50,449.80 384.00,449.76 384.50,449.76 385.00,449.68 385.50,449.69 386.00,449.58 386.50,449.55 387.00,449.49 387.50,449.42 388.00,449.42 388.50,449.38 389.00,449.26 389.50,449.19 390.00,449.13 390.50,448.99 391.00,448.87 391.50,448.82 392.00,448.76 392.50,448.66 393.00,448.55 393.50,448.44 394.00,448.30 394.50,448.23 395.00,448.15 395.50,448.00 396.00,447.78 396.50,447.63 397.00,447.52 397.50,447.34 398.00,447.12 398.50,446.93 399.00,446.79 399.50,446.62 400.00,446.39 400.50,446.21 401.00,446.02 401.50,445.83 402.00,445.61 402.50,445.32 403.00,445.07 403.50,444.81 404.00,444.53 404.50,444.22 405.00,443.87 405.50,443.50 406.00,443.16 406.50,442.77 407.00,442.39 407.50,441.92 408.00,441.45 408.50,440.99 409.00,440.57 409.50,440.14 410.00,439.65 410.50,439.16 411.00,438.78 411.50,438.27 412.00,437.89 412.50,437.48 413.00,437.06 413.50,436.71 414.00,436.33 414.50,435.89 415.00,435.62 415.50,435.29 416.00,435.07 416.50,434.84 417.00,434.55 417.50,434.30 418.00,434.09 418.50,434.00 419.00,433.91 419.50,433.76 420.00,433.61 420.50,433.53 421.00,433.50 421.50,433.46 422.00,433.42 422.50,433.40 423.00,433.34 423.50,433.30 424.00,433.16 424.50,433.05 425.00,433.07 425.50,433.05 426.00,432.99 426.50,432.94 427.00,432.93 427.50,432.93 428.00,432.96 428.50,433.00 429.00,433.01 429.50,433.02 430.00,433.07 430.50,433.13 431.00,433.19 431.50,433.31 432.00,433.40 432.50,433.58 433.00,433.72 433.50,433.86 434.00,434.03 434.50,434.16 435.00,434.27 435.50,434.42 436.00,434.62 436.50,434.83 437.00,435.02 437.50,435.24 438.00,435.52 438.50,435.69 439.00,435.94 439.50,436.18 440.00,436.42 440.50,436.71 441.00,436.94 441.50,437.16 442.00,437.40 442.50,437.76 443.00,438.01 443.50,438.24 444.00,438.59 444.50,438.88 445.00,439.20 445.50,439.43 446.00,439.74 446.50,439.94 447.00,440.19 447.50,440.51 448.00,440.78 448.50,441.09 449.00,441.33 449.50,441.64 450.00,441.84 450.50,442.12 451.00,442.34 451.50,442.57 452.00,442.88 452.50,443.12 453.00,443.41 453.50,443.61 454.00,443.87 454.50,444.15 455.00,444.37 455.50,444.54 456.00,444.78 456.50,445.04 457.00,445.26 457.50,445.43 458.00,445.60 458.50,445.73 459.00,445.96 459.50,446.10 460.00,446.25 460.50,446.39 461.00,446.54 461.50,446.72 462.00,446.90 462.50,447.03 463.00,447.20 463.50,447.39 464.00,447.48 464.50,447.59 465.00,447.74 465.50,447.93 466.00,448.09 466.50,448.20 467.00,448.24 467.50,448.40 468.00,448.55 468.50,448.66 469.00,448.73 469.50,448.78 470.00,448.86 470.50,448.96 471.00,449.08 471.50,449.12 472.00,449.17 472.50,449.20 473.00,449.26 473.50,449.33 474.00,449.35 474.50,449.41 475.00,449.51 475.50,449.52 476.00,449.54 476.50,449.57 477.00,449.67 477.50,449.68 478.00,449.76 478.50,449.84 479.00,449.90 479.50,449.94 480.00,449.90 480.50,449.92 481.00,449.98 481.50,449.96 482.00,449.99 482.50,450.05 483.00,450.11 483.50,450.09 484.00,450.05 484.50,450.01 485.00,450.03 485.50,450.07 486.00,450.07 486.50,450.14 487.00,450.18 487.50,450.20 488.00,450.24 488.50,450.22 489.00,450.24 489.50,450.22 490.00,450.21 490.50,450.17 491.00,450.24 491.50,450.30 492.00,450.24 492.50,450.28 493.00,450.23 493.50,450.24 494.00,450.24 494.50,450.31 495.00,450.30 495.50,450.31 496.00,450.30 496.50,450.28 497.00,450.27 497.50,450.24 498.00,450.21 498.50,450.26 499.00,450.32 499.50,450.35 500.00,450.32 500.50,450.39 501.00,450.34 501.50,450.34 502.00,450.33 502.50,450.31 503.00,450.38 503.50,450.41 504.00,450.36 504.50,450.33 505.00,450.39 505.50,450.37 506.00,450.36 506.50,450.35 507.00,450.34 507.50,450.37 508.00,450.36 508.50,450.39 509.00,450.34 509.50,450.37 510.00,450.39 510.50,450.38 511.00,450.44 511.50,450.48 512.00,450.48 512.50,450.46 513.00,450.41 513.50,450.43 514.00,450.41 514.50,450.37 515.00,450.40 515.50,450.37 516.00,450.41 516.50,450.45 517.00,450.39 517.50,450.42 518.00,450.39 518.50,450.39 519.00,450.43 519.50,450.49 520.00,450.46 520.50,450.49 521.00,450.46 521.50,450.51 522.00,450.46 522.50,450.48 523.00,450.42 523.50,450.44 524.00,450.48 524.50,450.52 525.00,450.54 525.50,450.52 526.00,450.49 526.50,450.50 527.00,450.51 527.50,450.51 528.00,450.53 528.50,450.54 529.00,450.57 529.50,450.56 530.00,450.58 530.50,450.58 531.00,450.53 531.50,450.56 532.00,450.52 532.50,450.55 533.00,450.57 533.50,450.59 534.00,450.61 534.50,450.60 535.00,450.56 535.50,450.52 536.00,450.53 536.50,450.56 537.00,450.52 537.50,450.48 538.00,450.52 538.50,450.56 539.00,450.50 539.50,450.46 540.00,450.42 540.50,450.45 541.00,450.51 541.50,450.47" fill="none" stroke="#1f66e0" stroke-width="1.5" stroke-linejoin="round"/>
<polyline points="351.50,474.84 352.00,474.85 352.50,474.89 353.00,474.92 353.50,474.94 354.00,474.89 354.50,474.92 355.00,474.88 355.50,474.84 356.00,474.78 356.50,474.79 357.00,474.76 357.50,474.75 358.00,474.78 358.50,474.82 359.00,474.84 359.50,474.78 360.00,474.73 360.50,474.72 361.00,474.75 361.50,474.80 362.00,474.83 362.50,474.86 363.00,474.85 363.50,474.84 364.00,474.79 364.50,474.76 365.00,474.72 365.50,474.74 366.00,474.75 366.50,474.76 367.00,474.74 367.50,474.73 368.00,474.69 368.50,474.74 369.00,474.74 369.50,474.76 370.00,474.78 370.50,474.72 371.00,474.67 371.50,474.64 372.00,474.70 372.50,474.72 373.00,474.68 373.50,474.70 374.00,474.66 374.50,474.69 375.00,474.61 375.50,474.63 376.00,474.67 376.50,474.62 377.00,474.59 377.50,474.52 378.00,474.49 378.50,474.45 379.00,474.42 379.50,474.37 380.00,474.36 380.50,474.31 381.00,474.33 381.50,474.31 382.00,474.27 382.50,474.31 383.00,474.26 383.50,474.23 384.00,474.25 384.50,474.23 385.00,474.22 385.50,474.16 386.00,474.14 386.50,474.00 387.00,473.97 387.50,473.88 388.00,473.80 388.50,473.77 389.00,473.72 389.50,473.62 390.00,473.52 390.50,473.42 391.00,473.40 391.50,473.31 392.00,473.18 392.50,473.08 393.00,472.93 393.50,472.80 394.00,472.71 394.50,472.66 395.00,472.57 395.50,472.42 396.00,472.30 396.50,472.10 397.00,471.97 397.50,471.86 398.00,471.63 398.50,471.50 399.00,471.36 399.50,471.13 400.00,470.95 400.50,470.78 401.00,470.50 401.50,470.26 402.00,470.03 402.50,469.82 403.00,469.53 403.50,469.29 404.00,469.03 404.50,468.78 405.00,468.49 405.50,468.20 406.00,467.86 406.50,467.51 407.00,467.14 407.50,466.77 408.00,466.39 408.50,466.02 409.00,465.62 409.50,465.19 410.00,464.81 410.50,464.48 411.00,464.06 411.50,463.73 412.00,463.36 412.50,462.96 413.00,462.54 413.50,462.23 414.00,461.93 414.50,461.55 415.00,461.25 415.50,460.97 416.00,460.69 416.50,460.37 417.00,460.11 417.50,459.92 418.00,459.73 418.50,459.56 419.00,459.35 419.50,459.23 420.00,459.10 420.50,458.94 421.00,458.84 421.50,458.68 422.00,458.56 422.50,458.46 423.00,458.41 423.50,458.36 424.00,458.23 424.50,458.18 425.00,458.08 425.50,458.07 426.00,458.06 426.50,458.03 427.00,457.93 427.50,457.91 428.00,457.89 428.50,457.93 429.00,457.93 429.50,457.96 430.00,458.01 430.50,458.17 431.00,458.29 431.50,458.45 432.00,458.61 432.50,458.74 433.00,458.91 433.50,459.04 434.00,459.21 434.50,459.34 435.00,459.53 435.50,459.69 436.00,459.92 436.50,460.21 437.00,460.50 437.50,460.75 438.00,460.92 438.50,461.24 439.00,461.49 439.50,461.76 440.00,462.01 440.50,462.32 441.00,462.56 441.50,462.80 442.00,463.09 442.50,463.36 443.00,463.63 443.50,463.91 444.00,464.26 444.50,464.59 445.00,464.85 445.50,465.17 446.00,465.41 446.50,465.77 447.00,466.02 447.50,466.32 448.00,466.59 448.50,466.91 449.00,467.18 449.50,467.40 450.00,467.72 450.50,467.99 451.00,468.21 451.50,468.49 452.00,468.78 452.50,469.03 453.00,469.28 453.50,469.47 454.00,469.65 454.50,469.82 455.00,470.09 455.50,470.26 456.00,470.46 456.50,470.70 457.00,470.84 457.50,471.08 458.00,471.26 458.50,471.38 459.00,471.59 459.50,471.76 460.00,471.85 460.50,472.00 461.00,472.17 461.50,472.28 462.00,472.39 462.50,472.57 463.00,472.64 463.50,472.73 464.00,472.81 464.50,472.94 465.00,473.04 465.50,473.13 466.00,473.18 466.50,473.25 467.00,473.40 467.50,473.50 468.00,473.61 468.50,473.63 469.00,473.76 469.50,473.83 470.00,473.89 470.50,473.97 471.00,473.95 471.50,474.02 472.00,474.04 472.50,474.03 473.00,474.12 473.50,474.11 474.00,474.20 474.50,474.21 475.00,474.30 475.50,474.27 476.00,474.31 476.50,474.41 477.00,474.43 477.50,474.46 478.00,474.47 478.50,474.50 479.00,474.50 479.50,474.48 480.00,474.48 480.50,474.55 481.00,474.54 481.50,474.59 482.00,474.65 482.50,474.70 483.00,474.72 483.50,474.75 484.00,474.74 484.50,474.72 485.00,474.66 485.50,474.62 486.00,474.62 486.50,474.64 487.00,474.66 487.50,474.62 488.00,474.66 488.50,474.66 489.00,474.67 489.50,474.64 490.00,474.70 490.50,474.75 491.00,474.78 491.50,474.73 492.00,474.68 492.50,474.76 493.00,474.78 493.50,474.83 494.00,474.80 494.50,474.83 495.00,474.77 495.50,474.72 496.00,474.77 496.50,474.79 497.00,474.78 497.50,474.79 498.00,474.81 498.50,474.77 499.00,474.72 499.50,474.74 500.00,474.74 500.50,474.82 501.00,474.78 501.50,474.79 502.00,474.77 502.50,474.78 503.00,474.75 503.50,474.74 504.00,474.80 504.50,474.84 505.00,474.86 505.50,474.91 506.00,474.94 506.50,474.91 507.00,474.94 507.50,474.93 508.00,474.94 508.50,474.88 509.00,474.92 509.50,474.92 510.00,474.86 510.50,474.80 511.00,474.80 511.50,474.83 512.00,474.82 512.50,474.82 513.00,474.86 513.50,474.83 514.00,474.79 514.50,474.80 515.00,474.80 515.50,474.84 516.00,474.80 516.50,474.87 517.00,474.93 517.50,474.94 518.00,474.92 518.50,474.87 519.00,474.82 519.50,474.86 520.00,474.92 520.50,474.89 521.00,474.92 521.50,474.97 522.00,474.98 522.50,474.95 523.00,474.96 523.50,474.92 524.00,474.91 524.50,474.87 525.00,474.91 525.50,474.88 526.00,474.92 526.50,474.94 527.00,474.89 527.50,474.85 528.00,474.88 528.50,474.87 529.00,474.89 529.50,474.94 530.00,474.90 530.50,474.86 531.00,474.88 531.50,474.91 532.00,474.92 532.50,474.86 533.00,474.87 533.50,474.89 534.00,474.95 534.50,474.91 535.00,474.89 535.50,474.88 536.00,474.92 536.50,474.89 537.00,474.93 537.50,474.93 538.00,474.94 538.50,474.89 539.00,474.94 539.50,474.93 540.00,474.92 540.50,474.91 541.00,474.96 541.50,475.00" fill="none" stroke="#ee2b2b" stroke-width="1.5" stroke-linejoin="round"/>
<polyline points="351.50,499.55 352.00,499.58 352.50,499.60 353.00,499.62 353.50,499.57 354.00,499.61 354.50,499.60 355.00,499.61 355.50,499.61 356.00,499.64 356.50,499.57 357.00,499.54 357.50,499.56 358.00,499.56 358.50,499.57 359.00,499.54 359.50,499.58 360.00,499.50 360.50,499.53 361.00,499.50 361.50,499.44 362.00,499.48 362.50,499.43 363.00,499.41 363.50,499.41 364.00,499.39 364.50,499.37 365.00,499.35 365.50,499.43 366.00,499.39 366.50,499.37 367.00,499.34 367.50,499.42 368.00,499.44 368.50,499.48 369.00,499.52 369.50,499.49 370.00,499.46 370.50,499.44 371.00,499.40 371.50,499.41 372.00,499.47 372.50,499.45 373.00,499.46 373.50,499.48 374.00,499.49 374.50,499.47 375.00,499.45 375.50,499.37 376.00,499.35 376.50,499.38 377.00,499.36 377.50,499.36 378.00,499.32 378.50,499.32 379.00,499.27 379.50,499.30 380.00,499.32 380.50,499.23 381.00,499.24 381.50,499.18 382.00,499.23 382.50,499.16 383.00,499.10 383.50,499.15 384.00,499.14 384.50,499.05 385.00,499.03 385.50,499.05 386.00,498.97 386.50,498.98 387.00,498.91 387.50,498.87 388.00,498.82 388.50,498.73 389.00,498.69 389.50,498.65 390.00,498.62 390.50,498.57 391.00,498.47 391.50,498.42 392.00,498.33 392.50,498.31 393.00,498.16 393.50,498.12 394.00,497.97 394.50,497.88 395.00,497.76 395.50,497.65 396.00,497.56 396.50,497.46 397.00,497.25 397.50,497.16 398.00,497.01 398.50,496.79 399.00,496.65 399.50,496.50 400.00,496.28 400.50,496.12 401.00,495.85 401.50,495.62 402.00,495.36 402.50,495.16 403.00,494.88 403.50,494.58 404.00,494.37 404.50,494.05 405.00,493.73 405.50,493.42 406.00,493.02 406.50,492.70 407.00,492.33 407.50,491.90 408.00,491.50 408.50,491.08 409.00,490.54 409.50,490.10 410.00,489.57 410.50,489.07 411.00,488.54 411.50,488.03 412.00,487.48 412.50,486.88 413.00,486.29 413.50,485.76 414.00,485.23 414.50,484.72 415.00,484.29 415.50,483.87 416.00,483.47 416.50,483.14 417.00,482.75 417.50,482.44 418.00,482.16 418.50,481.92 419.00,481.72 419.50,481.49 420.00,481.21 420.50,481.03 421.00,480.82 421.50,480.63 422.00,480.47 422.50,480.27 423.00,480.15 423.50,479.97 424.00,479.81 424.50,479.68 425.00,479.50 425.50,479.39 426.00,479.37 426.50,479.25 427.00,479.19 427.50,479.19 428.00,479.18 428.50,479.20 429.00,479.28 429.50,479.37 430.00,479.43 430.50,479.52 431.00,479.61 431.50,479.83 432.00,479.99 432.50,480.22 433.00,480.44 433.50,480.77 434.00,481.06 434.50,481.33 435.00,481.70 435.50,482.01 436.00,482.38 436.50,482.75 437.00,483.20 437.50,483.62 438.00,484.00 438.50,484.42 439.00,484.85 439.50,485.34 440.00,485.76 440.50,486.23 441.00,486.62 441.50,487.02 442.00,487.52 442.50,487.95 443.00,488.34 443.50,488.76 444.00,489.21 444.50,489.60 445.00,490.04 445.50,490.53 446.00,490.88 446.50,491.27 447.00,491.65 447.50,492.00 448.00,492.44 448.50,492.77 449.00,493.09 449.50,493.43 450.00,493.71 450.50,494.04 451.00,494.32 451.50,494.63 452.00,494.88 452.50,495.21 453.00,495.47 453.50,495.73 454.00,495.92 454.50,496.09 455.00,496.29 455.50,496.52 456.00,496.66 456.50,496.83 457.00,497.08 457.50,497.22 458.00,497.34 458.50,497.54 459.00,497.65 459.50,497.79 460.00,497.91 460.50,498.03 461.00,498.08 461.50,498.21 462.00,498.28 462.50,498.42 463.00,498.55 463.50,498.58 464.00,498.68 464.50,498.78 465.00,498.77 465.50,498.79 466.00,498.89 466.50,498.97 467.00,498.95 467.50,498.95 468.00,499.04 468.50,499.01 469.00,499.01 469.50,499.02 470.00,499.05 470.50,499.09 471.00,499.09 471.50,499.10 472.00,499.21 472.50,499.23 473.00,499.24 473.50,499.24 474.00,499.32 474.50,499.34 475.00,499.34 475.50,499.30 476.00,499.34 476.50,499.33 477.00,499.39 477.50,499.35 478.00,499.37 478.50,499.41 479.00,499.42 479.50,499.48 480.00,499.52 480.50,499.51 481.00,499.44 481.50,499.49 482.00,499.47 482.50,499.45 483.00,499.43 483.50,499.38 484.00,499.37 484.50,499.36 485.00,499.36 485.50,499.43 486.00,499.40 486.50,499.39 487.00,499.43 487.50,499.40 488.00,499.46 488.50,499.41 489.00,499.43 489.50,499.41 490.00,499.38 490.50,499.44 491.00,499.46 491.50,499.48 492.00,499.47 492.50,499.47 493.00,499.43 493.50,499.40 494.00,499.44 494.50,499.49 495.00,499.47 495.50,499.49 496.00,499.50 496.50,499.50 497.00,499.48 497.50,499.50 498.00,499.50 498.50,499.50 499.00,499.55 499.50,499.56 500.00,499.59 500.50,499.61 501.00,499.61 501.50,499.55 502.00,499.60 502.50,499.59 503.00,499.62 503.50,499.55 504.00,499.57 504.50,499.58 505.00,499.62 505.50,499.63 506.00,499.65 506.50,499.63 507.00,499.67 507.50,499.66 508.00,499.60 508.50,499.65 509.00,499.60 509.50,499.56 510.00,499.54 510.50,499.59 511.00,499.60 511.50,499.61 512.00,499.57 512.50,499.58 513.00,499.62 513.50,499.63 514.00,499.62 514.50,499.64 515.00,499.60 515.50,499.55 516.00,499.60 516.50,499.55 517.00,499.50 517.50,499.57 518.00,499.58 518.50,499.53 519.00,499.53 519.50,499.51 520.00,499.54 520.50,499.55 521.00,499.61 521.50,499.55 522.00,499.58 522.50,499.61 523.00,499.57 523.50,499.62 524.00,499.67 524.50,499.67 525.00,499.68 525.50,499.70 526.00,499.74 526.50,499.69 527.00,499.64 527.50,499.59 528.00,499.58 528.50,499.62 529.00,499.68 529.50,499.67 530.00,499.67 530.50,499.68 531.00,499.61 531.50,499.56 532.00,499.52 532.50,499.59 533.00,499.64 533.50,499.60 534.00,499.65 534.50,499.60 535.00,499.60 535.50,499.61 536.00,499.67 536.50,499.66 537.00,499.60 537.50,499.66 538.00,499.70 538.50,499.73 539.00,499.76 539.50,499.67 540.00,499.61 540.50,499.58 541.00,499.60 541.50,499.58" fill="none" stroke="#111" stroke-width="1.5" stroke-linejoin="round"/>
<line x1="416.60" y1="375.50" x2="416.60" y2="506.60" stroke="#ff1a1a" stroke-width="1.6" stroke-dasharray="8 3.5"/>
<line x1="427.60" y1="383.00" x2="427.60" y2="506.60" stroke="#333" stroke-width="2.0" stroke-dasharray="6.5 3.5"/>
<line x1="437.60" y1="392.30" x2="437.60" y2="506.60" stroke="#1a1aff" stroke-width="1.5" stroke-dasharray="7 3.5"/>
<polygon points="411.40,359.00 416.40,368.10 406.40,368.10" fill="#f4a460"/>
<polygon points="423.60,364.50 433.60,364.50 428.60,373.80" fill="#7a0a0a"/>
<polygon points="447.50,381.80 448.97,384.98 452.45,385.39 449.87,387.77 450.56,391.21 447.50,389.50 444.44,391.21 445.13,387.77 442.55,385.39 446.03,384.98" fill="none" stroke="#ff2020" stroke-width="1.15" stroke-linejoin="miter"/>
<text x="492.60" y="395.30" font-size="14" fill="#1a1a1a" font-family='"Liberation Serif", serif' textLength="44.50" lengthAdjust="spacingAndGlyphs">0% SiO<tspan font-size="9.80" dy="0.28">2</tspan></text>
<text x="493.20" y="424.10" font-size="14" fill="#1a1a1a" font-family='"Liberation Serif", serif' textLength="43.90" lengthAdjust="spacingAndGlyphs">3% SiO<tspan font-size="9.80" dy="0.28">2</tspan></text>
<text x="493.20" y="445.70" font-size="14" fill="#1a1a1a" font-family='"Liberation Serif", serif' textLength="43.80" lengthAdjust="spacingAndGlyphs">6% SiO<tspan font-size="9.80" dy="0.28">2</tspan></text>
<text x="494.00" y="471.00" font-size="14" fill="#1a1a1a" font-family='"Liberation Serif", serif' textLength="46.00" lengthAdjust="spacingAndGlyphs">9% SiO<tspan font-size="9.80" dy="0.28">2</tspan></text>
<text x="488.00" y="495.00" font-size="14" fill="#1a1a1a" font-family='"Liberation Serif", serif' textLength="52.00" lengthAdjust="spacingAndGlyphs">12% SiO<tspan font-size="9.80" dy="0.28">2</tspan></text>
<line x1="141.80" y1="75.40" x2="361.30" y2="75.40" stroke="#ee1166" stroke-width="1.7"/>
<polygon points="370.80,75.40 359.30,69.60 360.11,75.40 359.30,81.20" fill="#ee1166"/>
<line x1="134.10" y1="336.90" x2="354.30" y2="336.90" stroke="#ee1166" stroke-width="1.8"/>
<polygon points="363.80,336.90 352.30,331.20 353.11,336.90 352.30,342.60" fill="#ee1166"/>
</svg></body></html>
